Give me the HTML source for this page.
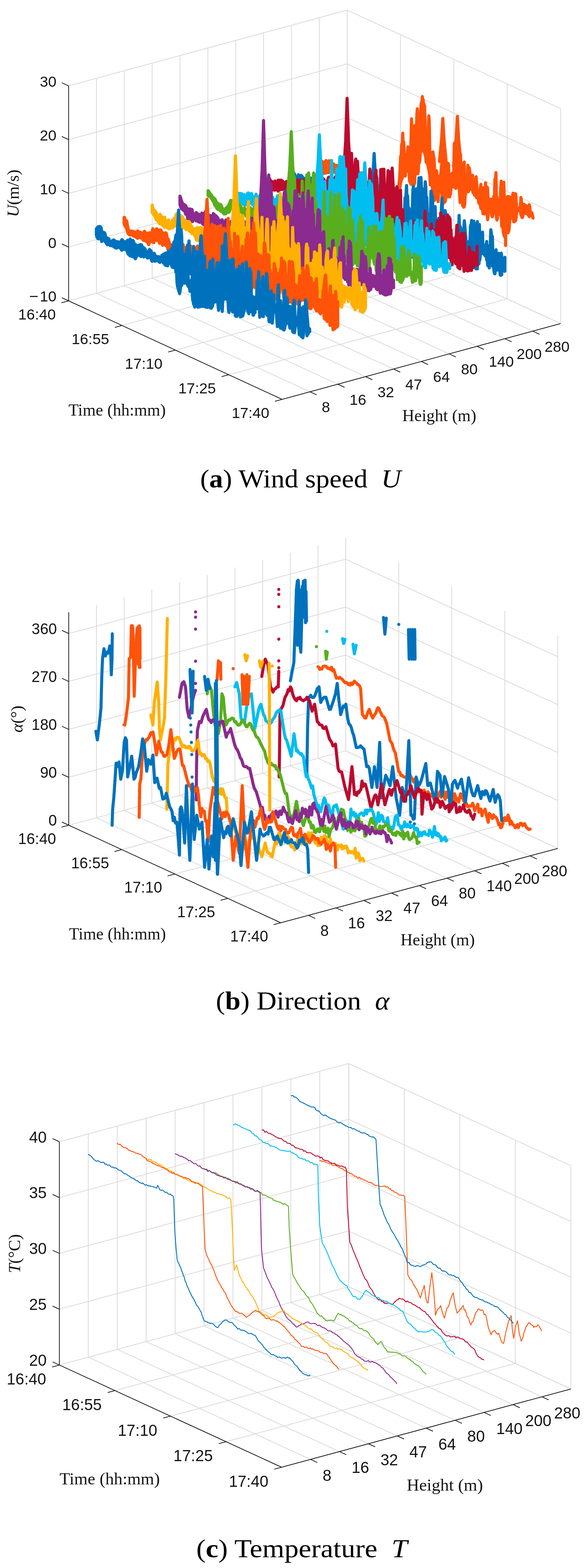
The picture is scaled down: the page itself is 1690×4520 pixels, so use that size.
<!DOCTYPE html>
<html><head><meta charset="utf-8"><title>Figure</title>
<style>html,body{margin:0;padding:0;background:#fff;}svg{display:block;}</style>
</head><body>
<svg width="1690" height="4520" viewBox="0 0 1690 4520" stroke-linecap="butt"><line x1="278.2" y1="845.4" x2="278.2" y2="225.8" stroke="#dadada" stroke-width="2.2"/>
<line x1="358.5" y1="823.5" x2="358.5" y2="203.9" stroke="#dadada" stroke-width="2.2"/>
<line x1="438.9" y1="801.7" x2="438.9" y2="182.1" stroke="#dadada" stroke-width="2.2"/>
<line x1="519.2" y1="779.8" x2="519.2" y2="160.2" stroke="#dadada" stroke-width="2.2"/>
<line x1="599.5" y1="758" x2="599.5" y2="138.4" stroke="#dadada" stroke-width="2.2"/>
<line x1="679.8" y1="736.1" x2="679.8" y2="116.5" stroke="#dadada" stroke-width="2.2"/>
<line x1="760.1" y1="714.2" x2="760.1" y2="94.6" stroke="#dadada" stroke-width="2.2"/>
<line x1="840.5" y1="692.4" x2="840.5" y2="72.8" stroke="#dadada" stroke-width="2.2"/>
<line x1="920.8" y1="670.6" x2="920.8" y2="51" stroke="#dadada" stroke-width="2.2"/>
<line x1="1001.1" y1="648.7" x2="1001.1" y2="29.1" stroke="#dadada" stroke-width="2.2"/>
<line x1="197.9" y1="867.2" x2="1001.1" y2="648.7" stroke="#dadada" stroke-width="2.2"/>
<line x1="197.9" y1="712.3" x2="1001.1" y2="493.8" stroke="#dadada" stroke-width="2.2"/>
<line x1="197.9" y1="557.4" x2="1001.1" y2="338.9" stroke="#dadada" stroke-width="2.2"/>
<line x1="197.9" y1="402.5" x2="1001.1" y2="184" stroke="#dadada" stroke-width="2.2"/>
<line x1="197.9" y1="247.6" x2="1001.1" y2="29.1" stroke="#dadada" stroke-width="2.2"/>
<line x1="1001.1" y1="648.7" x2="1001.1" y2="29.1" stroke="#dadada" stroke-width="2.2"/>
<line x1="1155" y1="719.7" x2="1155" y2="100.1" stroke="#dadada" stroke-width="2.2"/>
<line x1="1308.9" y1="790.7" x2="1308.9" y2="171.1" stroke="#dadada" stroke-width="2.2"/>
<line x1="1462.8" y1="861.7" x2="1462.8" y2="242.1" stroke="#dadada" stroke-width="2.2"/>
<line x1="1616.7" y1="932.7" x2="1616.7" y2="313.1" stroke="#dadada" stroke-width="2.2"/>
<line x1="1001.1" y1="648.7" x2="1616.7" y2="932.7" stroke="#dadada" stroke-width="2.2"/>
<line x1="1001.1" y1="493.8" x2="1616.7" y2="777.8" stroke="#dadada" stroke-width="2.2"/>
<line x1="1001.1" y1="338.9" x2="1616.7" y2="622.9" stroke="#dadada" stroke-width="2.2"/>
<line x1="1001.1" y1="184" x2="1616.7" y2="468" stroke="#dadada" stroke-width="2.2"/>
<line x1="1001.1" y1="29.1" x2="1616.7" y2="313.1" stroke="#dadada" stroke-width="2.2"/>
<line x1="278.2" y1="845.4" x2="893.8" y2="1129.3" stroke="#dadada" stroke-width="2.2"/>
<line x1="358.5" y1="823.5" x2="974.1" y2="1107.5" stroke="#dadada" stroke-width="2.2"/>
<line x1="438.9" y1="801.7" x2="1054.5" y2="1085.7" stroke="#dadada" stroke-width="2.2"/>
<line x1="519.2" y1="779.8" x2="1134.8" y2="1063.8" stroke="#dadada" stroke-width="2.2"/>
<line x1="599.5" y1="758" x2="1215.1" y2="1042" stroke="#dadada" stroke-width="2.2"/>
<line x1="679.8" y1="736.1" x2="1295.4" y2="1020.1" stroke="#dadada" stroke-width="2.2"/>
<line x1="760.1" y1="714.2" x2="1375.7" y2="998.2" stroke="#dadada" stroke-width="2.2"/>
<line x1="840.5" y1="692.4" x2="1456.1" y2="976.4" stroke="#dadada" stroke-width="2.2"/>
<line x1="920.8" y1="670.6" x2="1536.4" y2="954.6" stroke="#dadada" stroke-width="2.2"/>
<line x1="1001.1" y1="648.7" x2="1616.7" y2="932.7" stroke="#dadada" stroke-width="2.2"/>
<line x1="351.8" y1="938.2" x2="1155" y2="719.7" stroke="#dadada" stroke-width="2.2"/>
<line x1="505.7" y1="1009.2" x2="1308.9" y2="790.7" stroke="#dadada" stroke-width="2.2"/>
<line x1="659.6" y1="1080.2" x2="1462.8" y2="861.7" stroke="#dadada" stroke-width="2.2"/>
<line x1="813.5" y1="1151.2" x2="1616.7" y2="932.7" stroke="#dadada" stroke-width="2.2"/>
<line x1="278.1" y1="2357.4" x2="278.1" y2="1743.5" stroke="#dadada" stroke-width="2.2"/>
<line x1="358" y1="2335.9" x2="358" y2="1722.1" stroke="#dadada" stroke-width="2.2"/>
<line x1="437.8" y1="2314.5" x2="437.8" y2="1700.6" stroke="#dadada" stroke-width="2.2"/>
<line x1="517.7" y1="2293.1" x2="517.7" y2="1679.2" stroke="#dadada" stroke-width="2.2"/>
<line x1="597.6" y1="2271.7" x2="597.6" y2="1657.8" stroke="#dadada" stroke-width="2.2"/>
<line x1="677.5" y1="2250.2" x2="677.5" y2="1636.3" stroke="#dadada" stroke-width="2.2"/>
<line x1="757.4" y1="2228.8" x2="757.4" y2="1614.9" stroke="#dadada" stroke-width="2.2"/>
<line x1="837.2" y1="2207.4" x2="837.2" y2="1593.5" stroke="#dadada" stroke-width="2.2"/>
<line x1="917.1" y1="2185.9" x2="917.1" y2="1572.1" stroke="#dadada" stroke-width="2.2"/>
<line x1="997" y1="2164.5" x2="997" y2="1550.6" stroke="#dadada" stroke-width="2.2"/>
<line x1="198.2" y1="2378.8" x2="997" y2="2164.5" stroke="#dadada" stroke-width="2.2"/>
<line x1="198.2" y1="2240.7" x2="997" y2="2026.4" stroke="#dadada" stroke-width="2.2"/>
<line x1="198.2" y1="2102.6" x2="997" y2="1888.3" stroke="#dadada" stroke-width="2.2"/>
<line x1="198.2" y1="1964.4" x2="997" y2="1750.1" stroke="#dadada" stroke-width="2.2"/>
<line x1="198.2" y1="1826.3" x2="997" y2="1612" stroke="#dadada" stroke-width="2.2"/>
<line x1="997" y1="2164.5" x2="997" y2="1550.6" stroke="#dadada" stroke-width="2.2"/>
<line x1="1149.9" y1="2234.8" x2="1149.9" y2="1620.9" stroke="#dadada" stroke-width="2.2"/>
<line x1="1302.8" y1="2305.1" x2="1302.8" y2="1691.2" stroke="#dadada" stroke-width="2.2"/>
<line x1="1455.7" y1="2375.4" x2="1455.7" y2="1761.5" stroke="#dadada" stroke-width="2.2"/>
<line x1="1608.6" y1="2445.7" x2="1608.6" y2="1831.8" stroke="#dadada" stroke-width="2.2"/>
<line x1="997" y1="2164.5" x2="1608.6" y2="2445.7" stroke="#dadada" stroke-width="2.2"/>
<line x1="997" y1="2026.4" x2="1608.6" y2="2307.6" stroke="#dadada" stroke-width="2.2"/>
<line x1="997" y1="1888.3" x2="1608.6" y2="2169.5" stroke="#dadada" stroke-width="2.2"/>
<line x1="997" y1="1750.1" x2="1608.6" y2="2031.3" stroke="#dadada" stroke-width="2.2"/>
<line x1="997" y1="1612" x2="1608.6" y2="1893.2" stroke="#dadada" stroke-width="2.2"/>
<line x1="278.1" y1="2357.4" x2="889.7" y2="2638.6" stroke="#dadada" stroke-width="2.2"/>
<line x1="358" y1="2335.9" x2="969.6" y2="2617.1" stroke="#dadada" stroke-width="2.2"/>
<line x1="437.8" y1="2314.5" x2="1049.4" y2="2595.7" stroke="#dadada" stroke-width="2.2"/>
<line x1="517.7" y1="2293.1" x2="1129.3" y2="2574.3" stroke="#dadada" stroke-width="2.2"/>
<line x1="597.6" y1="2271.7" x2="1209.2" y2="2552.8" stroke="#dadada" stroke-width="2.2"/>
<line x1="677.5" y1="2250.2" x2="1289.1" y2="2531.4" stroke="#dadada" stroke-width="2.2"/>
<line x1="757.4" y1="2228.8" x2="1369" y2="2510" stroke="#dadada" stroke-width="2.2"/>
<line x1="837.2" y1="2207.4" x2="1448.8" y2="2488.6" stroke="#dadada" stroke-width="2.2"/>
<line x1="917.1" y1="2185.9" x2="1528.7" y2="2467.1" stroke="#dadada" stroke-width="2.2"/>
<line x1="997" y1="2164.5" x2="1608.6" y2="2445.7" stroke="#dadada" stroke-width="2.2"/>
<line x1="351.1" y1="2449.1" x2="1149.9" y2="2234.8" stroke="#dadada" stroke-width="2.2"/>
<line x1="504" y1="2519.4" x2="1302.8" y2="2305.1" stroke="#dadada" stroke-width="2.2"/>
<line x1="656.9" y1="2589.7" x2="1455.7" y2="2375.4" stroke="#dadada" stroke-width="2.2"/>
<line x1="809.8" y1="2660" x2="1608.6" y2="2445.7" stroke="#dadada" stroke-width="2.2"/>
<line x1="254.6" y1="3912.3" x2="254.6" y2="3268.7" stroke="#dadada" stroke-width="2.2"/>
<line x1="338.1" y1="3889.8" x2="338.1" y2="3246.2" stroke="#dadada" stroke-width="2.2"/>
<line x1="421.5" y1="3867.2" x2="421.5" y2="3223.6" stroke="#dadada" stroke-width="2.2"/>
<line x1="505" y1="3844.7" x2="505" y2="3201.1" stroke="#dadada" stroke-width="2.2"/>
<line x1="588.4" y1="3822.1" x2="588.4" y2="3178.5" stroke="#dadada" stroke-width="2.2"/>
<line x1="671.8" y1="3799.5" x2="671.8" y2="3155.9" stroke="#dadada" stroke-width="2.2"/>
<line x1="755.3" y1="3777" x2="755.3" y2="3133.4" stroke="#dadada" stroke-width="2.2"/>
<line x1="838.7" y1="3754.4" x2="838.7" y2="3110.8" stroke="#dadada" stroke-width="2.2"/>
<line x1="922.2" y1="3731.9" x2="922.2" y2="3088.3" stroke="#dadada" stroke-width="2.2"/>
<line x1="1005.6" y1="3709.3" x2="1005.6" y2="3065.7" stroke="#dadada" stroke-width="2.2"/>
<line x1="171.2" y1="3934.9" x2="1005.6" y2="3709.3" stroke="#dadada" stroke-width="2.2"/>
<line x1="171.2" y1="3774" x2="1005.6" y2="3548.4" stroke="#dadada" stroke-width="2.2"/>
<line x1="171.2" y1="3613.1" x2="1005.6" y2="3387.5" stroke="#dadada" stroke-width="2.2"/>
<line x1="171.2" y1="3452.2" x2="1005.6" y2="3226.6" stroke="#dadada" stroke-width="2.2"/>
<line x1="171.2" y1="3291.3" x2="1005.6" y2="3065.7" stroke="#dadada" stroke-width="2.2"/>
<line x1="1005.6" y1="3709.3" x2="1005.6" y2="3065.7" stroke="#dadada" stroke-width="2.2"/>
<line x1="1165.8" y1="3783" x2="1165.8" y2="3139.4" stroke="#dadada" stroke-width="2.2"/>
<line x1="1326" y1="3856.6" x2="1326" y2="3213" stroke="#dadada" stroke-width="2.2"/>
<line x1="1486.2" y1="3930.2" x2="1486.2" y2="3286.7" stroke="#dadada" stroke-width="2.2"/>
<line x1="1646.4" y1="4003.9" x2="1646.4" y2="3360.3" stroke="#dadada" stroke-width="2.2"/>
<line x1="1005.6" y1="3709.3" x2="1646.4" y2="4003.9" stroke="#dadada" stroke-width="2.2"/>
<line x1="1005.6" y1="3548.4" x2="1646.4" y2="3843" stroke="#dadada" stroke-width="2.2"/>
<line x1="1005.6" y1="3387.5" x2="1646.4" y2="3682.1" stroke="#dadada" stroke-width="2.2"/>
<line x1="1005.6" y1="3226.6" x2="1646.4" y2="3521.2" stroke="#dadada" stroke-width="2.2"/>
<line x1="1005.6" y1="3065.7" x2="1646.4" y2="3360.3" stroke="#dadada" stroke-width="2.2"/>
<line x1="254.6" y1="3912.3" x2="895.4" y2="4206.9" stroke="#dadada" stroke-width="2.2"/>
<line x1="338.1" y1="3889.8" x2="978.9" y2="4184.4" stroke="#dadada" stroke-width="2.2"/>
<line x1="421.5" y1="3867.2" x2="1062.3" y2="4161.8" stroke="#dadada" stroke-width="2.2"/>
<line x1="505" y1="3844.7" x2="1145.8" y2="4139.3" stroke="#dadada" stroke-width="2.2"/>
<line x1="588.4" y1="3822.1" x2="1229.2" y2="4116.7" stroke="#dadada" stroke-width="2.2"/>
<line x1="671.8" y1="3799.5" x2="1312.6" y2="4094.1" stroke="#dadada" stroke-width="2.2"/>
<line x1="755.3" y1="3777" x2="1396.1" y2="4071.6" stroke="#dadada" stroke-width="2.2"/>
<line x1="838.7" y1="3754.4" x2="1479.5" y2="4049" stroke="#dadada" stroke-width="2.2"/>
<line x1="922.2" y1="3731.9" x2="1563" y2="4026.5" stroke="#dadada" stroke-width="2.2"/>
<line x1="1005.6" y1="3709.3" x2="1646.4" y2="4003.9" stroke="#dadada" stroke-width="2.2"/>
<line x1="331.4" y1="4008.6" x2="1165.8" y2="3783" stroke="#dadada" stroke-width="2.2"/>
<line x1="491.6" y1="4082.2" x2="1326" y2="3856.6" stroke="#dadada" stroke-width="2.2"/>
<line x1="651.8" y1="4155.9" x2="1486.2" y2="3930.2" stroke="#dadada" stroke-width="2.2"/>
<line x1="812" y1="4229.5" x2="1646.4" y2="4003.9" stroke="#dadada" stroke-width="2.2"/>
<polygon points="921,480.8 922.5,477.7 924,469.5 925.5,467 927,469.3 928.5,464.7 930,466.1 931.5,473.6 933,471 934.5,472 936,471.4 937.5,471.8 939,463.8 940.5,462.7 942,467.5 943.5,474.9 945,475 946.5,467 948,465 949.5,463.2 951,464.5 952.6,465.8 954.1,468.5 955.6,469 957.1,471.6 958.6,472.6 960.1,473.2 961.6,472.3 963.1,474.2 964.6,475.6 966.1,478.1 967.6,480.1 969.1,477 970.6,476.3 972.1,478.6 973.6,477.8 975.1,477.7 976.6,478.3 978.1,478.5 979.6,482 981.1,476 982.6,478.9 984.1,478.6 985.6,480.1 987.1,481.6 988.6,483.1 990.1,485.1 991.6,492.7 993.1,492.8 994.6,489.1 996.1,492.7 997.6,498.7 999.1,502.2 1000.6,506.1 1002.1,507.3 1003.6,506.9 1005.1,505.5 1006.6,504.4 1008.1,506.8 1009.6,512.8 1011.1,514 1012.6,515.1 1014.2,516.3 1015.7,517.4 1017.2,514.5 1018.7,514.4 1020.2,514.8 1021.7,518 1023.2,517.6 1024.7,515.3 1026.2,512.4 1027.7,511.4 1029.2,516.4 1030.7,515.6 1032.2,516.8 1033.7,514.6 1035.2,521.6 1036.7,518 1038.2,520.3 1039.7,521.7 1041.2,525.6 1042.7,525.3 1044.2,525.3 1045.7,527.1 1047.2,527.4 1048.7,527.4 1050.2,525.2 1051.7,524.7 1053.2,525.4 1054.7,523.6 1056.2,529.2 1057.7,530.1 1059.2,529.3 1060.7,525.7 1062.2,528.6 1063.7,532.4 1065.2,533 1066.7,531 1068.2,527 1069.7,525.2 1071.2,530.5 1072.7,535.2 1074.2,535.2 1075.8,535.6 1077.3,536.3 1078.8,536.5 1080.3,529.8 1081.8,532 1083.3,532.1 1084.8,539.1 1086.3,537.1 1087.8,535 1089.3,537 1090.8,534.9 1092.3,536.2 1093.8,540.4 1095.3,538.2 1096.8,539.1 1098.3,547 1099.8,547.6 1101.3,548.6 1102.8,546.5 1104.3,546.2 1105.8,545.1 1107.3,545.4 1108.8,543.4 1110.3,542.9 1111.8,541.1 1113.3,540.8 1114.8,546.5 1116.3,548.3 1117.8,549.5 1119.3,543 1120.8,544.3 1122.3,547.8 1123.8,550.6 1125.3,550.8 1126.8,549.1 1128.3,549.1 1129.8,549.5 1131.3,549.6 1132.8,548 1134.3,550.5 1135.8,551.8 1137.4,550.6 1138.9,546.6 1140.4,543.5 1141.9,547 1143.4,550.1 1144.9,549.4 1146.4,546.5 1147.9,544.3 1149.4,544.4 1150.9,527.5 1152.4,514.1 1153.9,485.9 1155.4,450.1 1156.9,453.7 1158.4,416.3 1159.9,431.9 1161.4,384 1162.9,420.6 1164.4,409.7 1165.9,447.2 1167.4,446.8 1168.9,446.6 1170.4,446.3 1171.9,445.9 1173.4,445.2 1174.9,444.5 1176.4,423.4 1177.9,444 1179.4,443.7 1180.9,443.5 1182.4,443.2 1183.9,442.9 1185.4,402.9 1186.9,342.4 1188.4,427.2 1189.9,441.9 1191.4,441.6 1192.9,416.5 1194.4,375.2 1195.9,362.3 1197.4,428.3 1199,424.7 1200.5,421 1202,334.6 1203.5,313.7 1205,334.1 1206.5,388 1208,402.8 1209.5,399.2 1211,395.5 1212.5,362.3 1214,305.1 1215.5,294.3 1217,294.1 1218.5,285.4 1220,286.3 1221.5,297.8 1223,300.8 1224.5,305.5 1226,352 1227.5,395.1 1229,397.8 1230.5,400.4 1232,403 1233.5,405.6 1235,393.7 1236.5,334 1238,350 1239.5,435.7 1241,444.4 1242.5,467.7 1244,478.5 1245.5,487.4 1247,478.7 1248.5,438 1250,450.4 1251.5,454.1 1253,478.1 1254.5,518.5 1256,491.1 1257.5,523.8 1259,493.1 1260.6,510.9 1262.1,507.7 1263.6,520.3 1265.1,516.7 1266.6,513.1 1268.1,509.5 1269.6,505.9 1271.1,501.8 1272.6,486.5 1274.1,471.3 1275.6,396 1277.1,357.9 1278.6,383.2 1280.1,456.9 1281.6,464.4 1283.1,449.7 1284.6,448 1286.1,487 1287.6,494.5 1289.1,502 1290.6,509.5 1292.1,470.8 1293.6,474.7 1295.1,509.1 1296.6,507.5 1298.1,506 1299.6,504.5 1301.1,503 1302.6,501.5 1304.1,500 1305.6,498.5 1307.1,496.6 1308.6,494.7 1310.1,413.2 1311.6,411.6 1313.1,410 1314.6,481 1316.1,459.6 1317.6,452 1319.1,497.7 1320.6,472.7 1322.2,484.9 1323.7,507.7 1325.2,473.8 1326.7,442.7 1328.2,444.6 1329.7,516.9 1331.2,519.2 1332.7,522.2 1334.2,526 1335.7,529.8 1337.2,493.1 1338.7,467.3 1340.2,536.1 1341.7,536.6 1343.2,537.2 1344.7,537.7 1346.2,508.6 1347.7,534.6 1349.2,476.6 1350.7,505.3 1352.2,482.6 1353.7,484.9 1355.2,497.5 1356.7,523.5 1358.2,537.7 1359.7,537.5 1361.2,506.2 1362.7,505.3 1364.2,531.6 1365.7,536.5 1367.2,536.7 1368.7,539.1 1370.2,516.5 1371.7,534.1 1373.2,509.6 1374.7,531.1 1376.2,551.1 1377.7,553.5 1379.2,556 1380.7,558.4 1382.2,560.8 1383.8,558.3 1385.3,541.9 1386.8,531.5 1388.3,569.1 1389.8,571.1 1391.3,573 1392.8,575 1394.3,541.2 1395.8,555.3 1397.3,550.3 1398.8,575.7 1400.3,527.1 1401.8,585.9 1403.3,552.1 1404.8,539.3 1406.3,542.4 1407.8,581.3 1409.3,579.8 1410.8,578.3 1412.3,576.9 1413.8,575.4 1415.3,574.2 1416.8,574.3 1418.3,574.4 1419.8,574.5 1421.3,574.6 1422.8,574.7 1424.3,565.3 1425.8,574.9 1427.3,515.7 1428.8,516.5 1430.3,497.8 1431.8,574.9 1433.3,568.5 1434.8,583.4 1436.3,585.3 1437.8,579.5 1439.3,588.9 1440.8,590.8 1442.3,592.6 1443.8,548.8 1445.4,522.2 1446.9,568.1 1448.4,607.7 1449.9,577 1451.4,551 1452.9,525.5 1454.4,568.6 1455.9,578.7 1457.4,570.7 1458.9,626 1460.4,633.8 1461.9,585.7 1463.4,566.8 1464.9,567.8 1466.4,566.4 1467.9,590.6 1469.4,567.4 1470.9,591 1472.4,587.5 1473.9,608.9 1475.4,606.7 1476.9,605.2 1478.4,563.9 1479.9,556.8 1481.4,567.7 1482.9,600.6 1484.4,599.5 1485.9,558.2 1487.4,559.1 1488.9,583.4 1490.4,598.9 1491.9,599.5 1493.4,600.2 1494.9,600.8 1496.4,601.4 1497.9,602 1499.4,601.5 1500.9,590.4 1502.4,569.4 1503.9,578.5 1505.4,602.6 1507,605.7 1508.5,606.3 1510,588.8 1511.5,588.9 1513,594.7 1514.5,592 1516,608.3 1517.5,592.8 1519,594.4 1520.5,596.6 1522,598.7 1523.5,603.5 1525,594.4 1526.5,590.1 1528,596.6 1529.5,612.2 1531,612.6 1532.5,613 1534,613.3 1535.5,620.7 1537,626.7 1537,628.7 1535.5,622.7 1534,618 1532.5,615.4 1531,615.2 1529.5,614.8 1528,619.7 1526.5,624.5 1525,620.1 1523.5,619.8 1522,616.6 1520.5,616.6 1519,615.1 1517.5,615.5 1516,615 1514.5,611.7 1513,611.4 1511.5,611.1 1510,610.8 1508.5,621.2 1507,626.4 1505.4,627 1503.9,620 1502.4,620.4 1500.9,608.7 1499.4,608.4 1497.9,608 1496.4,607.7 1494.9,607.3 1493.4,607 1491.9,606.6 1490.4,606.3 1488.9,623.6 1487.4,635.3 1485.9,636.6 1484.4,638.1 1482.9,639.6 1481.4,639.1 1479.9,611.2 1478.4,612.5 1476.9,628.8 1475.4,629.5 1473.9,617.8 1472.4,620.3 1470.9,622.7 1469.4,645.7 1467.9,663.7 1466.4,667.9 1464.9,671.3 1463.4,665.4 1461.9,653.4 1460.4,652.3 1458.9,665.7 1457.4,676.5 1455.9,683.4 1454.4,680.3 1452.9,675.3 1451.4,668.1 1449.9,648.2 1448.4,628.9 1446.9,652.6 1445.4,616.9 1443.8,617.3 1442.3,610.7 1440.8,607.9 1439.3,617.9 1437.8,618.2 1436.3,599.7 1434.8,628.5 1433.3,634.2 1431.8,627.8 1430.3,608.2 1428.8,613.7 1427.3,585.5 1425.8,585.4 1424.3,585.4 1422.8,591.6 1421.3,620.7 1419.8,625.1 1418.3,622 1416.8,604.6 1415.3,585.5 1413.8,586.6 1412.3,588 1410.8,589.4 1409.3,594.7 1407.8,621.5 1406.3,633.5 1404.8,617.8 1403.3,596.4 1401.8,597.3 1400.3,595 1398.8,603.2 1397.3,616.9 1395.8,611.3 1394.3,602.9 1392.8,616 1391.3,603.6 1389.8,602.5 1388.3,595.2 1386.8,601 1385.3,589.4 1383.8,588.4 1382.2,582.4 1380.7,585.1 1379.2,569.9 1377.7,559.6 1376.2,563.2 1374.7,570.2 1373.2,559.5 1371.7,564.8 1370.2,553.1 1368.7,563.2 1367.2,558.7 1365.7,556.4 1364.2,555.7 1362.7,545.5 1361.2,543.7 1359.7,544.3 1358.2,545 1356.7,545.6 1355.2,546.2 1353.7,546.9 1352.2,547.5 1350.7,552.7 1349.2,548.8 1347.7,548.8 1346.2,548.7 1344.7,549.8 1343.2,557.1 1341.7,563.3 1340.2,588.7 1338.7,595.8 1337.2,597.3 1335.7,578.6 1334.2,592.6 1332.7,571.7 1331.2,578.3 1329.7,581 1328.2,578.2 1326.7,583.6 1325.2,552.1 1323.7,542.1 1322.2,527.7 1320.6,522.4 1319.1,517.1 1317.6,515.1 1316.1,536.5 1314.6,543 1313.1,527.8 1311.6,511.8 1310.1,520.3 1308.6,538.8 1307.1,528.8 1305.6,521 1304.1,518 1302.6,520 1301.1,537.4 1299.6,559.3 1298.1,561.3 1296.6,568 1295.1,563 1293.6,560.7 1292.1,566.8 1290.6,535.9 1289.1,537.4 1287.6,538.9 1286.1,565.7 1284.6,579.2 1283.1,582.6 1281.6,570.1 1280.1,561.5 1278.6,582.9 1277.1,589.4 1275.6,588.6 1274.1,547.5 1272.6,546.5 1271.1,545.5 1269.6,544.9 1268.1,544.4 1266.6,554.1 1265.1,551.6 1263.6,581.4 1262.1,569.1 1260.6,574.4 1259,562.1 1257.5,540.2 1256,556.6 1254.5,567.1 1253,577.4 1251.5,576.5 1250,572.2 1248.5,562.6 1247,540.5 1245.5,532.8 1244,527.4 1242.5,520.4 1241,532.9 1239.5,506.3 1238,496.3 1236.5,488.5 1235,480.7 1233.5,473.7 1232,468 1230.5,462.4 1229,467.8 1227.5,451.1 1226,445.5 1224.5,441.8 1223,434.2 1221.5,428.6 1220,422.9 1218.5,417.3 1217,419.1 1215.5,435.2 1214,429.6 1212.5,439.5 1211,458.5 1209.5,469.2 1208,460.4 1206.5,493.5 1205,501.1 1203.5,488.4 1202,493.4 1200.5,487.5 1199,482.2 1197.4,492.5 1195.9,528.3 1194.4,531.4 1192.9,534.2 1191.4,505.2 1189.9,513.3 1188.4,515.7 1186.9,528 1185.4,531.4 1183.9,528 1182.4,524.5 1180.9,521.1 1179.4,477.6 1177.9,474.2 1176.4,470.7 1174.9,467.5 1173.4,490.3 1171.9,494.2 1170.4,490.8 1168.9,507.4 1167.4,500.7 1165.9,485.3 1164.4,482.9 1162.9,482.1 1161.4,493.8 1159.9,514.5 1158.4,511.7 1156.9,521.3 1155.4,526.5 1153.9,536.3 1152.4,547.2 1150.9,564.8 1149.4,566.1 1147.9,564.1 1146.4,565.8 1144.9,570 1143.4,569.8 1141.9,565.7 1140.4,566 1138.9,565.1 1137.4,567.5 1135.8,566.2 1134.3,564.7 1132.8,562.5 1131.3,560.7 1129.8,563.1 1128.3,566.8 1126.8,565.8 1125.3,566.1 1123.8,565.6 1122.3,564.9 1120.8,564.4 1119.3,560.3 1117.8,559.1 1116.3,559.8 1114.8,560.3 1113.3,566.8 1111.8,566.4 1110.3,566.4 1108.8,561.4 1107.3,559.6 1105.8,557.9 1104.3,558 1102.8,558 1101.3,560.9 1099.8,561.3 1098.3,558.8 1096.8,555.9 1095.3,555.7 1093.8,560.9 1092.3,561.5 1090.8,556.1 1089.3,552.7 1087.8,552.1 1086.3,555.7 1084.8,555.9 1083.3,553.1 1081.8,551.5 1080.3,551 1078.8,553.5 1077.3,557 1075.8,552.8 1074.2,548.5 1072.7,546.4 1071.2,550.3 1069.7,547.1 1068.2,546.2 1066.7,547.7 1065.2,550.7 1063.7,548.7 1062.2,550.3 1060.7,547 1059.2,543.1 1057.7,540.4 1056.2,539.6 1054.7,539.4 1053.2,541 1051.7,546.6 1050.2,544.1 1048.7,544.1 1047.2,538.1 1045.7,537 1044.2,536.6 1042.7,539.9 1041.2,540.6 1039.7,543.7 1038.2,545 1036.7,543.5 1035.2,542.9 1033.7,541.4 1032.2,543.1 1030.7,543.2 1029.2,542.3 1027.7,533.4 1026.2,533.4 1024.7,537.9 1023.2,539.2 1021.7,539 1020.2,535.3 1018.7,531.3 1017.2,531.5 1015.7,532.2 1014.2,528.7 1012.6,527.1 1011.1,524.3 1009.6,522.8 1008.1,522 1006.6,520.6 1005.1,519.4 1003.6,519 1002.1,517.2 1000.6,517.3 999.1,518.5 997.6,515.5 996.1,522.5 994.6,520.7 993.1,520.1 991.6,517.5 990.1,514.6 988.6,508 987.1,511.3 985.6,508.1 984.1,510 982.6,507.6 981.1,510.8 979.6,507.5 978.1,503.1 976.6,498.2 975.1,495.7 973.6,495.5 972.1,499.9 970.6,498.1 969.1,494.5 967.6,493.3 966.1,497.8 964.6,493.9 963.1,492.5 961.6,495.9 960.1,495.5 958.6,495.2 957.1,491.6 955.6,491.6 954.1,492.6 952.6,496.4 951,492.4 949.5,495.3 948,496.7 946.5,497.7 945,497.5 943.5,494.5 942,494.6 940.5,498.7 939,499 937.5,499.2 936,499.4 934.5,499.3 933,499.9 931.5,492.6 930,489.6 928.5,489.3 927,492.3 925.5,495 924,495.8 922.5,497.2 921,499" fill="#FF5309" stroke="#FF5309" stroke-width="9" stroke-linejoin="round"/>
<polygon points="1218,278.5 1220.4,320.5 1225,367 1211,367 1215.6,320.5" fill="#FF5309" stroke="#FF5309" stroke-width="9" stroke-linejoin="round"/>
<polygon points="1319,335.5 1322.9,404.8 1330.1,478.6 1307.9,478.6 1315.1,404.8" fill="#FF5309" stroke="#FF5309" stroke-width="9" stroke-linejoin="round"/>
<polygon points="1277,341.5 1280.4,401.2 1286.6,465.5 1267.4,465.5 1273.6,401.2" fill="#FF5309" stroke="#FF5309" stroke-width="9" stroke-linejoin="round"/>
<line x1="1458" y1="707.5" x2="1458" y2="621" stroke="#FF5309" stroke-width="9" stroke-linecap="round"/>
<polygon points="841,501.9 842.5,499.2 844,504.7 845.5,502.6 847,500 848.5,500.4 850,502.6 851.5,509.4 853,512 854.5,514.4 856,514.9 857.5,511.2 859,512.2 860.5,503.6 862,510.2 863.5,513.1 865,512.8 866.5,510.4 868,505.4 869.5,511.2 871,507.7 872.5,513.1 874,511.6 875.5,513.8 877,520.1 878.5,520.4 880,521 881.5,515.8 883,512.5 884.5,512 886,521.4 887.5,521.2 889,518.1 890.5,513.8 892,512.2 893.5,515.4 895,513.1 896.5,513.5 898,519.1 899.5,521.4 901,523.8 902.5,526.9 904,524.1 905.5,523.7 907,516.6 908.5,517.3 910,520.2 911.5,523 913,525.7 914.5,529.5 916,529.8 917.5,526.5 919,526.4 920.5,528.9 922,530.6 923.5,530.2 925,531.4 926.5,530.3 928,530.4 929.5,525.7 931,524.6 932.5,521.8 934,525 935.5,523.6 937,522.8 938.5,524.9 940,529 941.5,530.6 943,534.9 944.5,534.6 946,533.5 947.5,530.6 949,530.8 950.5,534 952,530.3 953.5,525.5 955,525.8 956.5,535.4 958,537.4 959.5,536 961,537.1 962.5,533.6 964,528.8 965.5,528.1 967,533.8 968.5,534.9 970,535 971.5,534.5 973,541.2 974.5,533.4 976,538.7 977.5,533 979,534 980.5,537 982,538.8 983.5,536.8 985,530.1 986.5,534.8 988,543.8 989.5,538.9 991,542.4 992.5,539.6 994,544.6 995.5,542 997,542.6 998.5,539.5 1000,537.2 1001.5,539.1 1003,540.7 1004.5,546.6 1006,545 1007.5,535.1 1009,535.3 1010.5,533.3 1012,533.5 1013.5,533.7 1015,533.9 1016.5,534.1 1018,534.5 1019.5,546.7 1021,547.8 1022.5,547.6 1024,549.9 1025.5,550.1 1027,549.6 1028.5,545.4 1030,536.4 1031.5,537 1033,536.1 1034.5,540 1036,542.4 1037.5,547.5 1039,548.4 1040.5,547.6 1042,546.2 1043.5,543.8 1045,538.5 1046.5,539 1048,538 1049.5,538.2 1051,538.4 1052.5,538.6 1054,542.4 1055.5,544 1057,546.7 1058.5,541.5 1060,544.1 1061.5,540.5 1063,543.2 1064.5,542.7 1066,547.6 1067.5,554 1069,554.5 1070.5,555.5 1072,552.4 1073.5,546 1075,528.7 1076.5,565.1 1078,566.9 1079.5,566.7 1081,569.7 1082.5,572.6 1084,575.6 1085.5,507.1 1087,512.3 1088.5,552.4 1090,564.9 1091.5,580 1093,580.6 1094.5,596.3 1096,583.6 1097.5,551 1099,553.7 1100.5,572.3 1102,603.8 1103.5,570.6 1105,569.4 1106.5,547.3 1108,571.8 1109.5,567.3 1111,545.5 1112.5,605.4 1114,605.6 1115.5,605.8 1117,606.1 1118.5,606.3 1120,606.5 1121.5,606.7 1123,607 1124.5,557.7 1126,555.9 1127.5,606.1 1129,607.9 1130.5,608.1 1132,608.3 1133.5,608.5 1135,608.8 1136.5,561.5 1138,550.5 1139.5,581.6 1141,605.3 1142.5,605.8 1144,584.2 1145.5,582.1 1147,556.3 1148.5,572.7 1150,583.1 1151.5,613.2 1153,613.7 1154.5,614.2 1156,614.7 1157.5,615.2 1159,606.2 1160.5,616.1 1162,611.7 1163.5,611.6 1165,617.6 1166.5,618.1 1168,570.8 1169.5,589.9 1171,558.7 1172.5,534.8 1174,582.5 1175.5,564.5 1177,600.2 1178.5,598.5 1180,600.3 1181.5,619.1 1183,618.8 1184.5,618.4 1186,618.1 1187.5,616.1 1189,617.4 1190.5,551 1192,537 1193.5,577 1195,616 1196.5,615.6 1198,615.3 1199.5,577.5 1201,544.1 1202.5,614.2 1204,613.9 1205.5,607.2 1207,530.6 1208.5,512.8 1210,612.4 1211.5,612.1 1213,611.7 1214.5,612 1216,613.5 1217.5,605.6 1219,611.3 1220.5,549.9 1222,594.5 1223.5,544.2 1225,578.4 1226.5,524 1228,538.2 1229.5,627 1231,569.1 1232.5,630 1234,631.5 1235.5,616.5 1237,634.5 1238.5,636 1240,637.5 1241.5,610.4 1243,551 1244.5,559.8 1246,565.4 1247.5,568.1 1249,640.3 1250.5,648 1252,649.5 1253.5,602.3 1255,595.6 1256.5,654 1258,655.5 1259.5,656.9 1261,658.3 1262.5,659.7 1264,632.2 1265.5,629.3 1267,650 1268.5,656.7 1270,630.1 1271.5,652.7 1273,603.7 1274.5,570.9 1276,608.6 1277.5,613.4 1279,608.2 1280.5,656.4 1282,677.9 1283.5,607 1285,613.3 1286.5,641.8 1288,641.8 1289.5,670.4 1291,685.5 1292.5,686.4 1294,687.2 1295.5,688 1297,688.9 1298.5,689.7 1300,690.6 1301.5,691.4 1303,692.2 1304.5,693.1 1306,693.9 1307.5,694.7 1309,695.6 1310.5,696.4 1312,697.3 1313.5,698.1 1315,698.9 1316.5,699.8 1318,682.1 1319.5,701.4 1321,702.1 1322.5,681.1 1324,620.9 1325.5,684 1327,652.6 1328.5,656.6 1330,689 1331.5,707.3 1333,708.1 1334.5,692.6 1336,701.5 1337.5,664.7 1339,636.5 1340.5,650.6 1342,670.5 1343.5,684.2 1345,714 1346.5,714.7 1348,697.4 1349.5,716.2 1351,710.9 1352.5,695.7 1354,718.4 1355.5,687.2 1357,649.9 1358.5,655.4 1360,635.6 1361.5,720.1 1363,720.5 1364.5,720.8 1366,637.6 1367.5,644.9 1369,661.6 1370.5,687.9 1372,685.3 1373.5,659.7 1375,660.5 1376.5,638.7 1378,679 1379.5,661.2 1381,668.1 1382.5,647.2 1384,692.1 1385.5,715.5 1387,719.6 1388.5,719.1 1390,719.6 1391.5,669.2 1393,721.6 1394.5,722.7 1396,723.7 1397.5,724.7 1399,707.3 1400.5,726.8 1402,710.8 1403.5,696.2 1405,729.9 1406.5,730.9 1408,732 1409.5,733 1411,734 1412.5,707.9 1414,704.3 1415.5,662.2 1417,671 1418.5,692.7 1420,681.8 1421.5,736.5 1423,742.4 1424.5,743.5 1426,744.6 1427.5,745.7 1429,731.7 1430.5,720 1432,749 1433.5,750.1 1435,751.2 1436.5,752.3 1438,730.2 1439.5,752.9 1441,755.6 1442.5,756.5 1444,737.7 1445.5,729.7 1447,738.3 1448.5,760.2 1450,761.1 1451.5,762.1 1453,763 1454.5,763.9 1456,741.8 1456,781.9 1454.5,774.3 1453,771.7 1451.5,774.5 1450,767.2 1448.5,766.7 1447,791.9 1445.5,792.8 1444,793.7 1442.5,792.6 1441,773.1 1439.5,763 1438,762 1436.5,770.7 1435,778.5 1433.5,773.2 1432,772 1430.5,779.4 1429,761.5 1427.5,789.4 1426,788.7 1424.5,781 1423,761.5 1421.5,768.6 1420,765.4 1418.5,748.9 1417,762.2 1415.5,758.8 1414,759.7 1412.5,763.7 1411,772.4 1409.5,766.5 1408,760.9 1406.5,765.2 1405,747.3 1403.5,749.1 1402,737.5 1400.5,736.4 1399,737.5 1397.5,734.4 1396,733.3 1394.5,732.3 1393,731.3 1391.5,730.2 1390,729.2 1388.5,728.7 1387,729.4 1385.5,730.1 1384,749.1 1382.5,750.3 1381,760.8 1379.5,753.1 1378,733.8 1376.5,775.1 1375,775.3 1373.5,774.9 1372,774.6 1370.5,768.3 1369,739.5 1367.5,733.6 1366,752.7 1364.5,756.6 1363,772.5 1361.5,764.2 1360,761.5 1358.5,762.5 1357,759.9 1355.5,770.8 1354,755.3 1352.5,729.9 1351,741.3 1349.5,740.5 1348,732.9 1346.5,741.3 1345,754.7 1343.5,757.2 1342,765.4 1340.5,750.5 1339,749.4 1337.5,733.2 1336,748.6 1334.5,748.1 1333,754.5 1331.5,754.9 1330,720.2 1328.5,719.6 1327,718.9 1325.5,718.3 1324,721.8 1322.5,750.3 1321,756.4 1319.5,755.7 1318,715.2 1316.5,714.7 1315,724.4 1313.5,747.5 1312,753.2 1310.5,752.7 1309,752.2 1307.5,733.6 1306,711.2 1304.5,710.7 1303,710.3 1301.5,731.9 1300,743.2 1298.5,718.1 1297,737.8 1295.5,724.1 1294,723.7 1292.5,706.8 1291,706.3 1289.5,705.8 1288,714.1 1286.5,740.5 1285,714 1283.5,743.9 1282,743 1280.5,739.6 1279,721.8 1277.5,725.4 1276,731.1 1274.5,740.9 1273,740.4 1271.5,729.5 1270,699.4 1268.5,731.8 1267,732.5 1265.5,731.5 1264,729.7 1262.5,727.9 1261,734.4 1259.5,721 1258,704.3 1256.5,708.2 1255,734.1 1253.5,722.6 1252,727.7 1250.5,712.7 1249,705.8 1247.5,690.7 1246,695.6 1244.5,706.1 1243,728.7 1241.5,728 1240,717.5 1238.5,726.6 1237,704.4 1235.5,725.3 1234,724.6 1232.5,694.4 1231,683.2 1229.5,688.7 1228,681.9 1226.5,681.2 1225,702.7 1223.5,719.8 1222,715.5 1220.5,678.5 1219,677.8 1217.5,677.3 1216,703.6 1214.5,711.4 1213,714.6 1211.5,713.3 1210,685.5 1208.5,697.5 1207,669.3 1205.5,668 1204,666.7 1202.5,665.4 1201,664 1199.5,666.3 1198,664.1 1196.5,691.9 1195,680.8 1193.5,661.9 1192,656.1 1190.5,689.8 1189,693.4 1187.5,692.1 1186,672.1 1184.5,676 1183,688.1 1181.5,682.5 1180,685.5 1178.5,684.4 1177,683.2 1175.5,682.1 1174,681 1172.5,676.3 1171,668.2 1169.5,677.6 1168,676.4 1166.5,635.4 1165,634.2 1163.5,636.3 1162,672 1160.5,658 1159,669.2 1157.5,628.6 1156,627.5 1154.5,654.7 1153,665.2 1151.5,664.1 1150,633.1 1148.5,644.9 1147,622.1 1145.5,621.5 1144,632.3 1142.5,657.4 1141,656.2 1139.5,655.3 1138,630.8 1136.5,618.4 1135,618.1 1133.5,617.8 1132,617.4 1130.5,643.7 1129,631.3 1127.5,647.4 1126,644.9 1124.5,640.6 1123,631.5 1121.5,627.3 1120,644.8 1118.5,643.9 1117,644.3 1115.5,643.8 1114,642.4 1112.5,627.7 1111,612.8 1109.5,612.5 1108,612.2 1106.5,626.7 1105,611.5 1103.5,611.2 1102,612.8 1100.5,610.5 1099,610.2 1097.5,615.8 1096,606.4 1094.5,603.8 1093,619.2 1091.5,625.4 1090,608.9 1088.5,617.2 1087,608.6 1085.5,605.4 1084,601.1 1082.5,614.1 1081,590.7 1079.5,584.3 1078,580.7 1076.5,589.1 1075,594.7 1073.5,599.8 1072,595.5 1070.5,594.2 1069,582.4 1067.5,578.6 1066,578.3 1064.5,586.5 1063,586.5 1061.5,577.2 1060,576.3 1058.5,572.2 1057,570.8 1055.5,570.4 1054,572.4 1052.5,583.6 1051,582.2 1049.5,578.5 1048,575.1 1046.5,572.1 1045,568.9 1043.5,567.6 1042,574.8 1040.5,580.2 1039,575.4 1037.5,573.7 1036,575.5 1034.5,567.9 1033,565.7 1031.5,564.8 1030,565.1 1028.5,564.9 1027,568.3 1025.5,570.3 1024,567.8 1022.5,572.4 1021,575.8 1019.5,571.9 1018,569.5 1016.5,568.1 1015,564 1013.5,567.6 1012,566.6 1010.5,565.9 1009,563.1 1007.5,562.8 1006,564.9 1004.5,569.9 1003,566.3 1001.5,567.5 1000,568.4 998.5,558.7 997,557.5 995.5,557.6 994,557.9 992.5,559.1 991,567.9 989.5,567.9 988,566.8 986.5,565.3 985,566.8 983.5,564.7 982,557.8 980.5,558.3 979,560.7 977.5,557.6 976,561.3 974.5,564.1 973,563.8 971.5,563.4 970,563 968.5,558.1 967,555.2 965.5,552.3 964,557 962.5,558.5 961,559.3 959.5,555.7 958,560 956.5,557.6 955,551.4 953.5,551 952,552.2 950.5,554.4 949,555.3 947.5,557.3 946,554.4 944.5,550.9 943,545.9 941.5,547.7 940,549.6 938.5,549.6 937,546.8 935.5,546.6 934,544 932.5,544.9 931,543.6 929.5,547.7 928,545 926.5,547.2 925,543.6 923.5,541.9 922,542 920.5,548.7 919,551.3 917.5,547.6 916,541.9 914.5,541.7 913,544.9 911.5,542.4 910,541.8 908.5,538.8 907,538.4 905.5,538.1 904,538.2 902.5,540.4 901,543.4 899.5,546.3 898,547 896.5,546.9 895,546.6 893.5,546.4 892,546.1 890.5,545.9 889,545.6 887.5,544.3 886,544.6 884.5,539.6 883,537 881.5,536.6 880,532.8 878.5,535 877,543.1 875.5,543.3 874,532.4 872.5,531.4 871,532.3 869.5,533.9 868,537.8 866.5,536.8 865,532.7 863.5,538.2 862,540.4 860.5,540.6 859,535.3 857.5,533.2 856,530.6 854.5,536.5 853,533.2 851.5,532.5 850,531.7 848.5,533.4 847,534.8 845.5,526.8 844,526.1 842.5,526.5 841,524.4" fill="#0072BD" stroke="#0072BD" stroke-width="9" stroke-linejoin="round"/>
<polygon points="1079,442.5 1081.9,494 1087.4,550 1070.6,550 1076.1,494" fill="#0072BD" stroke="#0072BD" stroke-width="9" stroke-linejoin="round"/>
<polygon points="1214,511.5 1216.8,560.2 1222,613.5 1206,613.5 1211.2,560.2" fill="#0072BD" stroke="#0072BD" stroke-width="9" stroke-linejoin="round"/>
<polygon points="760,533.7 761.5,532.2 763,528.1 764.5,528.4 766,527.3 767.5,526.1 769,523.5 770.5,525.7 772,526.5 773.5,520.4 775,515.3 776.5,515.6 778,516.1 779.5,520.6 781,521.2 782.5,523.4 784,524 785.5,526.3 787,528.8 788.5,529 790,523.5 791.6,524.2 793.1,521.8 794.6,524 796.1,527.9 797.6,526.9 799.1,528.3 800.6,526.2 802.1,519.5 803.6,519.5 805.1,520.6 806.6,519.5 808.1,519.5 809.6,519.5 811.1,519.5 812.6,521 814.1,521.6 815.6,522.9 817.1,525.4 818.6,525.7 820.1,529.3 821.6,530.3 823.1,527.8 824.6,526.4 826.1,522.9 827.6,529.2 829.1,531 830.6,531.8 832.1,528.6 833.6,526.2 835.1,523.7 836.6,530.4 838.1,532.4 839.6,532.6 841.1,532.3 842.6,532.9 844.1,526 845.6,521.9 847.1,524.1 848.6,528.2 850.1,528.6 851.6,524.7 853.2,521.3 854.7,522.1 856.2,519.8 857.7,521.3 859.2,519.5 860.7,520.7 862.2,526.4 863.7,519.5 865.2,525 866.7,527.4 868.2,522 869.7,522.9 871.2,519.5 872.7,522.9 874.2,528.2 875.7,519.5 877.2,519.5 878.7,519.5 880.2,522.1 881.7,526.6 883.2,529.2 884.7,534.9 886.2,534.7 887.7,534.5 889.2,530.4 890.7,526.2 892.2,532.9 893.7,526.1 895.2,531.3 896.7,525.1 898.2,530 899.7,531.7 901.2,528.3 902.7,522.5 904.2,518.6 905.7,518.8 907.2,530.9 908.7,531.9 910.2,527.4 911.7,530.7 913.2,529.7 914.8,521.4 916.3,522.2 917.8,525.2 919.3,528.2 920.8,529.1 922.3,527.5 923.8,524.7 925.3,525.3 926.8,513.8 928.3,513.5 929.8,516.5 931.3,514.8 932.8,519.3 934.3,517.3 935.8,521.1 937.3,524 938.8,528.2 940.3,526.7 941.8,527.1 943.3,523.1 944.8,521.8 946.3,515 947.8,511 949.3,510.8 950.8,514.2 952.3,511.4 953.8,523.3 955.3,526.1 956.8,522.5 958.3,517.8 959.8,515.3 961.3,518.1 962.8,516.6 964.3,515.1 965.8,515.8 967.3,509.5 968.8,517.6 970.3,520.7 971.8,520.5 973.3,523.3 974.8,519.5 976.4,524.7 977.9,525.5 979.4,523.6 980.9,524.7 982.4,522.8 983.9,525.5 985.4,509.9 986.9,509.5 988.4,509.5 989.9,509.5 991.4,509.5 992.9,512.6 994.4,506.7 995.9,540 997.4,515.9 998.9,471.6 1000.4,526.4 1001.9,525.7 1003.4,527.8 1004.9,529.8 1006.4,531.9 1007.9,490.8 1009.4,462.7 1010.9,482.5 1012.4,466 1013.9,442.1 1015.4,507.5 1016.9,525.7 1018.4,528.6 1019.9,496 1021.4,515.8 1022.9,488.7 1024.4,466.2 1025.9,458.6 1027.4,476 1028.9,483.7 1030.4,464.7 1031.9,519.6 1033.4,566.3 1034.9,566.7 1036.4,522.7 1038,524.3 1039.5,532.7 1041,568.6 1042.5,569 1044,569.5 1045.5,570.7 1047,565.6 1048.5,573 1050,574.2 1051.5,575.4 1053,576.6 1054.5,577.8 1056,579 1057.5,580.2 1059,554.8 1060.5,548.8 1062,559.1 1063.5,524.5 1065,523.2 1066.5,487.3 1068,499.3 1069.5,548.8 1071,588.1 1072.5,592.1 1074,592.4 1075.5,569.8 1077,591.9 1078.5,575.5 1080,546.3 1081.5,503.6 1083,504.1 1084.5,490.9 1086,557.2 1087.5,590.5 1089,554.5 1090.5,590.1 1092,589.9 1093.5,589.7 1095,564.7 1096.5,571.7 1098,489 1099.6,488.8 1101.1,488.6 1102.6,494.8 1104.1,488.2 1105.6,492.9 1107.1,487.8 1108.6,537.3 1110.1,547.1 1111.6,537.4 1113.1,587 1114.6,586.8 1116.1,586.6 1117.6,529.6 1119.1,492 1120.6,542.8 1122.1,503 1123.6,544.1 1125.1,530.1 1126.6,494.7 1128.1,522.5 1129.6,542.6 1131.1,516.6 1132.6,588.7 1134.1,592.7 1135.6,596.7 1137.1,600.6 1138.6,604.6 1140.1,608.6 1141.6,581.3 1143.1,547.6 1144.6,538.3 1146.1,555.1 1147.6,581.8 1149.1,632.4 1150.6,636.3 1152.1,620.3 1153.6,550.9 1155.1,548.4 1156.6,628.2 1158.1,654.8 1159.6,657.8 1161.2,604.6 1162.7,631 1164.2,666.8 1165.7,669.4 1167.2,645.6 1168.7,672.7 1170.2,674.3 1171.7,675.9 1173.2,677.6 1174.7,679.2 1176.2,680.8 1177.7,682.4 1179.2,684.1 1180.7,685.7 1182.2,687.3 1183.7,688.9 1185.2,690.4 1186.7,647.7 1188.2,690.8 1189.7,691.1 1191.2,691.3 1192.7,637.9 1194.2,665.7 1195.7,692 1197.2,692.2 1198.7,692.5 1200.2,692.7 1201.7,665.9 1203.2,693.2 1204.7,657.5 1206.2,661.8 1207.7,694 1209.2,694.2 1210.7,694.5 1212.2,694.8 1213.7,695.1 1215.2,695.4 1216.7,695.6 1218.2,695.9 1219.7,663.5 1221.2,685.3 1222.8,675.5 1224.3,634 1225.8,609.1 1227.3,638.2 1228.8,649.1 1230.3,645.5 1231.8,698.5 1233.3,698.8 1234.8,699 1236.3,664.6 1237.8,665.6 1239.3,679.3 1240.8,685.9 1242.3,661.1 1243.8,646.3 1245.3,664.3 1246.8,701.1 1248.3,701.3 1249.8,701.6 1251.3,701.8 1252.8,702.1 1254.3,689.7 1255.8,661.3 1257.3,679.4 1258.8,666.2 1260.3,641.3 1261.8,636.7 1263.3,651.8 1264.8,641.4 1266.3,704.2 1267.8,704.4 1269.3,704.7 1270.8,614 1272.3,651.8 1273.8,636.1 1275.3,650 1276.8,644.9 1278.3,687.6 1279.8,622.9 1281.3,647.8 1282.8,641 1284.4,648.6 1285.9,672 1287.4,707.5 1288.9,687.6 1290.4,619.4 1291.9,642.8 1293.4,653.4 1294.9,624.9 1296.4,629.7 1297.9,630.4 1299.4,674.6 1300.9,662.6 1302.4,714.3 1303.9,685.5 1305.4,715.7 1306.9,698.5 1308.4,717.1 1309.9,717.8 1311.4,718.6 1312.9,689.1 1314.4,682.9 1315.9,682.8 1317.4,649.2 1318.9,649.6 1320.4,686.9 1321.9,726.1 1323.4,727.1 1324.9,691.4 1326.4,695.1 1327.9,700.3 1329.4,677.6 1330.9,673 1332.4,733.6 1333.9,734.7 1335.4,735.7 1336.9,713 1338.4,672.8 1339.9,685.6 1341.4,733.7 1342.9,738.2 1344.4,738.6 1346,739.1 1347.5,739.5 1349,739.9 1350.5,740.4 1352,726.4 1353.5,711.9 1355,726.9 1356.5,742.1 1358,742.6 1359.5,743 1361,743.5 1362.5,727.3 1364,744.3 1365.5,744.8 1367,745.2 1368.5,745.7 1370,730.4 1371.5,746.5 1373,736.8 1374.5,747.4 1376,709.7 1376,764.2 1374.5,760.5 1373,753.5 1371.5,753.2 1370,752.9 1368.5,752.6 1367,752.3 1365.5,770.3 1364,754.8 1362.5,771.8 1361,767.6 1359.5,779.6 1358,754.2 1356.5,769.4 1355,756 1353.5,779 1352,780.4 1350.5,780.7 1349,780.9 1347.5,781.1 1346,766 1344.4,777.5 1342.9,765.1 1341.4,773.4 1339.9,773.3 1338.4,782.2 1336.9,768 1335.4,765.2 1333.9,744.4 1332.4,743.3 1330.9,742.2 1329.4,741.1 1327.9,759.2 1326.4,775.2 1324.9,768.3 1323.4,772.9 1321.9,767.7 1320.4,770.7 1318.9,751.7 1317.4,734 1315.9,759.4 1314.4,760.2 1312.9,753.8 1311.4,736.3 1309.9,727.4 1308.4,726.8 1306.9,726.3 1305.4,738.9 1303.9,763.5 1302.4,763.3 1300.9,751.1 1299.4,744.7 1297.9,725 1296.4,738.2 1294.9,742.6 1293.4,723.5 1291.9,723.5 1290.4,735.4 1288.9,729.2 1287.4,734.1 1285.9,723.1 1284.4,722.9 1282.8,722.6 1281.3,722.4 1279.8,743.2 1278.3,721.9 1276.8,747.5 1275.3,761.4 1273.8,743.4 1272.3,733.7 1270.8,748.4 1269.3,720.4 1267.8,740.2 1266.3,736.5 1264.8,719.6 1263.3,724 1261.8,737 1260.3,725.9 1258.8,725.7 1257.3,718.4 1255.8,725.4 1254.3,729.2 1252.8,728.6 1251.3,743.8 1249.8,752.8 1248.3,756.9 1246.8,746.9 1245.3,716.4 1243.8,716.1 1242.3,745.5 1240.8,755.4 1239.3,748.7 1237.8,725.7 1236.3,714.4 1234.8,714 1233.3,713.6 1231.8,727.5 1230.3,738.2 1228.8,742.1 1227.3,737.3 1225.8,737.7 1224.3,731.7 1222.8,742.7 1221.2,750.1 1219.7,747.5 1218.2,719.2 1216.7,716.7 1215.2,719.8 1213.7,708 1212.2,707.6 1210.7,707.1 1209.2,706.7 1207.7,716.8 1206.2,729.8 1204.7,740.2 1203.2,705.1 1201.7,704.7 1200.2,704.3 1198.7,721.3 1197.2,738.7 1195.7,737.5 1194.2,717.4 1192.7,724.9 1191.2,733.6 1189.7,738.6 1188.2,738.5 1186.7,740.9 1185.2,729.1 1183.7,731 1182.2,700 1180.7,723.4 1179.2,724.7 1177.7,736.7 1176.2,722.2 1174.7,699.6 1173.2,694.4 1171.7,709.3 1170.2,732.8 1168.7,732.1 1167.2,731.3 1165.7,728.7 1164.2,724.6 1162.7,728.9 1161.2,719.2 1159.6,724.7 1158.1,724.8 1156.6,708.9 1155.1,685.2 1153.6,684.6 1152.1,709.7 1150.6,723.4 1149.1,716.7 1147.6,704.9 1146.1,709.4 1144.6,698.6 1143.1,717.2 1141.6,700.9 1140.1,709.8 1138.6,708.2 1137.1,677.9 1135.6,677.3 1134.1,676.7 1132.6,676.1 1131.1,675.5 1129.6,688 1128.1,690.1 1126.6,674 1125.1,697.4 1123.6,697 1122.1,699.2 1120.6,694.6 1119.1,706.4 1117.6,709.4 1116.1,702.4 1114.6,687.6 1113.1,669.3 1111.6,668.8 1110.1,668.3 1108.6,684.5 1107.1,667.2 1105.6,684.8 1104.1,695.4 1102.6,685.2 1101.1,665.2 1099.6,669.2 1098,664.1 1096.5,663.6 1095,663.1 1093.5,662.6 1092,662.1 1090.5,669.6 1089,701 1087.5,700.5 1086,683.5 1084.5,661.7 1083,667.2 1081.5,660.9 1080,667 1078.5,686.9 1077,683.8 1075.5,689.2 1074,688.5 1072.5,690.2 1071,682.5 1069.5,654.3 1068,674.3 1066.5,692.1 1065,692.7 1063.5,685 1062,662.1 1060.5,651.2 1059,650.7 1057.5,665 1056,663.9 1054.5,672.7 1053,648.6 1051.5,648.1 1050,668.2 1048.5,666.5 1047,646.5 1045.5,646 1044,645.5 1042.5,681.7 1041,683.2 1039.5,682 1038,680.8 1036.4,667.9 1034.9,638.5 1033.4,637.4 1031.9,636.2 1030.4,671.9 1028.9,673.4 1027.4,671.9 1025.9,648.1 1024.4,653.7 1022.9,650.6 1021.4,655.9 1019.9,633.4 1018.4,622.9 1016.9,627.8 1015.4,619.9 1013.9,646.9 1012.4,649.1 1010.9,648.7 1009.4,653.9 1007.9,635.5 1006.4,610.9 1004.9,625.9 1003.4,628 1001.9,622 1000.4,602.5 998.9,604.7 997.4,587.4 995.9,595.7 994.4,602.3 992.9,601.9 991.4,609.3 989.9,608.7 988.4,600.7 986.9,595.6 985.4,597.1 983.9,603.6 982.4,605.4 980.9,604.7 979.4,604 977.9,603 976.4,598.9 974.8,599 973.3,596.7 971.8,592 970.3,590.3 968.8,594 967.3,598.1 965.8,591.9 964.3,584.4 962.8,587.7 961.3,586.8 959.8,593.9 958.3,588.6 956.8,593.2 955.3,593.2 953.8,587.6 952.3,580.2 950.8,578.1 949.3,578.1 947.8,579.5 946.3,579.8 944.8,579.6 943.3,582.9 941.8,575 940.3,574.1 938.8,574.4 937.3,575.7 935.8,575.2 934.3,572.8 932.8,569.2 931.3,568.5 929.8,566.4 928.3,565.6 926.8,566.4 925.3,576.1 923.8,577.4 922.3,573.3 920.8,568.8 919.3,568.7 917.8,565 916.3,568.3 914.8,569.9 913.2,568.1 911.7,569.5 910.2,565.3 908.7,572.7 907.2,568.6 905.7,564 904.2,557.6 902.7,566 901.2,568.9 899.7,566.9 898.2,556.1 896.7,556.1 895.2,559.2 893.7,563.7 892.2,568.6 890.7,563.8 889.2,567.8 887.7,563.3 886.2,561.1 884.7,557.6 883.2,553.9 881.7,551.9 880.2,551.5 878.7,551.7 877.2,553.6 875.7,552.1 874.2,552 872.7,555.7 871.2,557.5 869.7,555.3 868.2,555.5 866.7,557.3 865.2,559.4 863.7,557.6 862.2,556.7 860.7,555.5 859.2,556.3 857.7,559.8 856.2,554.2 854.7,559.6 853.2,552.7 851.6,555 850.1,558.6 848.6,558.2 847.1,552.3 845.6,557.5 844.1,557.2 842.6,556.8 841.1,556.5 839.6,552.8 838.1,549.5 836.6,548.7 835.1,544.6 833.6,547.2 832.1,547 830.6,553.3 829.1,554.4 827.6,546.6 826.1,546.9 824.6,544.8 823.1,542.7 821.6,542.6 820.1,542.6 818.6,542.3 817.1,544 815.6,545.4 814.1,546.3 812.6,543.4 811.1,542.4 809.6,541.5 808.1,547 806.6,545.8 805.1,546.2 803.6,548.2 802.1,550.8 800.6,547 799.1,540.9 797.6,547.4 796.1,545.8 794.6,546.2 793.1,547.7 791.6,548.1 790,543.8 788.5,542 787,539 785.5,540.2 784,548.3 782.5,546.4 781,544.6 779.5,541.1 778,542.1 776.5,542.4 775,541.2 773.5,542 772,542.5 770.5,544.1 769,547.8 767.5,547.8 766,547.3 764.5,544 763,543.8 761.5,542.4 760,544" fill="#BD0A2E" stroke="#BD0A2E" stroke-width="9" stroke-linejoin="round"/>
<polygon points="1001,283.5 1005.2,407 1013,535 989,535 996.8,407" fill="#BD0A2E" stroke="#BD0A2E" stroke-width="9" stroke-linejoin="round"/>
<polygon points="1031,465.5 1033.9,515.8 1039.2,570.5 1022.8,570.5 1028.1,515.8" fill="#BD0A2E" stroke="#BD0A2E" stroke-width="9" stroke-linejoin="round"/>
<polygon points="1131,484.5 1134.2,540 1140,600 1122,600 1127.8,540" fill="#BD0A2E" stroke="#BD0A2E" stroke-width="9" stroke-linejoin="round"/>
<polygon points="680,557 681.5,558.1 683,558.3 684.5,556.3 686,556.9 687.5,562.7 689,561 690.5,557.6 692,557.9 693.5,558.5 695,558.1 696.5,558.1 698,562.7 699.5,564.8 701,563.8 702.5,562.5 704,561 705.5,564.7 707,562.9 708.5,567.7 710,566.6 711.5,561.9 713,562.3 714.5,557.1 716,556 717.5,562.4 719,569.5 720.5,567.7 722,566.9 723.5,567.3 725,557.4 726.5,562.6 728,565 729.5,567.1 731,566.5 732.5,569.2 734,571.3 735.5,571.5 737,568.1 738.5,559.8 740,565 741.5,570.7 743.1,573.5 744.6,571.5 746.1,571 747.6,568.1 749.1,566.6 750.6,561.9 752.1,562.2 753.6,563.4 755.1,562.6 756.6,563.6 758.1,562.7 759.6,571 761.1,571 762.6,574.2 764.1,569.4 765.6,563.8 767.1,566.9 768.6,564 770.1,566.2 771.6,564.9 773.1,573.1 774.6,571.7 776.1,570 777.6,564.7 779.1,565.1 780.6,575.7 782.1,576.8 783.6,572.1 785.1,571.5 786.6,568.6 788.1,574.3 789.6,574.9 791.1,577 792.6,575.3 794.1,577.4 795.6,575.3 797.1,575.4 798.6,571.6 800.1,564.5 801.6,564.5 803.1,577.3 804.6,576.1 806.1,575.8 807.6,567.2 809.1,564.7 810.6,573.7 812.1,577.7 813.6,576 815.1,573.1 816.6,576.4 818.1,577.5 819.6,573.9 821.1,577.9 822.6,564.5 824.1,564.5 825.6,568.9 827.1,573.9 828.6,575.7 830.1,576.8 831.6,564.5 833.1,567.3 834.6,569.1 836.1,577 837.6,576 839.1,564.5 840.6,564.5 842.1,564.5 843.6,564.5 845.1,568 846.6,575.9 848.1,578.2 849.6,576.1 851.1,575.1 852.6,574.5 854.1,580.3 855.6,578.8 857.1,578 858.6,568.8 860.1,573.6 861.6,579.6 863.1,580 864.6,580.5 866.2,574 867.7,574.2 869.2,565.8 870.7,569.3 872.2,575.1 873.7,575.7 875.2,575.3 876.7,577.9 878.2,580 879.7,580.5 881.2,574.2 882.7,564.5 884.2,564.6 885.7,578.6 887.2,580.5 888.7,576 890.2,578.7 891.7,574.7 893.2,579.3 894.7,579.6 896.2,575.9 897.7,574.7 899.2,573.5 900.7,577.4 902.2,576.8 903.7,572.9 905.2,568.8 906.7,568.6 908.2,568 909.7,575.6 911.2,576.3 912.7,568.3 914.2,596.2 915.7,594.1 917.2,568.8 918.7,512.3 920.2,582.6 921.7,573.8 923.2,572.2 924.7,570.6 926.2,569 927.7,556.1 929.2,565.9 930.7,564.3 932.2,555.8 933.7,561.1 935.2,559.5 936.7,523.8 938.2,556.4 939.7,554.8 941.2,554 942.7,553.4 944.2,552.8 945.7,552.2 947.2,551.6 948.7,551 950.2,550.4 951.7,517.2 953.2,549.2 954.7,528.5 956.2,462.7 957.7,522.8 959.2,546.8 960.7,546.2 962.2,545.6 963.7,545 965.2,519.5 966.7,545 968.2,545.4 969.7,545.8 971.2,486.7 972.7,491.2 974.2,500.5 975.7,547.5 977.2,547.9 978.7,482 980.2,452.2 981.7,451.3 983.2,483.5 984.7,464.6 986.2,522.2 987.7,550.9 989.3,551.3 990.8,554.5 992.3,560.4 993.8,566.4 995.3,530.8 996.8,487.2 998.3,563 999.8,590.1 1001.3,596.1 1002.8,602 1004.3,608 1005.8,613.9 1007.3,619.9 1008.8,625.8 1010.3,617.1 1011.8,614 1013.3,601.5 1014.8,578.7 1016.3,547.7 1017.8,566.8 1019.3,593.5 1020.8,551.2 1022.3,608.7 1023.8,591.9 1025.3,601.7 1026.8,592 1028.3,579.9 1029.8,560.3 1031.3,518 1032.8,556.8 1034.3,518.4 1035.8,545.8 1037.3,501.7 1038.8,508.7 1040.3,554 1041.8,497.5 1043.3,535.8 1044.8,530.9 1046.3,528.6 1047.8,511.7 1049.3,510.5 1050.8,562.4 1052.3,527.7 1053.8,574 1055.3,577.7 1056.8,581.4 1058.3,585.1 1059.8,588.8 1061.3,592.6 1062.8,596.3 1064.3,586.3 1065.8,521.4 1067.3,539.2 1068.8,527.4 1070.3,537.5 1071.8,531.9 1073.3,558.1 1074.8,569.9 1076.3,625.3 1077.8,627 1079.3,628.7 1080.8,630.4 1082.3,632.1 1083.8,616.1 1085.3,635.5 1086.8,615.5 1088.3,638.9 1089.8,640.6 1091.3,642.3 1092.8,644 1094.3,645.7 1095.8,647.4 1097.3,649.1 1098.8,650.8 1100.3,635.9 1101.8,626.7 1103.3,604.8 1104.8,576.6 1106.3,627.3 1107.8,661.1 1109.3,662.8 1110.8,665.1 1112.4,667.9 1113.9,670.7 1115.4,673.5 1116.9,676.3 1118.4,679.1 1119.9,668.6 1121.4,634.1 1122.9,629.6 1124.4,671.3 1125.9,632.1 1127.4,680.6 1128.9,698.6 1130.4,665 1131.9,664.9 1133.4,646.1 1134.9,676.5 1136.4,706.8 1137.9,708.2 1139.4,709.4 1140.9,709.8 1142.4,664.7 1143.9,641.1 1145.4,626.4 1146.9,652.9 1148.4,647.7 1149.9,634.7 1151.4,644.1 1152.9,655 1154.4,668.6 1155.9,714 1157.4,714.4 1158.9,714.8 1160.4,715.2 1161.9,715.6 1163.4,687.5 1164.9,715.8 1166.4,665.1 1167.9,644.6 1169.4,652 1170.9,643.8 1172.4,717.8 1173.9,654 1175.4,711.2 1176.9,704.2 1178.4,710.8 1179.9,718.2 1181.4,679.6 1182.9,665.3 1184.4,637.3 1185.9,717.9 1187.4,708.9 1188.9,717.8 1190.4,702.2 1191.9,717.7 1193.4,695.2 1194.9,706.6 1196.4,649.4 1197.9,662.1 1199.4,640.9 1200.9,665 1202.4,660.7 1203.9,634.4 1205.4,717.4 1206.9,718.1 1208.4,718.7 1209.9,719.3 1211.4,719.9 1212.9,661.9 1214.4,650.4 1215.9,636.4 1217.4,701.2 1218.9,673.5 1220.4,696.6 1221.9,724.3 1223.4,724.9 1224.9,725.5 1226.4,726.2 1227.9,719.4 1229.4,713.7 1230.9,658.2 1232.4,694 1233.9,684.2 1235.5,711.6 1237,666.9 1238.5,711.4 1240,721.7 1241.5,732.4 1243,716.9 1244.5,733.7 1246,702.7 1247.5,666.3 1249,677 1250.5,670.6 1252,684.7 1253.5,735.1 1255,712.6 1256.5,685.6 1258,691.9 1259.5,686.1 1261,691.8 1262.5,685.1 1264,696.9 1265.5,683.8 1267,704.1 1268.5,739.9 1270,744.8 1271.5,745.5 1273,746.1 1274.5,746.8 1276,747.4 1277.5,734.4 1279,700.4 1280.5,720.1 1282,710.4 1283.5,696.6 1285,696.9 1286.5,726.6 1288,756.4 1289.5,758.5 1291,760.6 1292.5,762.7 1294,764.7 1295.5,766.8 1297,760.3 1297,774.5 1295.5,772.6 1294,770.7 1292.5,768.9 1291,767.6 1289.5,778.8 1288,785.7 1286.5,761.3 1285,759.4 1283.5,771.4 1282,785 1280.5,784.7 1279,776.8 1277.5,760.3 1276,755.1 1274.5,766.9 1273,766.2 1271.5,753.3 1270,752.7 1268.5,752.1 1267,768.8 1265.5,751 1264,756 1262.5,749.8 1261,765.1 1259.5,759.2 1258,779.6 1256.5,757 1255,766.4 1253.5,767.3 1252,778.2 1250.5,761.3 1249,773.8 1247.5,756.2 1246,743.3 1244.5,742.7 1243,760.3 1241.5,759.1 1240,750.6 1238.5,761.5 1237,757.4 1235.5,739.5 1233.9,738.9 1232.4,738.4 1230.9,737.9 1229.4,737.4 1227.9,772 1226.4,771.8 1224.9,745.7 1223.4,767.3 1221.9,760.1 1220.4,748.1 1218.9,749.8 1217.4,734.2 1215.9,734.1 1214.4,734 1212.9,734 1211.4,773.9 1209.9,770.6 1208.4,756.3 1206.9,745.6 1205.4,759.9 1203.9,763.4 1202.4,755.8 1200.9,746.2 1199.4,733 1197.9,732.9 1196.4,770.7 1194.9,759.6 1193.4,741.1 1191.9,732.3 1190.4,732.2 1188.9,732 1187.4,731.9 1185.9,731.8 1184.4,738.3 1182.9,731.5 1181.4,754.3 1179.9,756.8 1178.4,767.5 1176.9,736.4 1175.4,730.8 1173.9,741.5 1172.4,767.5 1170.9,764.8 1169.4,747.7 1167.9,755.2 1166.4,729.7 1164.9,729.4 1163.4,729.2 1161.9,729 1160.4,741.1 1158.9,763.9 1157.4,728.3 1155.9,728.1 1154.4,749.8 1152.9,756 1151.4,758.5 1149.9,751.8 1148.4,726.9 1146.9,727.8 1145.4,729 1143.9,737.4 1142.4,726 1140.9,725.8 1139.4,725.6 1137.9,725.1 1136.4,742.5 1134.9,724.1 1133.4,750.3 1131.9,760.7 1130.4,746.2 1128.9,722 1127.4,721.5 1125.9,721 1124.4,720.5 1122.9,719.9 1121.4,719.4 1119.9,718.9 1118.4,718.4 1116.9,726 1115.4,717.3 1113.9,716.8 1112.4,716.3 1110.8,715.8 1109.3,715.2 1107.8,714.6 1106.3,720.3 1104.8,736 1103.3,717.1 1101.8,722.1 1100.3,727.4 1098.8,744 1097.3,743.7 1095.8,749.8 1094.3,742.1 1092.8,748.5 1091.3,746.9 1089.8,744.3 1088.3,735.9 1086.8,719.1 1085.3,739.1 1083.8,744.9 1082.3,744.3 1080.8,726 1079.3,713.4 1077.8,702.5 1076.3,717.8 1074.8,734.7 1073.3,710.9 1071.8,699.9 1070.3,699.2 1068.8,698.5 1067.3,697.8 1065.8,706.2 1064.3,716.7 1062.8,720.8 1061.3,720.6 1059.8,714.2 1058.3,693.5 1056.8,692.8 1055.3,692.1 1053.8,691.4 1052.3,692.5 1050.8,708.2 1049.3,706.7 1047.8,713.4 1046.3,708.4 1044.8,717 1043.3,720.2 1041.8,704.1 1040.3,685.8 1038.8,685.1 1037.3,691.6 1035.8,695.7 1034.3,693.1 1032.8,712.1 1031.3,682.1 1029.8,681.5 1028.3,680.9 1026.8,680.3 1025.3,701.2 1023.8,719.1 1022.3,717.1 1020.8,690.6 1019.3,686.4 1017.8,691.3 1016.3,688.9 1014.8,695 1013.3,684 1011.8,674.9 1010.3,687.4 1008.8,695.5 1007.3,710.8 1005.8,712.3 1004.3,691.8 1002.8,713.1 1001.3,695.5 999.8,689.1 998.3,672.2 996.8,671.9 995.3,671.6 993.8,671.3 992.3,671 990.8,670.7 989.3,670.1 987.7,669.1 986.2,668.2 984.7,667.3 983.2,666.4 981.7,675.6 980.2,664.6 978.7,673.9 977.2,689.9 975.7,689.5 974.2,701 972.7,700.1 971.2,699.2 969.7,681.4 968.2,689.2 966.7,696.5 965.2,695.6 963.7,694.5 962.2,686.5 960.7,679.5 959.2,686.3 957.7,674.3 956.2,670.3 954.7,679 953.2,664.6 951.7,660.6 950.2,643.7 948.7,646.5 947.2,660.6 945.7,662.9 944.2,656.7 942.7,652.1 941.2,659.3 939.7,635.2 938.2,633.6 936.7,632 935.2,655.8 933.7,667.8 932.2,666.3 930.7,647 929.2,643.9 927.7,624.3 926.2,621 924.7,619.4 923.2,626 921.7,653.2 920.2,630.3 918.7,629.1 917.2,614.4 915.7,623.1 914.2,608.8 912.7,614 911.2,612.2 909.7,610.2 908.2,610 906.7,605.7 905.2,608.6 903.7,611.9 902.2,618.2 900.7,611.7 899.2,606.6 897.7,608.6 896.2,611.3 894.7,613.7 893.2,607.1 891.7,607.4 890.2,606.7 888.7,602.6 887.2,601.1 885.7,603.9 884.2,610.1 882.7,608.8 881.2,604 879.7,599.4 878.2,602.2 876.7,600.5 875.2,599.6 873.7,605.5 872.2,603.8 870.7,601.2 869.2,602.6 867.7,600.8 866.2,600 864.6,603.7 863.1,608.5 861.6,600.5 860.1,596.9 858.6,595.1 857.1,594.9 855.6,594.7 854.1,599.7 852.6,603.6 851.1,603.9 849.6,596.8 848.1,593.9 846.6,595.3 845.1,594.2 843.6,596.7 842.1,597.2 840.6,593.3 839.1,597.2 837.6,599.5 836.1,595.4 834.6,594.7 833.1,596.4 831.6,592.5 830.1,597.8 828.6,601.8 827.1,604.8 825.6,599.9 824.1,599 822.6,595.4 821.1,591.8 819.6,594.5 818.1,598.1 816.6,599 815.1,600.6 813.6,595.7 812.1,593.3 810.6,595.7 809.1,595 807.6,593.4 806.1,591.8 804.6,591.5 803.1,590.6 801.6,590.4 800.1,590.3 798.6,590.3 797.1,596.4 795.6,593.2 794.1,592.2 792.6,589.8 791.1,593.9 789.6,599.9 788.1,599.6 786.6,596.4 785.1,598.1 783.6,591.8 782.1,589.1 780.6,589.6 779.1,589.6 777.6,591.7 776.1,589.7 774.6,593.7 773.1,593.2 771.6,595.6 770.1,591 768.6,590.2 767.1,588.3 765.6,589.8 764.1,587.9 762.6,594.3 761.1,590.2 759.6,590.2 758.1,591.6 756.6,592.2 755.1,594.1 753.6,597.1 752.1,595 750.6,589.9 749.1,589.5 747.6,594.3 746.1,592.3 744.6,591.8 743.1,586.6 741.5,585.4 740,586.3 738.5,590 737,593.8 735.5,593.5 734,589.3 732.5,595.3 731,586.7 729.5,586.2 728,586.9 726.5,588.7 725,586 723.5,584.8 722,584.4 720.5,583.1 719,581.6 717.5,583.2 716,588.3 714.5,592.5 713,588.8 711.5,588.5 710,588.4 708.5,587.8 707,591.1 705.5,590.7 704,590.5 702.5,590.2 701,585.4 699.5,584.9 698,580.4 696.5,579 695,577 693.5,580.4 692,580.7 690.5,586.5 689,580.4 687.5,578.6 686,580.4 684.5,582.7 683,584.5 681.5,578.4 680,581.9" fill="#00BEF0" stroke="#00BEF0" stroke-width="9" stroke-linejoin="round"/>
<polygon points="921,388.5 925.2,474.5 933,565 909,565 916.8,474.5" fill="#00BEF0" stroke="#00BEF0" stroke-width="9" stroke-linejoin="round"/>
<polygon points="1052,469.5 1055.5,532.5 1062.1,600 1041.9,600 1048.5,532.5" fill="#00BEF0" stroke="#00BEF0" stroke-width="9" stroke-linejoin="round"/>
<polygon points="990,451.5 993.5,514 1000,581 980,581 986.5,514" fill="#00BEF0" stroke="#00BEF0" stroke-width="9" stroke-linejoin="round"/>
<polygon points="600,549.4 601.5,551 603,553.5 604.5,555.7 606,557.5 607.5,560.1 609,561.1 610.5,563.6 612,566.5 613.5,568.5 615,568.9 616.5,572.5 618,574.5 619.5,573 621,576 622.5,579 624,582.4 625.5,584.5 627,585.7 628.5,585.9 630,588.1 631.5,589.3 633,590.3 634.5,589.6 636,589.2 637.5,591.2 639,594.9 640.5,598.3 642,601.9 643.5,602.5 645,604.6 646.5,604.1 648,604 649.5,603.5 651,601.4 652.5,598.8 654,598.9 655.5,597.4 657,594.4 658.5,594.6 660,591.9 661.5,586.7 663,584.3 664.5,578.7 666,577.5 667.5,580.9 669,581 670.5,581.4 672,582.9 673.5,580.8 675,578.6 676.5,589.3 678,588.9 679.5,589.4 681,589.5 682.5,589.4 684,592 685.5,593.2 687,595 688.5,593.1 690,592.7 691.5,589.4 693,591.6 694.5,596.4 696,598.8 697.5,601.5 699,602.2 700.5,603.6 702,601.5 703.5,604.5 705,599.4 706.5,601.4 708,604.8 709.5,605 711,605.6 712.5,605.2 714,604 715.5,606.3 717,602.1 718.5,602.7 720,597.8 721.5,598.1 723,599.9 724.5,604.8 726,603.3 727.5,602.7 729,603.5 730.5,603 732,605.3 733.5,603.2 735,609.4 736.5,606.9 738,606.1 739.5,610.5 741,610.2 742.5,606.7 744,607.7 745.5,609.7 747,600.6 748.5,599.5 750,602.4 751.5,606.1 753,607.1 754.5,610.3 756,610.4 757.5,604.6 759,599.5 760.5,599.4 762,599.2 763.5,604.9 765,602.5 766.5,607.1 768,609 769.5,608.4 771,608.8 772.5,603 774,606.6 775.5,602.3 777,607.1 778.5,611.7 780,607.6 781.5,611.7 783,608.2 784.5,605.7 786,608.7 787.5,606.6 789,604.3 790.5,599.4 792,595.5 793.5,607.8 795,610.9 796.5,608.3 798,597.2 799.5,594.6 801,599.8 802.5,607.1 804,607.9 805.5,603.6 807,607.7 808.5,606.4 810,607.3 811.5,606.6 813,595.7 814.5,591.2 816,591.8 817.5,589 819,588.7 820.5,595.6 822,603.3 823.5,599.8 825,594.9 826.5,591 828,588.5 829.5,596.5 831,594.5 832.5,585.7 834,618.1 835.5,614.9 837,611.7 838.5,595.1 840,539.7 841.5,476.9 843,483.5 844.5,581.8 846,584.2 847.5,533.4 849,511.5 850.5,553.9 852,554.2 853.5,596.4 855,598.8 856.5,565.7 858,577.7 859.5,561 861,591.8 862.5,577.5 864,585.5 865.5,615.8 867,607.9 868.5,581.2 870,616 871.5,521.7 873,585 874.5,615.5 876,613.8 877.5,612.2 879,610.5 880.5,608.9 882,607.3 883.5,522.9 885,504 886.5,566.1 888,600.7 889.5,599 891,598.5 892.5,598.5 894,598.5 895.5,598.5 897,598.5 898.5,593 900,535.8 901.5,527.8 903,512.1 904.5,498.5 906,503.1 907.5,598.5 909,598.5 910.5,580.5 912,603.4 913.5,605.8 915,608.3 916.5,610.7 918,613.2 919.5,615.6 921,618.1 922.5,620.5 924,622.9 925.5,625.4 927,627.8 928.5,630.3 930,632.7 931.5,635.2 933,633.4 934.5,552.5 936,569.7 937.5,641.9 939,641.3 940.5,640.7 942,640.1 943.5,623.3 945,638.9 946.5,638.2 948,637.6 949.5,637 951,636.4 952.5,635.8 954,554.4 955.5,612.2 957,634 958.5,633.4 960,632.8 961.5,632.2 963,631.6 964.5,630.9 966,562.4 967.5,629.7 969,629.1 970.5,628.5 972,627.9 973.5,628.6 975,631.9 976.5,561.8 978,558 979.5,628.1 981,645.2 982.5,648.5 984,651.8 985.5,600.5 987,611.9 988.5,661.8 990,664.5 991.5,668.4 993,609 994.5,659.3 996,678.4 997.5,681.7 999,685 1000.5,688.3 1002,670.9 1003.5,668.8 1005,598.3 1006.5,608.2 1008,626.6 1009.5,602.9 1011,670.9 1012.5,701.9 1014,702.4 1015.5,697.3 1017,635.9 1018.5,659.5 1020,704.4 1021.5,704.9 1023,705.4 1024.5,705.9 1026,706.5 1027.5,707 1029,707.5 1030.5,708 1032,695.1 1033.5,680.5 1035,645.4 1036.5,672 1038,646.2 1039.5,623.6 1041,646.6 1042.5,689.9 1044,648.4 1045.5,638.7 1047,709.5 1048.5,697.6 1050,715.7 1051.5,717.1 1053,718.6 1054.5,720 1056,721.4 1057.5,722.8 1059,724.2 1060.5,717.4 1062,696 1063.5,654.3 1065,654.8 1066.5,729.5 1068,730.4 1069.5,731.2 1071,711.2 1072.5,706.6 1074,683.5 1075.5,675.6 1077,651.9 1078.5,659.4 1080,695.5 1081.5,671.5 1083,702.4 1084.5,652.6 1086,705.5 1087.5,712.9 1089,726.4 1090.5,730.1 1092,729.8 1093.5,680.5 1095,671 1096.5,668.6 1098,692.4 1099.5,728.5 1101,670 1102.5,666.4 1104,667.9 1105.5,727.4 1107,727.1 1108.5,714.5 1110,662.3 1111.5,629.8 1113,698.2 1114.5,726.2 1116,726.2 1117.5,661.7 1119,632 1120.5,635.5 1122,624.2 1123.5,623.4 1125,722.6 1126.5,721.8 1128,724.2 1129.5,660.4 1131,632.4 1132.5,660.7 1134,723 1135.5,707.9 1137,685.1 1138.5,727.5 1140,746.3 1141.5,748.6 1143,750.9 1144.5,753.2 1146,755.6 1147.5,757.9 1149,760.2 1150.5,762.5 1152,764.8 1153.5,767.1 1155,763 1156.5,743.8 1158,711.9 1159.5,716.4 1161,744.6 1162.5,744.2 1164,711.4 1165.5,743.5 1167,733.1 1168.5,755 1170,776.9 1171.5,777.7 1173,778.4 1174.5,779.2 1176,766.8 1177.5,746.5 1179,722.4 1180.5,729.5 1182,736.6 1183.5,783.7 1185,784.4 1186.5,785 1188,785.3 1189.5,785.5 1191,785.8 1192.5,786 1194,779.5 1195.5,732.8 1197,744.1 1198.5,771.9 1200,787.3 1201.5,787.6 1203,769 1204.5,741.2 1206,737.5 1207.5,748.9 1209,744.1 1210.5,772.1 1212,789.3 1213.5,789.6 1215,767.5 1215,813.7 1213.5,819.5 1212,819.5 1210.5,811.1 1209,795.3 1207.5,795.1 1206,794.9 1204.5,794.7 1203,794.5 1201.5,794.3 1200,801.6 1198.5,809.1 1197,801.9 1195.5,810.3 1194,793.3 1192.5,793.1 1191,792.9 1189.5,814.1 1188,804.8 1186.5,792.3 1185,791.8 1183.5,791.1 1182,791.3 1180.5,789.8 1179,792.5 1177.5,788.5 1176,787.8 1174.5,787.2 1173,796.3 1171.5,792.8 1170,793.7 1168.5,796 1167,791.6 1165.5,795 1164,799 1162.5,804.2 1161,808.9 1159.5,803.4 1158,814.1 1156.5,805.7 1155,807.3 1153.5,812.3 1152,808.5 1150.5,801.8 1149,799.2 1147.5,792.2 1146,806.1 1144.5,784.7 1143,781.5 1141.5,782.9 1140,783.3 1138.5,778.5 1137,771.8 1135.5,771.3 1134,764.5 1132.5,766 1131,758.8 1129.5,752.6 1128,751.3 1126.5,760.5 1125,751.8 1123.5,761.6 1122,748.8 1120.5,748.3 1119,747.8 1117.5,747.3 1116,775.9 1114.5,775.7 1113,773.9 1111.5,745.4 1110,745.3 1108.5,774.9 1107,784.4 1105.5,759.9 1104,766.3 1102.5,759.2 1101,780.3 1099.5,781.9 1098,760.9 1096.5,743.9 1095,743.8 1093.5,758.8 1092,782.9 1090.5,783.3 1089,783.1 1087.5,783 1086,782.8 1084.5,775.5 1083,742.5 1081.5,744.9 1080,761.4 1078.5,756.6 1077,742.9 1075.5,743.1 1074,743.3 1072.5,743.1 1071,742.3 1069.5,741.6 1068,740.8 1066.5,740 1065,761 1063.5,778 1062,755.4 1060.5,751.9 1059,750.6 1057.5,760.1 1056,774.5 1054.5,753.9 1053,752.1 1051.5,753.9 1050,771.5 1048.5,759.9 1047,770.3 1045.5,755.1 1044,735.5 1042.5,760.5 1041,728.8 1039.5,753.5 1038,768.1 1036.5,759.6 1035,767.4 1033.5,767 1032,757.2 1030.5,766.3 1029,751.3 1027.5,759.2 1026,750.6 1024.5,749.1 1023,732.8 1021.5,757.8 1020,759.1 1018.5,757.3 1017,763.1 1015.5,762.8 1014,762.4 1012.5,762 1011,758.6 1009.5,756.7 1008,759.3 1006.5,720.6 1005,720 1003.5,722 1002,720.1 1000.5,731.3 999,728.8 997.5,735 996,746.2 994.5,755.3 993,748.1 991.5,753.9 990,753.2 988.5,743.8 987,731.7 985.5,728.6 984,714.4 982.5,709.8 981,722.8 979.5,724.8 978,707.8 976.5,734.4 975,746.3 973.5,738 972,745.1 970.5,744.5 969,739.1 967.5,737.3 966,736.5 964.5,737.8 963,724.3 961.5,729.4 960,740.2 958.5,726.5 957,729.4 955.5,738.4 954,737.8 952.5,720.8 951,736.6 949.5,736 948,735.4 946.5,725.7 945,723.9 943.5,733.5 942,732.9 940.5,699 939,723.6 937.5,721.8 936,727.6 934.5,722.1 933,714.6 931.5,728 930,712.5 928.5,686.3 927,685.5 925.5,685.2 924,701.2 922.5,700.5 921,682.2 919.5,707.9 918,694.3 916.5,679.7 915,678.8 913.5,678 912,677.2 910.5,697.1 909,675.5 907.5,674.9 906,693.3 904.5,698.8 903,697.3 901.5,711.8 900,702.3 898.5,699.9 897,670.4 895.5,672.8 894,680.9 892.5,681.1 891,707.9 889.5,707.3 888,706.8 886.5,693.7 885,682.8 883.5,665.3 882,664.8 880.5,664.3 879,663.8 877.5,672.3 876,677.5 874.5,665.2 873,697.1 871.5,684.4 870,678.1 868.5,663.6 867,659.5 865.5,658.7 864,657.9 862.5,679.4 861,696.4 859.5,691.6 858,687.4 856.5,684.1 855,653.3 853.5,655.3 852,651.7 850.5,650.9 849,650.2 847.5,662.7 846,657.9 844.5,664.2 843,687.1 841.5,673 840,674.9 838.5,638 837,630.5 835.5,646.8 834,642.7 832.5,647.2 831,641.8 829.5,642.5 828,640.4 826.5,631.7 825,633.1 823.5,630.4 822,630.1 820.5,636 819,643.5 817.5,643.2 816,638.3 814.5,628.8 813,630.6 811.5,633.2 810,639.6 808.5,638.1 807,639 805.5,641.4 804,641.1 802.5,640.9 801,631.3 799.5,626.7 798,627.9 796.5,635 795,632.7 793.5,638.1 792,637.4 790.5,633.7 789,635.4 787.5,636.2 786,629.6 784.5,627.9 783,627.1 781.5,635.6 780,638 778.5,637.2 777,630.2 775.5,629.3 774,631.3 772.5,630.7 771,633.9 769.5,636.7 768,636.5 766.5,636.3 765,625.8 763.5,625.1 762,626.9 760.5,627.1 759,629.7 757.5,630.7 756,634.4 754.5,634 753,633.6 751.5,633.2 750,632.6 748.5,628.9 747,627.5 745.5,628.7 744,623.2 742.5,622.4 741,620.5 739.5,620.3 738,620.9 736.5,621 735,620.5 733.5,624.3 732,625.4 730.5,625.8 729,621.4 727.5,625.4 726,626.1 724.5,626.2 723,622.9 721.5,620.5 720,621.4 718.5,622.4 717,624.5 715.5,622.1 714,618.1 712.5,616.7 711,621.2 709.5,622.7 708,619.9 706.5,616.4 705,616.1 703.5,618.7 702,619.1 700.5,620.2 699,615.5 697.5,610.7 696,609.9 694.5,609 693,610.8 691.5,607.7 690,606.4 688.5,605.5 687,607.1 685.5,604.9 684,606.5 682.5,611.8 681,611 679.5,610.1 678,609.1 676.5,609.8 675,607 673.5,603.9 672,602.5 670.5,600 669,598.5 667.5,598.5 666,599.4 664.5,601.5 663,604.3 661.5,610.3 660,611.5 658.5,611.1 657,612.3 655.5,610.3 654,611.7 652.5,614.8 651,616.2 649.5,615.9 648,616.7 646.5,616.9 645,614.3 643.5,613.8 642,610.5 640.5,610.6 639,609.5 637.5,609 636,608.4 634.5,605.2 633,605.2 631.5,603.4 630,603 628.5,603.6 627,602.2 625.5,601 624,596.3 622.5,593.6 621,593.7 619.5,591.9 618,588.2 616.5,581.7 615,578.8 613.5,579 612,574.9 610.5,572.8 609,571.3 607.5,569 606,567.3 604.5,565.2 603,564.5 601.5,565.5 600,563.7" fill="#59AE1E" stroke="#59AE1E" stroke-width="9" stroke-linejoin="round"/>
<polygon points="840,379.5 844.2,477.5 852,580 828,580 835.8,477.5" fill="#59AE1E" stroke="#59AE1E" stroke-width="9" stroke-linejoin="round"/>
<polygon points="890,498.5 892.9,548.5 898.2,603 881.8,603 887.1,548.5" fill="#59AE1E" stroke="#59AE1E" stroke-width="9" stroke-linejoin="round"/>
<polygon points="519,565.5 520.5,569 522,574.2 523.5,578.8 525,583.3 526.5,586.7 528,592.2 529.5,588.8 531,589.5 532.5,591.2 534,596.5 535.5,592.6 537,598.2 538.5,598.7 540,601.5 541.5,605.8 543,604.2 544.5,605.7 546,602.5 547.5,602.1 549,602.8 550.6,604 552.1,606.6 553.6,603.7 555.1,610 556.6,617.6 558.1,618.8 559.6,619.8 561.1,619.5 562.6,620.3 564.1,616.8 565.6,612.5 567.1,613.9 568.6,620.6 570.1,623.1 571.6,622.3 573.1,617.2 574.6,619.6 576.1,622.2 577.6,626.6 579.1,623.6 580.6,618 582.1,614.3 583.6,618.3 585.1,621.7 586.6,615.3 588.1,616.3 589.6,618.3 591.1,612.9 592.6,610.2 594.1,609.8 595.6,613.1 597.1,620.9 598.6,612.1 600.1,622.3 601.6,620.2 603.1,624.1 604.6,621.1 606.1,623.2 607.6,621.4 609.1,623.4 610.6,623.9 612.2,623 613.7,627 615.2,615.6 616.7,616.5 618.2,619.7 619.7,624.5 621.2,625.5 622.7,621.6 624.2,623.9 625.7,625.4 627.2,626.9 628.7,629.8 630.2,633.4 631.7,637 633.2,637.7 634.7,637.2 636.2,635.9 637.7,635.6 639.2,634.1 640.7,633.7 642.2,638.2 643.7,640.8 645.2,640.7 646.7,641.9 648.2,639.9 649.7,641 651.2,634.1 652.7,635.8 654.2,634.9 655.7,637.8 657.2,642.1 658.7,643 660.2,645.2 661.7,645.9 663.2,646.4 664.7,644.3 666.2,639.5 667.7,638.1 669.2,643 670.7,643.3 672.2,642.9 673.8,641 675.3,643.8 676.8,642.7 678.3,637.1 679.8,638.6 681.3,638.6 682.8,638.4 684.3,640.2 685.8,634.9 687.3,634.7 688.8,639.5 690.3,645.8 691.8,644 693.3,636.3 694.8,636.7 696.3,639.1 697.8,638.6 699.3,643 700.8,644.8 702.3,643.3 703.8,642.8 705.3,639.8 706.8,639.3 708.3,640.5 709.8,643.9 711.3,643.7 712.8,643.5 714.3,641.5 715.8,640.8 717.3,640.8 718.8,640.4 720.3,642.6 721.8,633.8 723.3,631.3 724.8,629.2 726.3,634 727.8,629.6 729.3,636.9 730.8,638.7 732.3,636.2 733.8,636.6 735.4,634.5 736.9,625.3 738.4,626.9 739.9,633.1 741.4,634 742.9,632.8 744.4,634.9 745.9,629 747.4,629.5 748.9,620.2 750.4,619.9 751.9,626.8 753.4,647 754.9,628.2 756.4,648.5 757.9,658.7 759.4,628.7 760.9,578.6 762.4,656.1 763.9,651.5 765.4,646.5 766.9,641.5 768.4,636.5 769.9,631.5 771.4,556 772.9,538.4 774.4,577.9 775.9,532.1 777.4,604.3 778.9,534.6 780.4,529.2 781.9,530.7 783.4,615.5 784.9,624.4 786.4,625.9 787.9,595.4 789.4,621.4 790.9,599.2 792.4,631.9 793.9,633.4 795.4,634.7 797,635.3 798.5,635.8 800,636.4 801.5,637 803,637.6 804.5,638.1 806,638.7 807.5,639.3 809,639.9 810.5,640.5 812,641 813.5,635 815,642.2 816.5,642.8 818,610 819.5,556.3 821,553.7 822.5,549.7 824,569 825.5,600.4 827,645.3 828.5,603 830,586.8 831.5,609.6 833,592.3 834.5,600.2 836,644.1 837.5,631.6 839,646.8 840.5,647 842,647.2 843.5,647.4 845,607.3 846.5,632 848,608.9 849.5,588.5 851,550.8 852.5,556.2 854,550.1 855.5,564.8 857,649.1 858.6,649.3 860.1,649.5 861.6,631.4 863.1,572.9 864.6,649.7 866.1,649.7 867.6,649.8 869.1,617.3 870.6,642.3 872.1,587.9 873.6,556.3 875.1,580.3 876.6,631.3 878.1,603.7 879.6,650.2 881.1,650.2 882.6,650.3 884.1,645.5 885.6,650.4 887.1,650.4 888.6,650.5 890.1,652.5 891.6,655.2 893.1,588.1 894.6,618.1 896.1,590.1 897.6,632.7 899.1,604.1 900.6,571.4 902.1,648.9 903.6,618.1 905.1,660.7 906.6,682.2 908.1,684.9 909.6,683.1 911.1,657.4 912.6,693.1 914.1,695.8 915.6,644.1 917.1,606.5 918.6,604.7 920.2,617.3 921.7,608.2 923.2,710.3 924.7,712.4 926.2,714.5 927.7,716.6 929.2,674.7 930.7,671.7 932.2,722.9 933.7,667.7 935.2,727.1 936.7,729.2 938.2,731.3 939.7,733.4 941.2,735.5 942.7,737.6 944.2,739.6 945.7,741.7 947.2,743.8 948.7,717.1 950.2,746.2 951.7,747.3 953.2,748.5 954.7,749.6 956.2,750.7 957.7,742.2 959.2,695 960.7,692.8 962.2,743.5 963.7,755.6 965.2,756.1 966.7,756.6 968.2,750.5 969.7,743.7 971.2,746.9 972.7,758.6 974.2,759.1 975.7,759.6 977.2,760.2 978.7,761 980.2,713.5 981.8,732.4 983.3,763.4 984.8,736.9 986.3,695.2 987.8,716.8 989.3,682.8 990.8,742.6 992.3,736.7 993.8,769.2 995.3,770 996.8,770.9 998.3,771.7 999.8,772.5 1001.3,772.8 1002.8,773 1004.3,721.7 1005.8,727.6 1007.3,695.1 1008.8,700.6 1010.3,699.8 1011.8,711.7 1013.3,774.6 1014.8,774.8 1016.3,775 1017.8,775.3 1019.3,775.5 1020.8,775.7 1022.3,775.9 1023.8,776.1 1025.3,776.4 1026.8,776.6 1028.3,776.8 1029.8,777 1031.3,777.3 1032.8,777.5 1034.3,777.7 1035.8,777.9 1037.3,778.3 1038.8,779.3 1040.3,772 1041.8,761 1043.4,724.3 1044.9,761.4 1046.4,733 1047.9,750.8 1049.4,772.5 1050.9,784.6 1052.4,739.4 1053.9,741.4 1055.4,757.8 1056.9,788.4 1058.4,788.9 1059.9,789.4 1061.4,789.9 1062.9,790.4 1064.4,790.9 1065.9,791.4 1067.4,773.3 1068.9,792.4 1070.4,792.9 1071.9,793.5 1073.4,794 1074.9,794.5 1076.4,795 1077.9,795.5 1079.4,796 1080.9,796.5 1082.4,797 1083.9,797.5 1085.4,798 1086.9,798.5 1088.4,749 1089.9,751 1091.4,731.4 1092.9,732.8 1094.4,739.7 1095.9,783.9 1097.4,794.2 1098.9,803.6 1100.4,804.2 1101.9,804.8 1103.4,794.4 1105,806.1 1106.5,782.4 1108,778.4 1109.5,783.5 1111,782.3 1112.5,799.1 1114,809 1115.5,808.9 1117,766.4 1118.5,787.5 1120,804.9 1121.5,744 1123,751.3 1124.5,748.4 1126,747.1 1127.5,787.2 1129,762.3 1130.5,807.9 1132,807.8 1133.5,807.7 1135,807.6 1135,829.6 1133.5,815.6 1132,819.6 1130.5,815.9 1129,819.6 1127.5,839 1126,846.9 1124.5,847.2 1123,841.6 1121.5,828.5 1120,817 1118.5,848.8 1117,849.2 1115.5,847.1 1114,848.3 1112.5,850.4 1111,850.1 1109.5,849.6 1108,849 1106.5,846.6 1105,846.9 1103.4,835.9 1101.9,820.1 1100.4,813.1 1098.9,835 1097.4,845.3 1095.9,842.4 1094.4,819.6 1092.9,824 1091.4,830.3 1089.9,823.9 1088.4,835.2 1086.9,825.1 1085.4,832.9 1083.9,822.1 1082.4,806.6 1080.9,805.8 1079.4,820.4 1077.9,825.6 1076.4,809.8 1074.9,804 1073.4,803.5 1071.9,803.1 1070.4,828.8 1068.9,834.5 1067.4,823.9 1065.9,827 1064.4,837.9 1062.9,827.3 1061.4,837.5 1059.9,812.7 1058.4,799.7 1056.9,798.6 1055.4,834.9 1053.9,824.8 1052.4,797.2 1050.9,796.8 1049.4,803.1 1047.9,803.8 1046.4,803.2 1044.9,808.2 1043.4,821.1 1041.8,791.6 1040.3,805.6 1038.8,789.7 1037.3,800.1 1035.8,799.9 1034.3,823.4 1032.8,799.8 1031.3,806.7 1029.8,811.8 1028.3,824.7 1026.8,825.6 1025.3,823.8 1023.8,788.5 1022.3,786.2 1020.8,804.3 1019.3,824.2 1017.8,821.8 1016.3,823.6 1014.8,823.3 1013.3,819.7 1011.8,808.3 1010.3,804.3 1008.8,813.5 1007.3,803.5 1005.8,821.6 1004.3,796.6 1002.8,813.4 1001.3,807.9 999.8,782.6 998.3,781.9 996.8,781.2 995.3,805.5 993.8,793.2 992.3,801.5 990.8,796.4 989.3,778.2 987.8,777.8 986.3,777.5 984.8,780.4 983.3,794.4 981.8,776.5 980.2,800.6 978.7,785.2 977.2,775.6 975.7,791.5 974.2,789.5 972.7,793.6 971.2,779.8 969.7,773.1 968.2,772.6 966.7,772.1 965.2,771.6 963.7,771.1 962.2,777.7 960.7,788.3 959.2,797.9 957.7,769 956.2,768.5 954.7,802.1 953.2,807.4 951.7,806.9 950.2,806.4 948.7,805.9 947.2,801.8 945.7,804.8 944.2,804.3 942.7,777 941.2,763.2 939.7,762.7 938.2,762.2 936.7,801.7 935.2,777.7 933.7,765.4 932.2,771.9 930.7,759.6 929.2,773.3 927.7,776.6 926.2,787.6 924.7,792.7 923.2,781.6 921.7,756.4 920.2,774.2 918.6,771.6 917.1,789.1 915.6,754.4 914.1,772.2 912.6,753.4 911.1,780.6 909.6,769.6 908.1,760.4 906.6,760.9 905.1,750.9 903.6,776 902.1,789.9 900.6,789.1 899.1,758.3 897.6,748.4 896.1,747.9 894.6,787.4 893.1,786.9 891.6,786.4 890.1,776.1 888.6,754.2 887.1,744.8 885.6,744.3 884.1,743.8 882.6,743.3 881.1,753.8 879.6,756.5 878.1,779.9 876.6,767.2 875.1,768.9 873.6,766.5 872.1,763.5 870.6,778.4 869.1,770 867.6,757.9 866.1,762.1 864.6,740.2 863.1,754.5 861.6,736 860.1,737.2 858.6,743.4 857,750.5 855.5,746.7 854,739.8 852.5,731.7 851,730.9 849.5,730.1 848,763 846.5,765.2 845,757.7 843.5,753 842,758.6 840.5,730 839,724.7 837.5,742.2 836,763.2 834.5,762.2 833,721.7 831.5,731.3 830,750.2 828.5,729.4 827,744.9 825.5,752.3 824,738.8 822.5,717.4 821,743.1 819.5,740.2 818,741.6 816.5,733.5 815,733.6 813.5,737.1 812,741.6 810.5,746 809,744.9 807.5,733.8 806,715.9 804.5,706 803,705.1 801.5,735.1 800,730.5 798.5,742.5 797,741.1 795.4,718.2 793.9,728.9 792.4,712.8 790.9,697.5 789.4,696.3 787.9,695.2 786.4,694.1 784.9,714.7 783.4,691.8 781.9,690.7 780.4,694.5 778.9,711.9 777.4,727.3 775.9,708.4 774.4,725.1 772.9,715.2 771.4,718.2 769.9,691.1 768.4,685.8 766.9,705 765.4,719.1 763.9,718.1 762.4,717.1 760.9,715 759.4,695.1 757.9,681.2 756.4,686.2 754.9,667.3 753.4,666.5 751.9,679.2 750.4,684.5 748.9,683.5 747.4,682.6 745.9,681.6 744.4,679.5 742.9,676.2 741.4,674.9 739.9,664.5 738.4,662.9 736.9,662.2 735.4,660.9 733.8,661.1 732.3,661 730.8,663.2 729.3,665.5 727.8,664.1 726.3,658.3 724.8,659.8 723.3,659.8 721.8,657.4 720.3,661.2 718.8,659.2 717.3,658.2 715.8,666.6 714.3,669.4 712.8,669.2 711.3,664.6 709.8,665.8 708.3,662.4 706.8,667.5 705.3,663.3 703.8,662.7 702.3,665.3 700.8,662.6 699.3,661.4 697.8,661.7 696.3,657.5 694.8,657.8 693.3,657.3 691.8,656.1 690.3,656.1 688.8,658.1 687.3,666 685.8,664.3 684.3,661.5 682.8,658.5 681.3,657.9 679.8,664.9 678.3,661.2 676.8,662.2 675.3,661.8 673.8,663.6 672.2,658.4 670.7,658 669.2,656.2 667.7,655.9 666.2,656.8 664.7,658.1 663.2,658.7 661.7,659.1 660.2,661.3 658.7,657.4 657.2,657.7 655.7,657 654.2,658.8 652.7,653.8 651.2,653.4 649.7,654.1 648.2,651.4 646.7,651.9 645.2,655.1 643.7,658.2 642.2,653.6 640.7,655.1 639.2,654.1 637.7,653.5 636.2,656.9 634.7,655.3 633.2,650.2 631.7,649.3 630.2,649.1 628.7,646.7 627.2,649.1 625.7,646.9 624.2,646.2 622.7,647.3 621.2,652 619.7,654.3 618.2,654.3 616.7,657.5 615.2,657.5 613.7,653.3 612.2,649.7 610.6,651 609.1,655.6 607.6,656.5 606.1,657.3 604.6,657.5 603.1,652.9 601.6,644.6 600.1,644.9 598.6,654.7 597.1,655.6 595.6,652.8 594.1,654.5 592.6,651.2 591.1,648.8 589.6,649.6 588.1,646.7 586.6,644 585.1,646.2 583.6,643.7 582.1,641.4 580.6,637.9 579.1,638.6 577.6,637.9 576.1,640.9 574.6,639.6 573.1,638.2 571.6,639.3 570.1,637.3 568.6,635.2 567.1,635.9 565.6,636.6 564.1,635 562.6,631.9 561.1,631.8 559.6,630.5 558.1,632.3 556.6,634.8 555.1,638.8 553.6,638.2 552.1,636.4 550.6,636.4 549,632.2 547.5,634.5 546,635 544.5,631.4 543,630.4 541.5,630.8 540,621.4 538.5,618.1 537,615.7 535.5,617.2 534,612.7 532.5,609.4 531,607.1 529.5,604.7 528,605.5 526.5,604 525,602.6 523.5,601.5 522,597.7 520.5,594.9 519,589" fill="#8B2A8F" stroke="#8B2A8F" stroke-width="9" stroke-linejoin="round"/>
<polygon points="760,347.5 764.2,491.5 772,640 748,640 755.8,491.5" fill="#8B2A8F" stroke="#8B2A8F" stroke-width="9" stroke-linejoin="round"/>
<polygon points="775,504.5 778.1,560 784,620 766,620 771.9,560" fill="#8B2A8F" stroke="#8B2A8F" stroke-width="9" stroke-linejoin="round"/>
<polygon points="889,550.5 892.2,607 898.1,668 879.9,668 885.8,607" fill="#8B2A8F" stroke="#8B2A8F" stroke-width="9" stroke-linejoin="round"/>
<polygon points="439,591 440.5,598.4 442,602.2 443.5,606.7 445,606.3 446.5,606.9 448,609.3 449.5,611.7 451,614.9 452.5,618.7 454,622.3 455.5,623 457,622.3 458.5,624 460,620.6 461.5,617.7 463,618.8 464.5,625.3 466,629 467.5,629 469,627.2 470.5,626.1 472,628.1 473.5,627.9 475,626.2 476.5,637.2 478,638.3 479.5,639.2 481,641.9 482.5,639.4 484,636.8 485.5,634 487,639.1 488.5,643.9 490,644 491.5,644.6 493,644.4 494.5,645.2 496,640.1 497.5,635.1 499,635.9 500.5,635.2 502,629.9 503.5,630.2 505,631.8 506.5,627 508,619 509.5,616.2 511,624.6 512.5,627.6 514,626.2 515.5,631.9 517,631.3 518.5,633.2 520,620 521.5,622.3 523,628.9 524.5,624.9 526,626.2 527.5,629.5 529,631.2 530.5,632.7 532,633.5 533.5,635 535,639.2 536.5,641.5 538,642.9 539.5,642.2 541,641.6 542.5,642.1 544,638.3 545.5,639.2 547,644 548.5,643.7 550,649 551.5,652.7 553,652.5 554.5,656.6 556,657.9 557.5,659.3 559,659.4 560.5,661.9 562,662.2 563.5,659.8 565,660.5 566.5,658.2 568,656.2 569.5,661.7 571,658.2 572.5,660.8 574,656.4 575.5,657.3 577,661.5 578.5,655.8 580,659.9 581.5,656.3 583,660.6 584.5,664 586,665.1 587.5,663.2 589,663.4 590.5,666.3 592,663.1 593.5,667.7 595,663.7 596.5,663.5 598,668 599.5,661.7 601,663.7 602.5,665 604,664 605.5,672.4 607,673.3 608.5,673.1 610,663.2 611.5,664.6 613,671.8 614.5,674.7 616,676.5 617.5,677.6 619,674.7 620.5,666.6 622,663.2 623.5,665.9 625,675.7 626.5,672.8 628,672.5 629.5,675.2 631,672.8 632.5,675.5 634,679.8 635.5,676.6 637,673.8 638.5,679.4 640,681.3 641.5,683.2 643,681.2 644.5,674.3 646,680.4 647.5,672.6 649,669.6 650.5,670 652,670.4 653.5,678 655,677 656.5,679.5 658,674.9 659.5,682.3 661,674.4 662.5,672.9 664,673.2 665.5,675.6 667,666.2 668.5,653.7 670,699.1 671.5,710.7 673,713.7 674.5,713.2 676,715 677.5,715.7 679,709.5 680.5,684.5 682,665.5 683.5,604.1 685,606.4 686.5,600.7 688,681.2 689.5,616 691,651 692.5,624.5 694,686.9 695.5,695.3 697,694.5 698.5,693.6 700,621.4 701.5,639.7 703,673.1 704.5,689.2 706,682.2 707.5,657.6 709,670.9 710.5,660.5 712,682.3 713.5,609.4 715,607.6 716.5,580.4 718,678.5 719.5,678 721,677.5 722.5,677 724,676.5 725.5,676.1 727,675.7 728.5,675.3 730,674.9 731.5,674.5 733,674.1 734.5,673.7 736,609.1 737.5,672.9 739,672.5 740.5,675.3 742,678 743.5,680.8 745,683.6 746.5,686.3 748,689.1 749.5,691.8 751,694.6 752.5,697.4 754,680.9 755.5,626.6 757,705.7 758.5,708.5 760,711.4 761.5,714.3 763,717.2 764.5,720.1 766,723 767.5,699.3 769,647.2 770.5,631.7 772,653.2 773.5,737.5 775,737.2 776.5,735.3 778,733.3 779.5,731.4 781,729.4 782.5,727.5 784,725.6 785.5,654.5 787,690.9 788.5,655.3 790,638.8 791.5,666.9 793,713.9 794.5,712 796,710 797.5,708.1 799,706.1 800.5,704.2 802,702.3 803.5,700.3 805,698.4 806.5,696.4 808,637.6 809.5,651.4 811,625.5 812.5,646.1 814,670.6 815.5,625.6 817,674.7 818.5,638 820,698.5 821.5,700.6 823,676.1 824.5,699.4 826,706.7 827.5,644.9 829,625 830.5,705.7 832,714.9 833.5,717 835,719 836.5,721.1 838,723.1 839.5,726.1 841,731 842.5,736 844,655.8 845.5,709.3 847,700.5 848.5,702 850,760.5 851.5,711.3 853,708.2 854.5,716.2 856,747.3 857.5,729.9 859,741.5 860.5,702.2 862,716.9 863.5,779.7 865,781.8 866.5,783.9 868,786 869.5,788.2 871,790.3 872.5,792.4 874,794.6 875.5,796.7 877,798.8 878.5,801 880,803.1 881.5,804.4 883,715.5 884.5,703.7 886,718.1 887.5,713.9 889,772.6 890.5,802.4 892,802 893.5,801.7 895,759.6 896.5,775.3 898,770.5 899.5,800.3 901,758.1 902.5,799.6 904,749 905.5,789.4 907,725.9 908.5,726.9 910,798 911.5,797.6 913,798.4 914.5,731.3 916,757.8 917.5,789.4 919,781.6 920.5,746.3 922,706.2 923.5,724.9 925,808.8 926.5,810.1 928,801 929.5,770.2 931,792.5 932.5,815.4 934,816.5 935.5,817.2 937,817.9 938.5,818.6 940,750.8 941.5,736 943,727.2 944.5,723.8 946,774.8 947.5,808.7 949,820.1 950.5,819.9 952,800.2 953.5,752.9 955,783.3 956.5,748.7 958,804.6 959.5,767.8 961,788 962.5,775.8 964,728.5 965.5,714.7 967,767.5 968.5,748 970,812.7 971.5,812 973,795.1 974.5,810.7 976,784.3 977.5,813 979,774.6 980.5,759 982,757.3 983.5,819 985,820.5 986.5,822 988,823.5 989.5,825 991,825.8 992.5,826.5 994,827.3 995.5,828 997,828.8 998.5,829.5 1000,830.3 1001.5,831 1003,831.8 1004.5,832.5 1006,833.3 1007.5,833.8 1009,830.2 1010.5,834.8 1012,835.3 1013.5,835.8 1015,836.3 1016.5,836.8 1018,837.3 1019.5,783.2 1021,791.6 1022.5,775.8 1024,820.5 1025.5,827.8 1027,779.7 1028.5,802.9 1030,836 1031.5,841.9 1033,842.5 1034.5,842.1 1036,816 1037.5,844.3 1039,845.8 1040.5,847.3 1042,848.9 1043.5,842.9 1045,851.9 1046.5,853.4 1048,854.9 1049.5,820.6 1051,833.3 1052.5,830.2 1054,835.7 1054,884.9 1052.5,891.2 1051,886.6 1049.5,897.2 1048,889 1046.5,900 1045,875.3 1043.5,860.5 1042,864.3 1040.5,897.1 1039,896.4 1037.5,877.7 1036,855.3 1034.5,855 1033,860.1 1031.5,872.3 1030,884.1 1028.5,888.3 1027,886.4 1025.5,886.2 1024,893 1022.5,877.9 1021,852.4 1019.5,852.1 1018,884 1016.5,873.1 1015,878.1 1013.5,851 1012,850.7 1010.5,850.4 1009,850.1 1007.5,849.8 1006,849.5 1004.5,868.7 1003,848.9 1001.5,848.6 1000,848.3 998.5,848 997,847.8 995.5,856.8 994,863.6 992.5,870.8 991,856.2 989.5,846.3 988,846 986.5,881 985,885.4 983.5,870.1 982,855.1 980.5,844.6 979,848.4 977.5,877.5 976,883.7 974.5,870.9 973,852.6 971.5,850.8 970,849.5 968.5,842.7 967,842.5 965.5,848.1 964,861 962.5,841.9 961,841.8 959.5,845.2 958,856.6 956.5,845.7 955,841 953.5,845.3 952,866.8 950.5,864.4 949,880.2 947.5,880.1 946,879.9 944.5,879.7 943,871.4 941.5,879.2 940,878.9 938.5,878.6 937,861.6 935.5,878 934,877.8 932.5,877.5 931,858.1 929.5,876.9 928,855.4 926.5,867 925,859.2 923.5,835.7 922,835.4 920.5,835.1 919,842.4 917.5,838.5 916,846.9 914.5,838.5 913,855 911.5,865.9 910,863 908.5,832.8 907,832.5 905.5,832.2 904,859.1 902.5,865.1 901,831.4 899.5,850.6 898,854.4 896.5,839.3 895,830.2 893.5,858 892,869.6 890.5,869.3 889,849.7 887.5,847.5 886,867 884.5,865.5 883,867.9 881.5,862.6 880,833.5 878.5,827 877,840.7 875.5,826.4 874,852.3 872.5,852.5 871,865.6 869.5,831.2 868,835 866.5,857.7 865,850.2 863.5,846.6 862,863.7 860.5,863.5 859,863.2 857.5,823 856,822.7 854.5,822.4 853,858.1 851.5,850.8 850,861.5 848.5,861 847,856.9 845.5,855.1 844,859.3 842.5,858.8 841,829.3 839.5,839.6 838,828.8 836.5,845.3 835,852 833.5,855.8 832,832.6 830.5,814.8 829,814.3 827.5,813.9 826,831.9 824.5,826.6 823,827.6 821.5,847 820,841.2 818.5,833 817,837.4 815.5,809.2 814,837.9 812.5,839.4 811,839 809.5,842.3 808,843.3 806.5,828.4 805,810.8 803.5,806.2 802,804.6 800.5,804.4 799,823.5 797.5,804.1 796,803.7 794.5,803.5 793,803.3 791.5,803.1 790,813.5 788.5,802.6 787,802.4 785.5,802.2 784,820.8 782.5,801.8 781,816.7 779.5,830 778,816.4 776.5,829 775,832.4 773.5,816.8 772,832.9 770.5,822.5 769,811.4 767.5,797.7 766,797 764.5,805.6 763,807.9 761.5,810.8 760,830 758.5,833.1 757,814.3 755.5,809.1 754,821.7 752.5,823 751,828.5 749.5,816.8 748,807.2 746.5,803.8 745,795 743.5,787.4 742,786.8 740.5,786.1 739,785.5 737.5,805 736,793.3 734.5,788.8 733,821.5 731.5,820.5 730,805.3 728.5,781.3 727,783.7 725.5,801.4 724,790 722.5,801.8 721,772.2 719.5,770.5 718,777.8 716.5,807.2 715,800 713.5,788 712,763.2 710.5,762 709,760.9 707.5,764.6 706,771.1 704.5,769.1 703,777.4 701.5,795.3 700,794.6 698.5,782.8 697,787.8 695.5,783.4 694,791.9 692.5,791.2 691,790.5 689.5,762.4 688,775.2 686.5,748.5 685,747.8 683.5,756.8 682,747.5 680.5,770.6 679,744.8 677.5,736.1 676,730.5 674.5,725 673,743.8 671.5,742.5 670,732.6 668.5,738.6 667,733 665.5,730.6 664,727.4 662.5,718.2 661,714.7 659.5,709.4 658,710.3 656.5,709.3 655,717.4 653.5,717.3 652,715.2 650.5,708.3 649,706.8 647.5,708 646,707.7 644.5,708.9 643,719 641.5,718.6 640,713.2 638.5,707.8 637,703.5 635.5,706.4 634,707.7 632.5,706.8 631,704.4 629.5,708.2 628,705.9 626.5,700.9 625,701.3 623.5,704.2 622,703.8 620.5,704.4 619,711.8 617.5,712.2 616,700.7 614.5,701.6 613,699.6 611.5,699.5 610,701.7 608.5,707.2 607,704.6 605.5,705.4 604,704.5 602.5,699.8 601,707.6 599.5,702.9 598,703.5 596.5,694.8 595,692.7 593.5,692.9 592,692.1 590.5,691.6 589,692.4 587.5,696.1 586,694.8 584.5,699.5 583,702.4 581.5,692.3 580,694.5 578.5,696 577,690.1 575.5,689 574,688.9 572.5,690 571,693 569.5,687.5 568,693 566.5,692 565,684.1 563.5,683.9 562,679.3 560.5,674.9 559,671.6 557.5,674.4 556,672.1 554.5,672.9 553,673.2 551.5,669.1 550,666.8 548.5,661.7 547,663.2 545.5,666.5 544,661.5 542.5,659.4 541,655 539.5,654.8 538,661.1 536.5,662.2 535,656 533.5,655 532,654.8 530.5,655.9 529,656.9 527.5,653.4 526,650.8 524.5,651.1 523,652.4 521.5,654 520,654.8 518.5,657.8 517,657.5 515.5,657.3 514,657.1 512.5,654.4 511,648.9 509.5,644.8 508,647.6 506.5,646.4 505,650.3 503.5,651.3 502,652 500.5,654.6 499,654.8 497.5,656.9 496,655.2 494.5,656.3 493,655.1 491.5,657.3 490,659.3 488.5,657.8 487,659.7 485.5,658.6 484,657.4 482.5,656.5 481,656.5 479.5,653.8 478,651.7 476.5,651.5 475,655.5 473.5,652.1 472,652.3 470.5,647.2 469,649.8 467.5,649.2 466,642.5 464.5,642.4 463,642.8 461.5,640.8 460,644.6 458.5,643.2 457,639.8 455.5,637.5 454,633.7 452.5,634.2 451,633.7 449.5,630.9 448,626.6 446.5,624.2 445,621.9 443.5,618.5 442,614.5 440.5,615 439,613.1" fill="#FFB000" stroke="#FFB000" stroke-width="9" stroke-linejoin="round"/>
<polygon points="679,449.5 683.2,570.3 691,695.6 667,695.6 674.8,570.3" fill="#FFB000" stroke="#FFB000" stroke-width="9" stroke-linejoin="round"/>
<polygon points="808,557.5 812.2,636.5 820,720 796,720 803.8,636.5" fill="#FFB000" stroke="#FFB000" stroke-width="9" stroke-linejoin="round"/>
<polygon points="739,572.5 742.4,633.5 748.8,699 729.2,699 735.6,633.5" fill="#FFB000" stroke="#FFB000" stroke-width="9" stroke-linejoin="round"/>
<polygon points="358,626.5 359.5,627.3 361,636.1 362.5,637.3 364,635.8 365.5,637.1 367,645.7 368.5,655.1 370,661.5 371.5,664.1 373,664.8 374.5,665.9 376,665.9 377.5,666.7 379,666 380.5,666.7 382,667.5 383.5,667.5 385,667.6 386.5,668.8 388,668.3 389.6,669.3 391.1,670.4 392.6,672.2 394.1,670.1 395.6,668.7 397.1,665.7 398.6,667.3 400.1,671.9 401.6,673.3 403.1,672.8 404.6,669.1 406.1,672.4 407.6,672.6 409.1,671.7 410.6,673.9 412.1,674.2 413.6,675.8 415.1,671.4 416.6,666.6 418.1,668 419.6,673 421.1,673.1 422.6,671.9 424.1,675.5 425.6,673.5 427.1,674.4 428.6,672.6 430.1,671.2 431.6,671.1 433.1,672 434.6,673.2 436.1,671.8 437.6,673.4 439.1,666.4 440.6,659.3 442.1,665.9 443.6,663.8 445.1,668.6 446.6,672 448.1,674.3 449.6,669.8 451.2,659.8 452.7,660.2 454.2,665.7 455.7,665 457.2,664.4 458.7,670.9 460.2,666.6 461.7,662.6 463.2,662.8 464.7,665.5 466.2,667.5 467.7,675.5 469.2,675.9 470.7,678.5 472.2,678.2 473.7,674.2 475.2,671.2 476.7,672.6 478.2,671.3 479.7,672.6 481.2,681.3 482.7,689.6 484.2,691 485.7,690 487.2,697.4 488.7,700.2 490.2,704.6 491.7,708.2 493.2,705.5 494.7,709.3 496.2,716.5 497.7,719.8 499.2,715.1 500.7,709 502.2,699.4 503.7,695.3 505.2,700.5 506.7,698.9 508.2,696.1 509.7,688.8 511.2,692.3 512.8,694.3 514.3,693 515.8,700.6 517.3,693.5 518.8,694.2 520.3,705.3 521.8,710.7 523.3,708.3 524.8,707.3 526.3,703.8 527.8,704.6 529.3,711.7 530.8,712.3 532.3,713.7 533.8,714.7 535.3,715.2 536.8,715.9 538.3,714.8 539.8,718.5 541.3,717.9 542.8,713.7 544.3,709 545.8,704.5 547.3,708.4 548.8,709.4 550.3,709.7 551.8,711.5 553.3,715.2 554.8,716.3 556.3,712.3 557.8,711.5 559.3,713.6 560.8,718.8 562.3,718.4 563.8,719.7 565.3,716.8 566.8,714.7 568.3,710.9 569.8,709.4 571.3,710.3 572.8,712.9 574.4,711.1 575.9,710.1 577.4,713.7 578.9,709.4 580.4,709.5 581.9,708.9 583.4,709.2 584.9,709.5 586.4,699 587.9,690.1 589.4,697.7 590.9,691.9 592.4,714.8 593.9,682.9 595.4,653.2 596.9,696.5 598.4,712.3 599.9,724.9 601.4,679.4 602.9,702.6 604.4,677.6 605.9,686.3 607.4,730.5 608.9,731.7 610.4,663.3 611.9,646.4 613.4,735.4 614.9,736.6 616.4,737.6 617.9,721.1 619.4,650.8 620.9,675.9 622.4,719 623.9,739.4 625.4,739.7 626.9,678.7 628.4,652.9 629.9,688.2 631.4,675.8 632.9,706.7 634.4,712.9 636,650 637.5,656.4 639,715.6 640.5,733.4 642,695.5 643.5,685.3 645,702 646.5,658 648,683.4 649.5,745.5 651,745.8 652.5,746.2 654,680.1 655.5,672.1 657,747.3 658.5,688.1 660,750.2 661.5,708.7 663,727 664.5,696.5 666,751.3 667.5,717.8 669,760.7 670.5,752.1 672,763.2 673.5,764.4 675,749.6 676.5,672.5 678,703.2 679.5,685.3 681,753.9 682.5,750.6 684,707 685.5,681.6 687,694.3 688.5,767.8 690,767.7 691.5,767.7 693,767.6 694.5,747.3 696,744.9 697.6,720.9 699.1,709.9 700.6,752.6 702.1,763 703.6,761.9 705.1,760.8 706.6,759.7 708.1,735.3 709.6,689.9 711.1,718.4 712.6,680.1 714.1,671.8 715.6,706.1 717.1,752 718.6,750.9 720.1,749.8 721.6,748.7 723.1,720.4 724.6,673.9 726.1,667.1 727.6,670.4 729.1,671.6 730.6,683.9 732.1,655 733.6,686.1 735.1,692.3 736.6,671.8 738.1,717.4 739.6,758.1 741.1,760.6 742.6,748.9 744.1,732.2 745.6,737.4 747.1,743 748.6,766.3 750.1,775.2 751.6,736.4 753.1,780.1 754.6,768.5 756.1,746.1 757.6,787.4 759.2,751 760.7,761.8 762.2,699.8 763.7,702.9 765.2,727.7 766.7,728.6 768.2,769.5 769.7,797.6 771.2,785.3 772.7,800.1 774.2,734.1 775.7,737.4 777.2,782.9 778.7,778 780.2,794.1 781.7,790.3 783.2,808.9 784.7,797.1 786.2,789.4 787.7,812.6 789.2,796.8 790.7,759.4 792.2,764.5 793.7,780.5 795.2,775 796.7,794.1 798.2,817.7 799.7,818 801.2,814 802.7,803.4 804.2,788.3 805.7,818.8 807.2,819 808.7,775.6 810.2,802.9 811.7,744.5 813.2,767.7 814.7,806.1 816.2,820.2 817.7,753 819.2,761.2 820.8,756.2 822.3,769.8 823.8,790.5 825.3,811.4 826.8,821.6 828.3,821.8 829.8,822 831.3,822.2 832.8,822.5 834.3,753.8 835.8,823.7 837.3,824.7 838.8,825.6 840.3,825.4 841.8,754.5 843.3,756.5 844.8,773.1 846.3,784.1 847.8,831.3 849.3,832.3 850.8,833.2 852.3,821.3 853.8,828.9 855.3,836.1 856.8,837 858.3,837.9 859.8,838.9 861.3,824.4 862.8,816.1 864.3,794.4 865.8,796.6 867.3,823.4 868.8,841.1 870.3,840.6 871.8,813.1 873.3,772.5 874.8,783.1 876.3,833.2 877.8,821.2 879.3,838.1 880.8,837.7 882.4,838.6 883.9,779.8 885.4,765.7 886.9,767.8 888.4,776.9 889.9,794 891.4,845.1 892.9,846.2 894.4,847.2 895.9,800.5 897.4,802.1 898.9,832.8 900.4,851.6 901.9,852.6 903.4,841.4 904.9,816.6 906.4,855.9 907.9,844.4 909.4,836.5 910.9,830.6 912.4,803.3 913.9,828.7 915.4,861.5 916.9,862.2 918.4,863 919.9,863.7 921.4,864.4 922.9,865.1 924.4,865.8 925.9,866.5 927.4,867.2 928.9,867.9 930.4,868.6 931.9,836.9 933.4,833.4 934.9,816.8 936.4,807.6 937.9,793.5 939.4,792.9 940.9,825.8 942.4,874.3 944,875.7 945.5,877.5 947,879.3 948.5,881.1 950,853.1 951.5,842.4 953,824.4 954.5,888.4 956,890.2 957.5,892 959,861.1 960.5,851.9 962,898.2 963.5,900.6 965,902.4 966.5,890.9 968,840 969.5,868.9 971,912.6 972.5,873.7 974,869.4 974,939.6 972.5,941.4 971,943.4 969.5,931.2 968,936.7 966.5,925.3 965,948 963.5,942.9 962,946.8 960.5,950.7 959,938.1 957.5,922.6 956,904.6 954.5,902.4 953,924.7 951.5,937.9 950,899.3 948.5,893.5 947,891.3 945.5,898.4 944,926.9 942.4,924.9 940.9,916.3 939.4,914 937.9,920.4 936.4,918.7 934.9,917.4 933.4,893.2 931.9,900.8 930.4,878 928.9,877.1 927.4,876.2 925.9,886.3 924.4,904.8 922.9,901.8 921.4,900.3 919.9,897.9 918.4,894.6 916.9,887.1 915.4,883.2 913.9,896.4 912.4,894.9 910.9,892.7 909.4,883.6 907.9,886.2 906.4,884.1 904.9,872.2 903.4,877.9 901.9,860.8 900.4,859.9 898.9,881.8 897.4,889.1 895.9,878.9 894.4,889.4 892.9,888.4 891.4,875.8 889.9,853.3 888.4,852.3 886.9,851.4 885.4,850.4 883.9,849.5 882.4,861.1 880.8,852.5 879.3,858.8 877.8,865.3 876.3,861.6 874.8,848.4 873.3,858.8 871.8,864.6 870.3,865.8 868.8,865.3 867.3,857.7 865.8,866.5 864.3,871.1 862.8,877 861.3,876.7 859.8,876.3 858.3,876 856.8,875.5 855.3,844.3 853.8,843.5 852.3,842.7 850.8,874.3 849.3,874 847.8,867.7 846.3,858.7 844.8,862.1 843.3,866.2 841.8,872.3 840.3,865.7 838.8,862.9 837.3,869.6 835.8,870.9 834.3,870.6 832.8,855.9 831.3,832.3 829.8,832 828.3,865.2 826.8,868.9 825.3,863.9 823.8,833.8 822.3,830.9 820.8,852.4 819.2,857.9 817.7,852.1 816.2,830 814.7,829.7 813.2,829.5 811.7,834.1 810.2,829 808.7,828.8 807.2,828.6 805.7,838.8 804.2,859 802.7,854.8 801.2,856 799.7,863 798.2,862.6 796.7,850.5 795.2,846.9 793.7,860.5 792.2,825.8 790.7,853.9 789.2,844.3 787.7,827.1 786.2,827.9 784.7,831.1 783.2,819.2 781.7,823.7 780.2,832.1 778.7,831.6 777.2,829 775.7,847.2 774.2,814.8 772.7,818.4 771.2,813.8 769.7,853.2 768.2,852.7 766.7,852.2 765.2,851.2 763.7,846.3 762.2,843.6 760.7,840.9 759.2,825.5 757.6,809.3 756.1,848.9 754.6,848.4 753.1,837.4 751.6,847.6 750.1,831.4 748.6,828.7 747.1,841.8 745.6,845.9 744.1,845.5 742.6,845.1 741.1,844.6 739.6,823.1 738.1,828.8 736.6,803.4 735.1,805.7 733.6,828.2 732.1,825.1 730.6,801.7 729.1,801.2 727.6,800.6 726.1,827.7 724.6,835.7 723.1,817.4 721.6,798.4 720.1,797.9 718.6,814.8 717.1,820.8 715.6,799.1 714.1,821.4 712.6,819.5 711.1,817.6 709.6,817.5 708.1,793.5 706.6,792.9 705.1,792.4 703.6,806.7 702.1,816.7 700.6,799.2 699.1,796.1 697.6,789.9 696,789.6 694.5,829.3 693,808.8 691.5,816.3 690,814 688.5,816.6 687,809.5 685.5,811.1 684,821.1 682.5,826.5 681,826.2 679.5,825.8 678,825.5 676.5,822.2 675,817.1 673.5,821.2 672,805.3 670.5,807 669,804.6 667.5,780.3 666,779.5 664.5,780.8 663,779.2 661.5,805.8 660,799 658.5,792.6 657,780.2 655.5,785.6 654,777.5 652.5,780.7 651,789 649.5,772.5 648,784.7 646.5,784 645,782.8 643.5,770.3 642,775.3 640.5,772.2 639,792.5 637.5,780.5 636,767.6 634.4,780 632.9,766.6 631.4,766 629.9,765.5 628.4,788.8 626.9,774.7 625.4,763.9 623.9,763.3 622.4,762.8 620.9,796.7 619.4,800.8 617.9,774.6 616.4,769.5 614.9,782.3 613.4,789.9 611.9,787.5 610.4,789.7 608.9,758.3 607.4,757.8 605.9,764.1 604.4,796.9 602.9,793.2 601.4,773.6 599.9,755.4 598.4,774.1 596.9,791.6 595.4,789.7 593.9,787.9 592.4,774.4 590.9,780.7 589.4,774.3 587.9,767.8 586.4,757.1 584.9,745.3 583.4,749.2 581.9,750.3 580.4,746.7 578.9,743 577.4,741.9 575.9,739.6 574.4,738.4 572.8,737 571.3,735.9 569.8,738.5 568.3,740.5 566.8,738.5 565.3,733.6 563.8,735 562.3,739 560.8,738 559.3,738.4 557.8,741.7 556.3,739.6 554.8,734.1 553.3,731.3 551.8,734.3 550.3,742.2 548.8,735.3 547.3,732.5 545.8,731 544.3,732 542.8,736.9 541.3,740.3 539.8,733.3 538.3,737.7 536.8,737.1 535.3,732.8 533.8,728.8 532.3,728.2 530.8,728.6 529.3,731.1 527.8,731.3 526.3,728.2 524.8,727.9 523.3,724.9 521.8,724.4 520.3,726.6 518.8,730.8 517.3,727.1 515.8,732.7 514.3,731.8 512.8,728.7 511.2,723 509.7,722.8 508.2,728.3 506.7,721.7 505.2,721.8 503.7,721.2 502.2,724.5 500.7,724.3 499.2,724.7 497.7,727 496.2,727 494.7,724.3 493.2,721.4 491.7,719.5 490.2,719.4 488.7,721.6 487.2,722 485.7,715.5 484.2,718.3 482.7,708.5 481.2,709.2 479.7,706.5 478.2,708.2 476.7,703.6 475.2,700.2 473.7,701.5 472.2,703.6 470.7,702.6 469.2,707.2 467.7,703.5 466.2,699.1 464.7,698 463.2,699.1 461.7,695.5 460.2,701.4 458.7,697.6 457.2,690.3 455.7,689.6 454.2,688.7 452.7,693.2 451.2,690 449.6,687.4 448.1,692 446.6,693 445.1,691.2 443.6,699.6 442.1,691.3 440.6,697.9 439.1,694.9 437.6,691.2 436.1,690.7 434.6,691.4 433.1,693.8 431.6,698.4 430.1,702.2 428.6,705.3 427.1,701 425.6,696.6 424.1,691.1 422.6,694.6 421.1,695.8 419.6,694.1 418.1,690.2 416.6,690 415.1,691.5 413.6,692.6 412.1,691.3 410.6,686.9 409.1,686.1 407.6,684.2 406.1,686.2 404.6,683.3 403.1,684.6 401.6,682.3 400.1,682.9 398.6,684.3 397.1,686.9 395.6,686.5 394.1,682 392.6,680.8 391.1,682.9 389.6,681.3 388,678.8 386.5,681.3 385,680.5 383.5,678 382,677.8 380.5,677.6 379,674.5 377.5,673.8 376,676.2 374.5,677.5 373,676.6 371.5,675.4 370,673.2 368.5,671.1 367,665.4 365.5,660.4 364,653.3 362.5,653.8 361,652.3 359.5,648.5 358,644.9" fill="#FF5309" stroke="#FF5309" stroke-width="9" stroke-linejoin="round"/>
<polygon points="597,574.5 600.8,641.9 607.8,713.8 586.2,713.8 593.2,641.9" fill="#FF5309" stroke="#FF5309" stroke-width="9" stroke-linejoin="round"/>
<polygon points="731,642.5 733.8,690.5 738.9,743 723.1,743 728.2,690.5" fill="#FF5309" stroke="#FF5309" stroke-width="9" stroke-linejoin="round"/>
<polygon points="658,629.5 660.8,678.2 666,731.5 650,731.5 655.2,678.2" fill="#FF5309" stroke="#FF5309" stroke-width="9" stroke-linejoin="round"/>
<polygon points="278,659.2 279.5,660.5 281,655.9 282.5,653.8 284,653.5 285.5,658.9 287,653 288.5,652.8 290,654.7 291.5,656 293,665.3 294.5,667 296,670 297.5,676.3 299,674.5 300.5,670.2 302,671.6 303.5,676.9 305,684.6 306.5,685.5 308,685.7 309.5,688.7 311,689.2 312.5,687.5 314,688.6 315.5,693.6 317,695.6 318.5,695.9 320,697.9 321.5,698.8 323,695.5 324.5,693.4 326,693.5 327.5,691.6 329,691.9 330.5,694 332,697.7 333.5,695.5 335,697.8 336.5,700 338,697.9 339.5,696.8 341,697.5 342.5,698.1 344,699.6 345.5,699.5 347,698.6 348.5,695.6 350,697 351.5,690.6 353,691.4 354.5,697.3 356,701.4 357.5,696.2 359,698.8 360.5,696.8 362,696.7 363.5,701.3 365,699.7 366.5,698.7 368,692.2 369.5,695.9 371,700.4 372.5,701.7 374,694 375.5,688.9 377,696.1 378.5,701.6 380,695.8 381.5,698.5 383,692.8 384.5,695 386,699.1 387.5,707.8 389,704.8 390.5,704.5 392,706.8 393.5,709.4 395,712.5 396.5,711.2 398,710 399.5,706.7 401,708.2 402.5,711.1 404,708.7 405.5,704.8 407,706.3 408.5,706.3 410,711.7 411.5,712.3 413,715.1 414.5,714.9 416,714.9 417.5,719.4 419,718.6 420.5,724.8 422,728.4 423.5,727.8 425,728.1 426.5,726.1 428,725.6 429.5,722.2 431,719.1 432.5,722.8 434,726.7 435.5,722.7 437,728.5 438.5,733.7 440,730.6 441.5,730.8 443,732.4 444.5,730.1 446,734 447.5,736.4 449,740.4 450.5,741 452,739.1 453.5,740.3 455,740.2 456.5,741.7 458,739.8 459.5,742.2 461,740.9 462.5,742.7 464,741.2 465.5,742.8 467,735.5 468.5,737.1 470,734.3 471.5,732.6 473,733 474.5,734.7 476,731 477.5,729.5 479,730.6 480.5,737.5 482,730.5 483.5,731.7 485,724.5 486.5,729.3 488,736.5 489.5,733 491,727.2 492.5,726.3 494,717.5 495.5,722.3 497,723.1 498.5,707 500,704.5 501.5,697.5 503,698 504.5,697.1 506,686.8 507.5,677.5 509,750.4 510.5,682.2 512,695.8 513.5,648.1 515,639.8 516.5,687.3 518,694.3 519.5,685 521,670.1 522.5,662 524,682.2 525.5,734.9 527,754.5 528.5,759.5 530,743.2 531.5,731.9 533,761.2 534.5,763.3 536,782.4 537.5,721.3 539,724.1 540.5,706.5 542,791.7 543.5,807 545,808.1 546.5,809.3 548,810.4 549.5,810.5 551,810.5 552.5,810.5 554,802.6 555.5,784.5 557,731.1 558.5,710.5 560,724.9 561.5,794.7 563,756.9 564.5,800.3 566,776.8 567.5,725.5 569,758.8 570.5,795 572,792.6 573.5,790.1 575,787.7 576.5,721.2 578,697.3 579.5,680.3 581,781.3 582.5,756 584,786.6 585.5,789.2 587,791.9 588.5,749 590,738.4 591.5,792.7 593,802.5 594.5,805.2 596,807.8 597.5,779.5 599,791.3 600.5,815.8 602,791.3 603.5,821.1 605,756.9 606.5,753.5 608,824.5 609.5,823.8 611,823.1 612.5,803.8 614,746.8 615.5,821 617,820.2 618.5,819.5 620,818.8 621.5,777.4 623,807.4 624.5,774.3 626,757.8 627.5,758.1 629,800.2 630.5,813.8 632,813.1 633.5,812.4 635,799 636.5,755.2 638,810.2 639.5,776.7 641,708.8 642.5,800.1 644,807.4 645.5,806.6 647,787.1 648.5,777.3 650,804.5 651.5,807.1 653,809.7 654.5,812.2 656,777.7 657.5,817.4 659,820 660.5,822.6 662,825.2 663.5,751 665,750.9 666.5,832.9 668,835.5 669.5,813.1 671,746.6 672.5,749.4 674,809.2 675.5,837.2 677,837.6 678.5,806.1 680,780.8 681.5,782 683,777 684.5,784.4 686,790.6 687.5,797.3 689,828.7 690.5,767.6 692,784.7 693.5,841.4 695,842.4 696.5,843.7 698,810.9 699.5,760.6 701,825.1 702.5,849 704,849.1 705.5,849.3 707,849.4 708.5,849.6 710,755.7 711.5,773.3 713,797 714.5,812.9 716,815.7 717.5,776.8 719,780.7 720.5,774.4 722,788.2 723.5,784.7 725,853.1 726.5,853.8 728,854.5 729.5,855.3 731,856 732.5,856.7 734,857.4 735.5,858.2 737,858.9 738.5,859.6 740,860.3 741.5,809.9 743,815.5 744.5,811 746,783.2 747.5,823.8 749,864.7 750.5,865.4 752,844.4 753.5,826.5 755,839.9 756.5,818.7 758,797.4 759.5,813.9 761,807.8 762.5,862.9 764,862.5 765.5,871.8 767,817.2 768.5,788.3 770,797.1 771.5,824.2 773,843.6 774.5,875.3 776,875.9 777.5,876.4 779,877 780.5,877.6 782,838.7 783.5,879.4 785,880.5 786.5,881.7 788,882.9 789.5,849.2 791,885.2 792.5,884.1 794,887.6 795.5,888.8 797,889.9 798.5,890.9 800,875.6 801.5,836.4 803,821.2 804.5,893.7 806,883.3 807.5,868 809,866.8 810.5,896.4 812,897.1 813.5,897.8 815,898.5 816.5,899.2 818,899.8 819.5,839.7 821,836.9 822.5,901.9 824,902.6 825.5,903.3 827,858.6 828.5,859.7 830,905.5 831.5,906.2 833,906.9 834.5,907.6 836,883.2 837.5,909.1 839,909.8 840.5,910.5 842,911.2 843.5,903.8 845,875 846.5,911.3 848,865 849.5,876.6 851,914.9 852.5,915.5 854,916 855.5,916.6 857,917.1 858.5,917.7 860,918.3 861.5,892.7 863,868.1 864.5,920 866,887.2 867.5,917.2 869,924.2 870.5,925.7 872,927.3 873.5,928.8 875,884 876.5,902.4 878,933.4 879.5,932.3 881,864.5 882.5,867 884,883.6 885.5,907.9 887,922.5 888.5,943.9 890,945.4 891.5,946.9 893,948.4 893,956.6 891.5,955.2 890,953.9 888.5,962.7 887,951.1 885.5,967.9 884,948.4 882.5,947.1 881,945.7 879.5,944.2 878,945.1 876.5,948.6 875,966.3 873.5,973.9 872,962 870.5,971.3 869,969.4 867.5,968.7 866,952.4 864.5,957.6 863,964.5 861.5,946.9 860,928 858.5,927.4 857,929.8 855.5,926.2 854,926.1 852.5,935.5 851,945.1 849.5,958.9 848,958.9 846.5,958.2 845,957.5 843.5,954.1 842,932.9 840.5,929.7 839,919.6 837.5,938.6 836,945.9 834.5,936.2 833,917.1 831.5,916.4 830,915.8 828.5,915.2 827,914.6 825.5,933.9 824,930.7 822.5,936.6 821,946.5 819.5,951.2 818,950.5 816.5,949.8 815,949 813.5,929.5 812,938.5 810.5,919.4 809,946 807.5,940.5 806,926.1 804.5,905.5 803,924.4 801.5,935.3 800,941.5 798.5,925.1 797,900.4 795.5,899.3 794,898.1 792.5,897 791,895.9 789.5,894.7 788,893.6 786.5,919.5 785,931.6 783.5,927.4 782,920.6 780.5,913.2 779,921.2 777.5,927.9 776,927.4 774.5,909.7 773,891.6 771.5,890.1 770,909 768.5,903 767,884.3 765.5,883.8 764,883.3 762.5,891.4 761,895.4 759.5,912.8 758,911.9 756.5,910.5 755,883.9 753.5,900.7 752,909.9 750.5,907.4 749,914.5 747.5,879.1 746,875.8 744.5,875.1 743,889.9 741.5,874.7 740,883.3 738.5,872.4 737,874.2 735.5,901.7 734,891 732.5,903 731,908.7 729.5,908 728,881.7 726.5,873.1 725,876.1 723.5,865.2 722,898.7 720.5,884.7 719,890 717.5,904.4 716,894.8 714.5,898.3 713,879.2 711.5,866.8 710,867.3 708.5,875.3 707,868.5 705.5,883.7 704,898 702.5,897.3 701,908 699.5,911.4 698,912 696.5,904 695,908.4 693.5,913.4 692,884.7 690.5,901.4 689,895.2 687.5,877.6 686,882.6 684.5,910.1 683,912.2 681.5,912.1 680,911.9 678.5,909.2 677,871.5 675.5,888.3 674,875.6 672.5,885.5 671,899.6 669.5,892.7 668,870.5 666.5,869.7 665,868.8 663.5,868 662,887.2 660.5,900.8 659,895.4 657.5,867.9 656,863.8 654.5,863 653,862.2 651.5,861.3 650,860.5 648.5,860.1 647,859.6 645.5,863.7 644,858.7 642.5,865.8 641,897.8 639.5,877.5 638,882.4 636.5,886.5 635,882.9 633.5,878.2 632,872.5 630.5,894.7 629,882.2 627.5,869 626,860.1 624.5,853 623,854.4 621.5,852.1 620,870.6 618.5,869.1 617,851.8 615.5,870 614,876.2 612.5,883.7 611,879.6 609.5,888.5 608,888.1 606.5,887.6 605,886.4 603.5,867.9 602,846.9 600.5,846.7 599,868.3 597.5,886.2 596,879.9 594.5,880.3 593,885.5 591.5,874.4 590,861.8 588.5,871.9 587,883.1 585.5,883.4 584,862.5 582.5,843.9 581,856.4 579.5,883.6 578,883.9 576.5,883.7 575,884.6 573.5,884.9 572,885.2 570.5,885.5 569,869 567.5,846.1 566,846.4 564.5,846.8 563,882.1 561.5,885.4 560,868.8 558.5,877.4 557,868.8 555.5,863.1 554,838.9 552.5,837.1 551,835.3 549.5,833.4 548,840 546.5,829.8 545,827.9 543.5,826.1 542,823.6 540.5,820.8 539,817.9 537.5,815 536,812.2 534.5,809.4 533,806.5 531.5,816.5 530,815.2 528.5,806.5 527,806.5 525.5,808.4 524,822.8 522.5,806.5 521,827 519.5,837.7 518,846.5 516.5,841.2 515,836 513.5,830.8 512,825.5 510.5,815.5 509,776 507.5,785.3 506,772.3 504.5,773.5 503,764.8 501.5,771.4 500,765.2 498.5,770.6 497,770.6 495.5,767.5 494,762 492.5,755.2 491,755.4 489.5,758.7 488,759.5 486.5,759.8 485,761.7 483.5,766.5 482,761.8 480.5,765.6 479,764 477.5,764.8 476,764.3 474.5,755.6 473,757.7 471.5,758.4 470,753.6 468.5,754.6 467,752.8 465.5,752.5 464,752.3 462.5,755.2 461,756.4 459.5,755.3 458,751.4 456.5,752.4 455,751.7 453.5,750.7 452,752 450.5,751.7 449,749.7 447.5,750.1 446,753.2 444.5,751.6 443,749.5 441.5,750.2 440,749.1 438.5,753.2 437,750.8 435.5,745 434,742.8 432.5,741.2 431,740.8 429.5,739.2 428,742.3 426.5,743.5 425,743.8 423.5,740.7 422,737.8 420.5,737 419,736.7 417.5,736.9 416,739.8 414.5,740.8 413,736.5 411.5,732.4 410,731.5 408.5,734.5 407,739.6 405.5,739.1 404,730.9 402.5,733.3 401,729.1 399.5,735.8 398,735.7 396.5,733.6 395,731.1 393.5,739 392,742.9 390.5,746 389,738.3 387.5,742.7 386,736.8 384.5,729.8 383,732.4 381.5,739.8 380,734.5 378.5,735.2 377,736.8 375.5,737.8 374,736.6 372.5,730.2 371,729.7 369.5,732.4 368,726.8 366.5,725.5 365,717.3 363.5,719.4 362,716.9 360.5,719.3 359,718.1 357.5,715.6 356,716 354.5,714.2 353,719.8 351.5,721.4 350,720.2 348.5,715.8 347,715.6 345.5,714.2 344,713.5 342.5,713.1 341,710.9 339.5,710.4 338,711.7 336.5,715.4 335,715.2 333.5,713.2 332,713.9 330.5,710.1 329,711.7 327.5,710.7 326,707.8 324.5,708.3 323,707.7 321.5,708.4 320,706.1 318.5,706.1 317,707.5 315.5,702.3 314,701.1 312.5,701.6 311,701.7 309.5,705.6 308,703.2 306.5,701.2 305,697.6 303.5,697.1 302,692.2 300.5,689.9 299,688.5 297.5,690.7 296,691.6 294.5,694.6 293,696.4 291.5,685.8 290,681.9 288.5,681.4 287,687.9 285.5,687.5 284,687.3 282.5,688.6 281,685.1 279.5,683.5 278,676.7" fill="#0072BD" stroke="#0072BD" stroke-width="9" stroke-linejoin="round"/>
<polygon points="515,605.5 518.5,667.5 525,734 505,734 511.5,667.5" fill="#0072BD" stroke="#0072BD" stroke-width="9" stroke-linejoin="round"/>
<polygon points="650,673.5 653.5,735.8 660,802.5 640,802.5 646.5,735.8" fill="#0072BD" stroke="#0072BD" stroke-width="9" stroke-linejoin="round"/>
<polygon points="580,679.5 582.8,728.2 588,781.5 572,781.5 577.2,728.2" fill="#0072BD" stroke="#0072BD" stroke-width="9" stroke-linejoin="round"/>
<polygon points="545,694.5 547.6,739.6 552.4,789.2 537.6,789.2 542.4,739.6" fill="#0072BD" stroke="#0072BD" stroke-width="9" stroke-linejoin="round"/>
<polyline points="917,1922 919.7,1923.9 922.3,1929.7 925,1927.5 928.3,1928.7 931.7,1921 935,1920 938,1920.6 941,1921.4 944,1926.2 947,1925.8 950,1927.5 953.1,1930.4 956.2,1923.2 959.4,1934.1 962.5,1930 970,1955 973.3,1953.9 976.7,1955.4 980,1952.5 983.3,1955.3 986.7,1957.7 990,1962 992.9,1965.2 995.7,1968.2 998.6,1967 1001.4,1969 1004.3,1973.3 1007.1,1970.5 1010,1975 1013,1969 1016,1973.2 1019,1968.5 1022,1963.2 1025,1967.5 1028,1968.6 1031,1973.1 1034,1974.4 1037,1977 1040,1985 1045,2060 1048.3,2063.4 1051.7,2069.4 1055,2070 1058.3,2061 1061.7,2051.1 1065,2045 1068.3,2054.5 1071.7,2063.8 1075,2070 1078,2063.1 1081,2059.6 1084,2055.1 1087,2045.4 1090,2040 1093,2042.6 1096,2051 1099,2055.7 1102,2063.3 1105,2065 1108.3,2067.8 1111.7,2076.3 1115,2085 1125,2135 1128,2139.5 1131,2143.8 1134,2156.4 1137,2164.6 1140,2170 1150,2225 1153.3,2226.1 1156.7,2235.8 1160,2235 1163.3,2239.1 1166.7,2240.2 1170,2240 1173.3,2239.5 1176.7,2239.5 1180,2235 1183.3,2234.3 1186.7,2243.5 1190,2245 1193.3,2254.5 1196.7,2246.2 1200,2268 1203,2273.8 1206,2272 1209,2283.3 1212,2276.5 1215,2283 1217.8,2283.4 1220.5,2286.7 1223.2,2277.5 1226,2289.8 1228.8,2284.7 1231.5,2289.9 1234.2,2282.3 1237,2287 1239.7,2296.7 1242.4,2293.8 1245.1,2288.6 1247.9,2296.1 1250.6,2302.1 1253.3,2307.3 1256,2294 1258.7,2280.4 1261.4,2299.1 1264.1,2294.7 1266.9,2289.2 1269.6,2280.9 1272.3,2298.1 1275,2287 1278,2279.1 1281,2295.9 1284,2304 1287,2283 1290,2298 1293,2296.4 1296,2289.1 1299,2302.4 1302,2313.3 1305,2302 1308,2318.2 1311,2287.8 1314,2297.4 1317,2307.6 1320,2302 1322.8,2311.9 1325.5,2299.9 1328.2,2287.8 1331,2291 1333.8,2300.9 1336.5,2305.9 1339.2,2311.9 1342,2321 1345,2315.7 1348,2325.3 1351,2325.3 1354,2322.7 1357,2324 1360,2323 1363,2315.3 1366,2322.5 1369,2336.9 1372,2328 1375,2327.3 1378,2318.1 1381,2341.1 1384,2335.4 1387,2332 1390,2351.9 1393,2338.5 1396,2337.3 1399,2332.4 1402,2347 1405,2359 1408,2370.4 1411,2344.6 1414,2347.4 1417,2354 1420,2359.6 1423,2349 1426,2354.2 1429,2354.4 1432,2358 1435,2364.7 1438,2377.2 1441,2373.8 1444,2386.2 1447,2384 1454,2358 1456.7,2357 1459.3,2365.3 1462,2365 1465,2349.5 1468,2356.6 1471,2376.2 1474,2366.7 1477,2373 1480,2378.4 1483,2378.9 1486,2386 1489,2382.7 1492,2377 1495,2385.7 1498,2377.3 1501,2373.2 1504,2373.5 1507,2380 1509.9,2377.7 1512.8,2374.2 1515.7,2380.4 1518.6,2385.7 1521.5,2388 1525.2,2391 1529,2390" fill="none" stroke="#FF5309" stroke-width="8.8" stroke-linejoin="round" stroke-linecap="round"/>
<polyline points="837.5,1962.5 842.5,1935 847.5,1910 850,1840 852.5,1770 855,1700 857.5,1675 860,1672.5 862,1700 865,1760 867.5,1880 869,1830 870,1790 872,1720 875,1675 878,1680 880,1672.5 881,1795 882.5,1705 884,1790" fill="none" stroke="#0072BD" stroke-width="8.8" stroke-linejoin="round" stroke-linecap="round"/>
<polyline points="885,2230 887,2100 890,2010 893,2009 896,2004.2 899,2009.8 902,2010.7 905,2010 908.3,2004.9 911.7,1995.1 915,1985 920,1980 925,2025 928.3,2018.1 931.7,2012.8 935,2010 940,2010 950,2045 953.3,2044.4 956.7,2033.9 960,2025 967.5,2000 972.5,1970 977.5,2020 982.5,2060 990,2035 993.8,2038 997.5,2030 1002.5,2070 1006.2,2086.4 1010,2090 1013.3,2097.5 1016.7,2111.2 1020,2120 1027.5,2155 1030.6,2155.1 1033.8,2154.2 1036.9,2152.9 1040,2150 1043.3,2153.9 1046.7,2157.2 1050,2160 1057.5,2210 1061.2,2208 1065,2215 1072.5,2270 1080,2210 1087.5,2270 1095,2140 1100,2300 1112.5,2235 1115.6,2242 1118.8,2247.8 1121.9,2257.9 1125,2265 1132.5,2210 1142.5,2300 1152.5,2350 1160,2270 1170,2310 1179,2135 1185,2350 1188.3,2349.6 1191.7,2361.6 1195,2360 1200,2240 1207.5,2264.5 1211.2,2259.5 1215,2249.5 1228,2201 1233.6,2264.5 1237.3,2263.2 1241,2257 1248.6,2287 1252.3,2300.5 1256,2309 1261.7,2223.4 1265.3,2229.3 1269,2234.6 1274.8,2294.4 1282.2,2238.3 1293.5,2275.7 1299,2335.5 1304.7,2260.7 1308.3,2253.8 1312,2249.5 1315.8,2259.4 1319.6,2272 1322.4,2261.5 1325.2,2260.1 1328,2252.4 1330.8,2245.8 1342,2313 1351.4,2242 1360.7,2283.2 1364.5,2293.5 1368.2,2294.4 1377.6,2264.5 1386.9,2301.9 1390.7,2281.9 1394.4,2283.2 1397.2,2291.3 1400,2279 1402.8,2280.2 1405.6,2287 1413,2309.3 1422.4,2275.7 1428,2313 1431.8,2300.3 1435.5,2290.7 1439.2,2295.5 1443,2309.3 1446.7,2365.4" fill="none" stroke="#0072BD" stroke-width="8.8" stroke-linejoin="round" stroke-linecap="round"/>
<polyline points="1106,1780 1110,1828 1114,1782" fill="none" stroke="#0072BD" stroke-width="8.8" stroke-linejoin="round" stroke-linecap="round"/>
<polyline points="855,1700 856,1800 858,1860 860,1690 862,1850 864,1700 866,1870" fill="none" stroke="#0072BD" stroke-width="8.8" stroke-linejoin="round" stroke-linecap="round"/>
<polyline points="872,1690 874,1760 876,1690 878,1780 880,1690" fill="none" stroke="#0072BD" stroke-width="8.8" stroke-linejoin="round" stroke-linecap="round"/>
<polyline points="1178,1815 1180,1900 1184,1815 1187,1900 1190,1815 1193,1900 1196,1815 1197,1900" fill="none" stroke="#0072BD" stroke-width="8.8" stroke-linejoin="round" stroke-linecap="round"/>
<circle cx="1150" cy="1800" r="4.5" fill="#0072BD"/>
<circle cx="1183" cy="2370" r="4.5" fill="#0072BD"/>
<circle cx="1184" cy="2385" r="4.5" fill="#0072BD"/>
<circle cx="1195" cy="2375" r="4.5" fill="#0072BD"/>
<circle cx="1196" cy="2390" r="4.5" fill="#0072BD"/>
<polyline points="755,1950 760,1920 765,1900 768.8,1908.4 772.5,1915 780,1980 783.8,1985.8 787.5,1995 791.2,1986.8 795,1985 798.8,1980 802.5,1980 804,1935" fill="none" stroke="#BD0A2E" stroke-width="8.8" stroke-linejoin="round" stroke-linecap="round"/>
<polyline points="805,2240 806,2180 807.5,2050 812.5,2040 815.6,2035.2 818.8,2022.6 821.9,2010.2 825,2005 828.1,1998.8 831.2,1987.8 834.4,1991.6 837.5,1980 840.8,1985.4 844.2,2001.4 847.5,2010 851.2,2016.6 855,2020 858.3,2012.3 861.7,2014.2 865,2010 868.3,2016.3 871.7,2018.1 875,2020 878.3,2017.4 881.7,2016.2 885,2010 888.8,2015.5 892.5,2020 900,2050 903.8,2041 907.5,2030 915,2080 918.3,2083 921.7,2088.6 925,2090 928.3,2090.5 931.7,2099 935,2100 940,2095 950,2130 953.3,2135.2 956.7,2140.1 960,2150 963.8,2148.6 967.5,2145 975,2215 978.3,2223.4 981.7,2224.6 985,2225 995,2270 1005,2305 1015,2210 1022.5,2290 1025.6,2284.6 1028.8,2293.1 1031.9,2282.6 1035,2285 1038,2279 1041,2275.7 1044,2251.5 1047,2266.5 1050,2260 1053.3,2260.1 1056.7,2271.1 1060,2285 1070,2330 1080,2295 1083.3,2291.5 1086.7,2299.5 1090,2320 1100,2260 1110,2320 1120,2285 1123,2275.5 1126,2287.6 1129,2292.3 1132,2276.8 1135,2275 1138.3,2275.4 1141.7,2257.5 1145,2250 1155,2285 1158.3,2278 1161.7,2302.9 1165,2310 1168.3,2306.9 1171.7,2293.2 1175,2290 1178.3,2284.1 1181.7,2277.9 1185,2265 1195,2300 1200,2287 1203,2278.5 1206,2272 1209,2280.4 1212,2278.9 1215,2279 1217,2347 1222,2287 1225,2285.6 1228,2297.7 1231,2305 1234,2289.3 1237,2294 1245,2332 1247.8,2330.1 1250.5,2324.5 1253.2,2315.2 1256,2302 1258.8,2312.1 1261.5,2302.4 1264.2,2313.2 1267,2309 1269.9,2327.2 1272.8,2319.4 1275.6,2310 1278.5,2317 1281.4,2323.6 1284.2,2330.6 1287.1,2325.2 1290,2324 1292.8,2321.5 1295.5,2340.3 1298.2,2320 1301,2332 1304.5,2326.5 1308,2313 1311,2319.4 1314,2316.5 1317,2342.3 1320,2339 1322.8,2340 1325.5,2326.2 1328.2,2338.6 1331,2332 1333.8,2330.3 1336.5,2320.3 1339.2,2331.7 1342,2339 1344.8,2340.1 1347.5,2342.1 1350.2,2337.3 1353,2335 1355.9,2342.1 1358.8,2352.3 1361.6,2353.6 1364.5,2362 1369,2347" fill="none" stroke="#BD0A2E" stroke-width="8.8" stroke-linejoin="round" stroke-linecap="round"/>
<circle cx="804" cy="1699" r="4.5" fill="#BD0A2E"/>
<circle cx="804" cy="1713.5" r="4.5" fill="#BD0A2E"/>
<circle cx="804" cy="1749" r="4.5" fill="#BD0A2E"/>
<circle cx="804" cy="1842.5" r="4.5" fill="#BD0A2E"/>
<circle cx="804" cy="1905" r="4.5" fill="#BD0A2E"/>
<circle cx="804" cy="1925" r="4.5" fill="#BD0A2E"/>
<polyline points="677.5,1980 682.5,1967.5 690,2000 695,2070 698.3,2078.5 701.7,2080.4 705,2085 715,2010 718.3,2007.5 721.7,2005 725,2000 735,2100 745,2050 748.8,2036.8 752.5,2030 760,2060 763.3,2064.5 766.7,2077.9 770,2080 773.3,2082.7 776.7,2082.5 780,2085 783.3,2081 786.7,2073.6 790,2070 793.3,2064.2 796.7,2054.7 800,2050 803.3,2050.8 806.7,2045.3 810,2050 820,2115 823.3,2129 826.7,2133.5 830,2145 840,2180 848,2115 855,2165 857.9,2162.4 860.7,2168.6 863.6,2170.3 866.4,2174 869.3,2172.3 872.1,2179 875,2180 880,2220 883,2238.9 886,2232.2 889,2245 892,2251.1 895,2260 898.3,2271.5 901.7,2265.5 905,2290 915,2325 918.3,2320.8 921.7,2338.7 925,2340 935,2300 938.3,2306.4 941.7,2326.4 945,2320 948.3,2322.7 951.7,2338.1 955,2345 958,2363.3 961,2328.9 964,2322.8 967,2324.7 970,2320 990,2390 992.8,2385.2 995.6,2387.9 998.3,2377.7 1001.1,2366.2 1003.9,2369.5 1006.7,2384.4 1009.4,2369.1 1012.2,2332.2 1015,2350 1017.8,2348.3 1020.6,2341.9 1023.3,2353.3 1026.1,2346.4 1028.9,2362.7 1031.7,2354.1 1034.4,2353.2 1037.2,2347 1040,2345 1042.9,2343.2 1045.7,2344.9 1048.6,2351.1 1051.4,2343.6 1054.3,2335 1057.1,2346.6 1060,2335 1063,2337.5 1066,2336.4 1069,2331.7 1072,2334.5 1075,2340 1085,2375 1088,2364.9 1091,2342.7 1094,2368.1 1097,2359.5 1100,2350 1103,2353.3 1106,2368.4 1109,2368.5 1112,2373 1115,2375 1118,2357.2 1121,2377.1 1124,2385.3 1127,2395.9 1130,2385 1133.3,2389.7 1136.7,2376.4 1140,2355 1143,2351.7 1146,2349.4 1149,2377.6 1152,2379.2 1155,2385 1158,2391.7 1161,2382 1164,2383.8 1167,2369 1170,2380 1172.9,2383.6 1175.7,2376.4 1178.6,2382.8 1181.4,2383.7 1184.3,2379.1 1187.1,2382.5 1190,2380 1192.9,2382.7 1195.7,2391.8 1198.6,2392.6 1201.4,2387.1 1204.3,2389.6 1207.1,2411.1 1210,2400 1212.9,2399.9 1215.7,2409.4 1218.6,2405.3 1221.4,2398.3 1224.3,2397.6 1227.1,2405.2 1230,2405 1232.9,2406.3 1235.7,2408.5 1238.6,2392.7 1241.4,2397.4 1244.3,2400.7 1247.1,2413.5 1250,2400 1252.9,2382.5 1255.7,2406.4 1258.6,2400 1261.4,2409.2 1264.3,2403.2 1267.1,2411.5 1270,2410 1272.7,2424.2 1275.4,2416.3 1278.1,2418.6 1280.9,2419.8 1283.6,2412.6 1286.3,2424.6 1289,2422" fill="none" stroke="#00BEF0" stroke-width="8.8" stroke-linejoin="round" stroke-linecap="round"/>
<polyline points="988,1841 991,1855 995,1843" fill="none" stroke="#00BEF0" stroke-width="8.8" stroke-linejoin="round" stroke-linecap="round"/>
<polyline points="1018,1857 1022,1885 1027,1860" fill="none" stroke="#00BEF0" stroke-width="8.8" stroke-linejoin="round" stroke-linecap="round"/>
<circle cx="942.5" cy="1820" r="4.5" fill="#00BEF0"/>
<polyline points="597.6,2000 600,1980 605,1978 610,1990 615,2050 620,2090 623.3,2097.7 626.7,2104.2 630,2115 636,2080 640,2000 644,2010 647.5,2050 652,2090 654.7,2084.9 657.3,2079.3 660,2075 663.3,2075.6 666.7,2071.5 670,2070 673.3,2071.7 676.7,2081 680,2080 683.3,2086.3 686.7,2090.5 690,2090 693.3,2086.8 696.7,2079.7 700,2075 703.3,2080.4 706.7,2087.5 710,2095 713.3,2094.5 716.7,2088.7 720,2085 723.3,2087.2 726.7,2098.2 730,2105 733.3,2107.4 736.7,2118.8 740,2125 743.3,2126.4 746.7,2131.2 750,2140 753.3,2147 756.7,2153.1 760,2160 763.3,2165 766.7,2182.2 770,2190 773,2199.5 776,2191.6 779,2204.5 782,2199.9 785,2205 788,2205.5 791,2208.5 794,2206.7 797,2216.9 800,2215 803.3,2224.8 806.7,2229.4 810,2240 820,2280 823.3,2287.8 826.7,2287.9 830,2310 835,2350 838.3,2350.6 841.7,2364.2 845,2360 855,2310 865,2360 868.3,2352.9 871.7,2369.8 875,2380 885,2345 888.3,2354.5 891.7,2370.1 895,2370 898,2386.8 901,2378.3 904,2382.1 907,2397.6 910,2400 913,2393.1 916,2389.5 919,2396.6 922,2397.5 925,2380 928,2386.1 931,2386.5 934,2396.6 937,2380.9 940,2400 943,2397.9 946,2387.5 949,2413.1 952,2397.8 955,2390 958,2387.1 961,2380.4 964,2357.9 967,2379.7 970,2370 972.9,2378 975.7,2354.2 978.6,2360.5 981.4,2355.8 984.3,2332.6 987.1,2347.5 990,2335 1000,2380 1003,2393.8 1006,2387.8 1009,2388.5 1012,2398.3 1015,2395 1017.8,2379.9 1020.6,2390.2 1023.3,2395.1 1026.1,2373.9 1028.9,2389.1 1031.7,2375 1034.4,2358.9 1037.2,2371.9 1040,2370 1043,2370.2 1046,2388.6 1049,2384.6 1052,2410.4 1055,2410 1070,2360 1072.9,2359.1 1075.7,2372.9 1078.6,2370.2 1081.4,2377.4 1084.3,2394.5 1087.1,2391.7 1090,2395 1092.9,2389.7 1095.7,2380.7 1098.6,2397.9 1101.4,2392.3 1104.3,2381.7 1107.1,2384.1 1110,2380 1112.9,2374.6 1115.7,2377.6 1118.6,2382 1121.4,2394.3 1124.3,2396.7 1127.1,2391.2 1130,2400 1132.9,2405.9 1135.7,2406.3 1138.6,2401.4 1141.4,2408.3 1144.3,2397.7 1147.1,2399.1 1150,2400 1152.9,2405.2 1155.7,2402.6 1158.6,2410.6 1161.4,2395.7 1164.3,2418.5 1167.1,2402.3 1170,2410 1172.9,2408.7 1175.7,2399 1178.6,2414.8 1181.4,2420.2 1184.3,2418.6 1187.1,2416.7 1190,2410 1192.7,2400.1 1195.4,2408.9 1198.1,2414 1200.9,2412.8 1203.6,2431.8 1206.3,2426.9 1209,2428" fill="none" stroke="#59AE1E" stroke-width="8.8" stroke-linejoin="round" stroke-linecap="round"/>
<polyline points="939,1877 941,1900 944,1880" fill="none" stroke="#59AE1E" stroke-width="8.8" stroke-linejoin="round" stroke-linecap="round"/>
<circle cx="912.5" cy="1864" r="4.5" fill="#59AE1E"/>
<polyline points="517.5,2010 525,1970 530,1965 535,1980 540,2045 545,2067.5 550,2045 555,2020 560,2000 564,1990" fill="none" stroke="#8B2A8F" stroke-width="8.8" stroke-linejoin="round" stroke-linecap="round"/>
<polyline points="565.9,2306 567,2200 569.2,2106.6 575,2080 579.8,2083 585,2065 588.6,2057.3 592.3,2049.8 595,2045 600.6,2070.6 603.4,2076.2 606.2,2076 609,2083 611.7,2077.5 614.5,2074.9 617.2,2074.8 620,2081.8 622.7,2086.9 625.5,2091.4 628.3,2091.1 631,2090.5 633.8,2081.1 636.6,2081.4 639.3,2081.4 642.1,2078.9 652.5,2125 655.6,2114.7 658.8,2110.9 661.9,2109.3 665,2100 675,2140 678,2150.3 681,2157.2 684,2161.1 687,2167.4 690,2175 693,2185.2 696,2187.9 699,2197 702,2207 705,2210 708,2209.9 711,2210.2 714,2213 717,2215.8 720,2215 730,2260 733.3,2272.2 736.7,2277.9 740,2285 750,2320 753.3,2334.5 756.7,2327.2 760,2350 763.3,2349.8 766.7,2364.6 770,2370 773.3,2359.2 776.7,2352.6 780,2360 783.3,2347 786.7,2346 790,2350 793,2346.6 796,2337.8 799,2345.9 802,2355.6 805,2340 808,2337.8 811,2348.2 814,2339.3 817,2327 820,2335 823.3,2341.3 826.7,2343.8 830,2360 833.3,2369.5 836.7,2357.4 840,2370 843.3,2373.9 846.7,2361.3 850,2350 853.3,2337.2 856.7,2362.9 860,2360 863,2368.4 866,2345.7 869,2355.9 872,2329.6 875,2340 878,2345 881,2332.7 884,2352.9 887,2337.7 890,2355 893,2325.9 896,2342.2 899,2349.3 902,2318.2 905,2315 908.3,2330 911.7,2332.6 915,2340 918,2345.4 921,2360.9 924,2377.1 927,2362.1 930,2380 940,2325 950,2370 953.3,2367.8 956.7,2359.4 960,2350 970,2390 980,2350 983,2343.6 986,2372.9 989,2380.6 992,2362.4 995,2375 998,2387.9 1001,2373.4 1004,2370.7 1007,2383 1010,2370 1012.9,2373.2 1015.7,2375.4 1018.6,2386.4 1021.4,2386 1024.3,2384.3 1027.1,2367.4 1030,2380 1032.9,2368.8 1035.7,2391.9 1038.6,2376.9 1041.4,2386.9 1044.3,2378.6 1047.1,2387.1 1050,2390 1052.9,2380.5 1055.7,2404.5 1058.6,2384 1061.4,2391.9 1064.3,2392.1 1067.1,2403.9 1070,2395 1072.9,2384.4 1075.7,2396.2 1078.6,2395.5 1081.4,2402.1 1084.3,2402.3 1087.1,2395.6 1090,2400 1092.9,2401.9 1095.7,2397 1098.6,2403.7 1101.4,2399.2 1104.3,2394.8 1107.1,2399.8 1110,2400 1113,2406.9 1116,2426.1 1119,2408.1 1122,2418.5 1125,2420 1129.3,2430" fill="none" stroke="#8B2A8F" stroke-width="8.8" stroke-linejoin="round" stroke-linecap="round"/>
<circle cx="564" cy="1764" r="4.5" fill="#8B2A8F"/>
<circle cx="564" cy="1779" r="4.5" fill="#8B2A8F"/>
<circle cx="564" cy="1813.5" r="4.5" fill="#8B2A8F"/>
<circle cx="564" cy="1906" r="4.5" fill="#8B2A8F"/>
<circle cx="564" cy="1970" r="4.5" fill="#8B2A8F"/>
<polyline points="434.8,2061 438,2075 441,2090 445.2,2024 450,1990 453.5,1966 457.7,2024 459.8,2100 462.8,2133 466,2115 469.5,2100 474.3,2070 478.5,1949 482.6,1783" fill="none" stroke="#FFB000" stroke-width="8.8" stroke-linejoin="round" stroke-linecap="round"/>
<polyline points="481.1,2332.6 484.4,2199.7 489.4,2166.5 496.1,2143.2 499.4,2144.3 502.7,2130.3 506,2133.2 509.3,2125.8 512.7,2125.2 516,2126.6 519.4,2134.6 522.7,2143.2 526,2152.8 529.3,2148.8 532.6,2149.9 535.9,2155.7 539.3,2153.6 542.6,2156.5 545.9,2151.3 549.3,2154 552.6,2163.2 555.9,2165.1 559.2,2161.5 562.5,2159.8 570.9,2133.2 575.8,2173.1 579.1,2170.3 582.5,2178.7 585.8,2176.4 589.1,2175.1 592.5,2186.5 595.8,2186.4 599.1,2195.2 602.4,2193 605.7,2199.7 612.4,2239.6 617.4,2252.9 621.2,2255.1 625,2275 630,2280 633,2287.8 636,2273.2 639,2289.9 642,2274.4 645,2285 648.8,2299 652.5,2300 655,2340 658.3,2350.8 661.7,2356.5 665,2370 668,2368.8 671,2383.9 674,2372.9 677,2391.8 680,2400 683.3,2406.8 686.7,2425.4 690,2430 693.3,2426.6 696.7,2457 700,2450 703,2443.5 706,2432.9 709,2449.1 712,2447.3 715,2430 718,2424.5 721,2414.9 724,2418.1 727,2408.5 730,2410 733,2413.5 736,2434.5 739,2431.1 742,2435.2 745,2440 748.3,2452.8 751.7,2459.5 755,2470 765,2430 768.3,2446.7 771.7,2457 775,2460 778.3,2460.4 781.7,2467.5 785,2470 795,2420 798.3,2432.6 801.7,2410 805,2400 808.3,2405.2 811.7,2429.7 815,2420 818,2418.1 821,2407.2 824,2419.4 827,2404.8 830,2410 833.3,2416 836.7,2432.6 840,2440 843.3,2442.3 846.7,2440.6 850,2450 860,2415 863,2413.6 866,2416.3 869,2433.3 872,2421.2 875,2430 878,2419.4 881,2434.3 884,2407.6 887,2417.9 890,2400 893,2414.5 896,2406.8 899,2400.6 902,2419.6 905,2420 908,2427.4 911,2431.7 914,2426.6 917,2437.6 920,2430 923,2437.1 926,2413.6 929,2429.4 932,2415.4 935,2410 938,2409.5 941,2415.5 944,2437 947,2433.9 950,2430 952.9,2417.8 955.7,2435 958.6,2435.3 961.4,2437.2 964.3,2436.6 967.1,2431.2 970,2445 972.9,2451.2 975.7,2436.1 978.6,2439.9 981.4,2437.3 984.3,2435.6 987.1,2446.7 990,2440 992.9,2445.2 995.7,2438.9 998.6,2438.9 1001.4,2444.8 1004.3,2458.5 1007.1,2453.9 1010,2455 1012.9,2457.9 1015.7,2454.4 1018.6,2455.9 1021.4,2460.7 1024.3,2445.3 1027.1,2473.9 1030,2462 1032.7,2458.6 1035.4,2463.2 1038.1,2481.3 1040.9,2475.2 1043.6,2476.6 1046.3,2474.5 1049,2482" fill="none" stroke="#FFB000" stroke-width="8.8" stroke-linejoin="round" stroke-linecap="round"/>
<polyline points="706,1887 710,1905 714,1890" fill="none" stroke="#FFB000" stroke-width="8.8" stroke-linejoin="round" stroke-linecap="round"/>
<polyline points="748,1905 752,1924 757,1908" fill="none" stroke="#FFB000" stroke-width="8.8" stroke-linejoin="round" stroke-linecap="round"/>
<polyline points="776,1912 777,2000 777,2100 777.5,2200 778,2335" fill="none" stroke="#FFB000" stroke-width="8.8" stroke-linejoin="round" stroke-linecap="round"/>
<circle cx="785" cy="1920" r="4.5" fill="#FFB000"/>
<polyline points="357.6,2089 360,2090 364,2065 370.5,2011.5 372.5,1899 376.7,1895 378.8,1804 382,1804 385,1887 387,2007 389,1949 393.3,1833 397.5,1808 399,1900 400,1830 401.6,1804 402.5,1900 403.7,1924" fill="none" stroke="#FF5309" stroke-width="8.8" stroke-linejoin="round" stroke-linecap="round"/>
<polyline points="401.4,2356 403,2259.5 406.3,2246 411.3,2166.5 418,2140 421.3,2131.8 424.6,2133 427.4,2128.1 430.1,2125.7 432.9,2116.6 435.7,2111.7 438.4,2116.3 441.2,2110 446.2,2140 451.2,2176.4 457.9,2136.6 464.5,2166.5 467.3,2167.6 470,2173.2 472.8,2179.8 475.6,2180.2 478.3,2177.5 481.1,2176.4 486.1,2153.2 492.8,2103.3 497.7,2146.5 502.7,2186.4 506,2178.5 509.4,2166.5 512.7,2162 516,2158.9 519.3,2159.8 526,2206.3 529.3,2207.3 532.6,2219.6 539.3,2246.2 545.9,2266.2 549.2,2263.2 552.6,2279.5 555.3,2270.9 557.9,2268.1 560.6,2282 563.2,2274.2 565.9,2279.5 569.2,2270.2 572.5,2292.8 575.8,2332.6 579.1,2354.7 582.5,2330.4 585.8,2339.3 589.1,2338.1 592.5,2367 595.8,2365.9 600,2425 605,2340 615,2270 618.3,2289.3 621.7,2280.8 625,2300 640,2360 643.1,2343.2 646.2,2342 649.4,2354 652.5,2340 655.6,2345 658.8,2348.5 661.9,2362.3 665,2370 672.5,2480 680,2410 690,2460 698.5,2265 705,2400 715,2500 725,2360 728.3,2378 731.7,2365.6 735,2385 738.3,2373.6 741.7,2357.3 745,2360 752.5,2330 760,2380 763.3,2390.7 766.7,2381.2 770,2360 773.3,2370.9 776.7,2365.6 780,2370 783.3,2368.6 786.7,2339.9 790,2350 800,2385 803.3,2390.5 806.7,2381 810,2395 813.3,2382.7 816.7,2386 820,2390 823.3,2390.5 826.7,2401.3 830,2400 833.3,2400.6 836.7,2392.1 840,2385 843.3,2385.8 846.7,2407.1 850,2410 853.3,2405.7 856.7,2412.8 860,2400 863.3,2397.7 866.7,2387.9 870,2415 873.3,2407.9 876.7,2425.5 880,2405 883.3,2415.4 886.7,2416.8 890,2425 893,2429.1 896,2423 899,2419.7 902,2408.9 905,2410 908,2414.6 911,2419.6 914,2416.9 917,2417.1 920,2430 923,2429.1 926,2433.7 929,2429.2 932,2426 935,2420 938,2428 941,2448.7 944,2434.1 947,2444.3 950,2440 952.9,2453.2 955.8,2435.4 958.6,2434.6 961.5,2430 966,2440 968,2500" fill="none" stroke="#FF5309" stroke-width="8.8" stroke-linejoin="round" stroke-linecap="round"/>
<polyline points="395,1812 396,1900 397.5,1808 399,1915 400.5,1806 402,1924 403.5,1810 404,1900" fill="none" stroke="#FF5309" stroke-width="8.8" stroke-linejoin="round" stroke-linecap="round"/>
<polyline points="380,1806 381,1880 383,1810 384,1860" fill="none" stroke="#FF5309" stroke-width="8.8" stroke-linejoin="round" stroke-linecap="round"/>
<polyline points="626,1960 630,1905 633,1910.6 636,1910 637,1958" fill="none" stroke="#FF5309" stroke-width="8.8" stroke-linejoin="round" stroke-linecap="round"/>
<polyline points="698,1945 701,2030 704,1950 708,2030 712,1945 715,2030 719,1950" fill="none" stroke="#FF5309" stroke-width="8.8" stroke-linejoin="round" stroke-linecap="round"/>
<circle cx="672.5" cy="1927.5" r="4.5" fill="#FF5309"/>
<circle cx="402" cy="2330" r="4.5" fill="#FF5309"/>
<circle cx="402" cy="2300" r="4.5" fill="#FF5309"/>
<circle cx="402" cy="2280" r="4.5" fill="#FF5309"/>
<polyline points="276.6,2108 280.8,2133 287,2083 291.2,2041.5 293.6,1949 295.7,1899 299.8,1870 304,1891 308,1880 312.3,1883 316.5,1862 319,1866 321,1945 323,1900 323.9,1827" fill="none" stroke="#0072BD" stroke-width="8.8" stroke-linejoin="round" stroke-linecap="round"/>
<polyline points="323.3,2379 324.9,2332.6 328.2,2299.4 331.6,2249.5 334.9,2199.7 339.9,2209.7 343.2,2196.4 348.2,2246.2 353.2,2219.6 358.2,2139.9 361.5,2126.6 364.8,2133.2 368.1,2239.6 373.1,2216.3 379.8,2179.8 386.4,2246.2 389.8,2241.3 393.1,2226.3 396.4,2218.9 399.7,2209.7 406.3,2169.8 411.3,2129.9 416.3,2149.9 423,2223 428,2189.7 431.3,2197.4 434.6,2203 441.2,2176.4 446.2,2256.2 449.5,2249.8 452.9,2242.9 459.5,2272.8 462.9,2269.8 466.2,2286.1 469.5,2303.3 472.8,2302.7 476.1,2299.6 479.5,2286.7 482.8,2299.4 489.4,2326 492.8,2331.5 496.1,2339.3 499.4,2365.9 502.7,2355.4 506,2372.5 510,2370 512.7,2399.1 517.5,2465 519.3,2332.6 522.1,2325.8 525,2335 532.5,2430 537.5,2265 542.5,2385 547.5,2480 555,2260 560,2420 567.5,2350 575,2390 578.8,2380.2 582.5,2370 590,2500 597.5,2420 602.5,2505 610,2410 615,2470 620,2315 627.5,2520 635,2360 645,2415 648.3,2397.7 651.7,2403.6 655,2385 658.3,2381.6 661.7,2403.8 665,2410 672.5,2360 680,2390 690,2430 695,2495 705,2370 708.3,2384.5 711.7,2401.7 715,2400 725,2340 732.5,2410 740,2480 750,2390 753.3,2404.1 756.7,2405.3 760,2410 763.3,2407.4 766.7,2402.9 770,2400 773.3,2404.2 776.7,2384.8 780,2385 790,2420 793.3,2420.9 796.7,2412.7 800,2410 803.3,2420.3 806.7,2424.6 810,2435 820,2400 823.3,2427.2 826.7,2414.8 830,2430 833.3,2428.8 836.7,2425.6 840,2420 843.3,2428.3 846.7,2430.4 850,2430 853.3,2436.8 856.7,2444.6 860,2440 863.3,2421.4 866.7,2426.8 870,2420 873.3,2415.2 876.7,2432 880,2435 883.8,2433.1 887.5,2450 890,2515" fill="none" stroke="#0072BD" stroke-width="8.8" stroke-linejoin="round" stroke-linecap="round"/>
<polyline points="548,1930 551,2000 554,2055 556,1990 557,1935" fill="none" stroke="#0072BD" stroke-width="8.8" stroke-linejoin="round" stroke-linecap="round"/>
<polyline points="590,1950 595,1990 600,1958 605,1985" fill="none" stroke="#0072BD" stroke-width="8.8" stroke-linejoin="round" stroke-linecap="round"/>
<polyline points="624,1962 626,2100 627,2250 626,2400 627,2520" fill="none" stroke="#0072BD" stroke-width="8.8" stroke-linejoin="round" stroke-linecap="round"/>
<polyline points="621,1970 622,2150 623,2330 621,2480" fill="none" stroke="#0072BD" stroke-width="8.8" stroke-linejoin="round" stroke-linecap="round"/>
<circle cx="549" cy="2070" r="4.5" fill="#0072BD"/>
<circle cx="550" cy="2090" r="4.5" fill="#0072BD"/>
<circle cx="551" cy="2110" r="4.5" fill="#0072BD"/>
<circle cx="552" cy="2140" r="4.5" fill="#0072BD"/>
<circle cx="553" cy="2175" r="4.5" fill="#0072BD"/>
<circle cx="554" cy="2240" r="4.5" fill="#0072BD"/>
<polyline points="922.3,3345.2 925,3346.6 927.7,3346.6 930.3,3348.5 933,3348.4 935.7,3348 938.4,3349.5 941.1,3351.1 943.7,3351.7 946.4,3353.6 949.1,3354.4 951.9,3354.8 954.6,3354.3 957.4,3358.4 960.2,3359.7 962.9,3359.2 965.7,3358.3 968.5,3359.3 971.2,3361.1 974,3362.4 976.6,3364.6 979.2,3365.8 981.8,3367.8 984.4,3368.4 987,3368.5 989.5,3369.9 992.1,3373.6 994.7,3375.2 997.3,3373.8 999.9,3376.2 1002.5,3379.6 1005.1,3379.3 1007.6,3380.9 1010.1,3384.2 1012.7,3383.2 1015.2,3383.9 1017.7,3387.1 1020.2,3389 1022.7,3390.7 1025.2,3390 1027.8,3392.1 1030.3,3393.8 1032.8,3396.8 1035.3,3393.4 1037.8,3394.7 1040.4,3398.5 1042.9,3397.6 1045.4,3399.4 1047.9,3401.3 1050.5,3401.6 1053,3403 1055.6,3403.2 1058.1,3405.5 1060.7,3406.4 1063.2,3408.4 1065.8,3408 1068.3,3409.6 1070.8,3409.2 1073.4,3411.3 1075.9,3413.5 1078.5,3414.1 1081,3416.9 1083.6,3416.7 1086.1,3417.2 1088.8,3417.5 1091.4,3417.7 1094.1,3419.9 1096.8,3420.2 1099.4,3420.2 1102.1,3420.2 1104.8,3419.4 1107.4,3419.6 1110.1,3418.5 1112.8,3421.9 1115.4,3422 1118.1,3420.9 1120.6,3424.1 1123.1,3427.6 1125.7,3426.3 1128.2,3430.7 1130.7,3432.4 1133.2,3431.6 1135.8,3435.8 1138.3,3436 1140.8,3437.6 1143.4,3438.7 1145.9,3439 1148.4,3442.7 1151.2,3444.7 1154,3444.7 1156.8,3445.1 1159.7,3445.5 1162.5,3445.7 1165.3,3446.8 1167.5,3452 1172,3560 1176.2,3675.2 1178.9,3680 1181.7,3686.3 1184.4,3688.9 1187.1,3690.6 1189.8,3696 1192.5,3704.6 1195.3,3705 1198,3711.2 1201.7,3716.8 1205.3,3724.4 1208.9,3734 1212.6,3741.6 1218.4,3720.5 1221,3714.6 1223.5,3705.3 1228.6,3743.8 1231.5,3754.5 1234.4,3756.2 1240.2,3705.3 1245.3,3669 1250.4,3712.6 1256.2,3791.4 1259.8,3779.1 1263.5,3772.1 1267.1,3770.7 1270.7,3763.5 1276.5,3785 1279,3792.3 1281.6,3799.8 1288.9,3770.9 1292.6,3767.5 1296.2,3758.1 1298.8,3746 1301.3,3741.3 1304.2,3732.3 1307.1,3727.1 1312.9,3763.5 1318,3785.2 1321.1,3781.9 1324.3,3779.7 1327.4,3773 1330.3,3774 1333.2,3765.7 1336.1,3763.5 1338.8,3776.7 1341.5,3775.6 1344.3,3783.7 1347,3794.4 1349.7,3797.6 1352.5,3803.7 1355.2,3812.7 1357.9,3819.8 1360.7,3811.3 1363.4,3810.9 1366.2,3803.4 1368.9,3793.4 1371.6,3784 1374.3,3782.3 1377.1,3777.7 1379.8,3773.2 1382.5,3773.9 1385.2,3776.9 1388,3777.7 1390.7,3776.2 1393.4,3778.9 1396.2,3789.9 1398.9,3788.5 1401.6,3792.5 1408.8,3828.8 1412.4,3836.7 1416.1,3847.9 1418.8,3840.5 1421.5,3838.6 1424.3,3835.9 1427,3835 1429.7,3840.9 1432.5,3844.1 1435.2,3846.5 1437.9,3843.3 1441.6,3853.3 1445.2,3865.4 1448.8,3870.7 1452.4,3872.5 1459.7,3836.1 1467,3807.4 1470.7,3799.5 1474.3,3792.5 1477.9,3836.1 1481.5,3857.9 1487.3,3822 1489.8,3816.4 1492.4,3807.1 1497.5,3843.4 1503.3,3866 1506,3860.7 1508.8,3852.4 1511.5,3839.5 1514.2,3833.7 1516.9,3825.1 1519.7,3821.2 1522.4,3816.3 1525.1,3812.9 1528.8,3814.8 1532.4,3819.2 1536.1,3819.7 1539.7,3826.8 1542.4,3823.2 1545.2,3824.4 1547.9,3823.8 1550.6,3819.1 1553.3,3820.8 1556,3825.4 1558.8,3829.8 1561.5,3836.1" fill="none" stroke="#FF5309" stroke-width="2.5" stroke-linejoin="round" stroke-linecap="round"/>
<polyline points="840,3158.8 842.6,3157.8 845.2,3158.5 847.8,3162.2 850.4,3162 853,3163 855.6,3164.3 858.3,3167.6 860.9,3170.2 863.6,3174.1 866.3,3176.2 869,3176.7 871.6,3177.8 874.3,3179.9 876.9,3180.1 879.5,3182.1 882.1,3184.1 884.7,3185.2 887.3,3185.5 889.9,3187.7 892.5,3187.8 895.1,3189.1 897.7,3191.3 900.3,3191.5 902.9,3190.9 905.5,3191.1 908.2,3193.1 910.8,3199 913.5,3201.1 916.1,3202.3 918.8,3202.2 921.4,3204.3 924.1,3208.6 926.7,3211.4 929.3,3213.5 931.9,3214.4 934.5,3216 937.1,3213.8 939.7,3215.4 942.3,3217.5 944.9,3218.4 947.5,3220.6 950.1,3222.2 952.7,3223.9 955.3,3224.4 957.9,3225.8 960.4,3227.5 963,3227.4 965.6,3228.1 968.1,3229.5 970.7,3233.4 973.3,3234.1 975.8,3236.3 978.4,3237 980.9,3235.6 983.5,3237 986.1,3238.3 988.6,3240.4 991.2,3241.7 993.8,3243.2 996.3,3245.6 998.9,3245.4 1001.6,3246.7 1004.2,3249.1 1006.9,3250.3 1009.6,3250 1012.3,3250 1014.9,3253.2 1017.6,3254.5 1020.3,3253.6 1022.9,3254.6 1025.6,3256.7 1028.3,3258.4 1031,3259.7 1033.6,3260.6 1036.3,3261 1039.1,3263.7 1041.8,3265 1044.6,3266.5 1047.4,3265.4 1050.1,3266.1 1052.9,3266 1055.7,3268.9 1058.4,3270.4 1061.2,3270.4 1063.8,3274.4 1066.3,3275 1068.9,3276.3 1071.5,3277.1 1074.1,3277.7 1076.7,3277.2 1079.2,3279.9 1081.8,3280.9 1084.3,3285 1091.2,3400 1096.3,3472.8 1099.2,3477.5 1102.1,3485.7 1105,3493.3 1107.9,3502.6 1110.8,3509.2 1113.5,3514.6 1116.2,3522.1 1119,3526.2 1121.7,3530.1 1124.4,3537 1127.1,3542.8 1129.9,3548.4 1132.6,3552.3 1135.1,3555.7 1137.7,3560.5 1140.2,3565 1142.8,3570.3 1145.3,3573.8 1147.8,3577.6 1150.4,3582.5 1152.9,3586.4 1155.5,3594 1158,3596.1 1160.6,3601.3 1163.2,3608.9 1165.8,3615 1168.4,3620 1171,3627.3 1173.6,3636.9 1176.2,3640.5 1178.9,3638.8 1181.7,3643.1 1184.4,3646.4 1187.1,3646.9 1189.8,3647.7 1192.5,3649.1 1195.3,3650 1198,3650.8 1200.7,3649.2 1203.5,3648.4 1206.2,3648.7 1208.9,3649.8 1211.6,3651.6 1214.3,3649.7 1217.1,3648.4 1219.8,3647.1 1222.5,3646 1225.2,3645.1 1228,3644 1230.7,3640.6 1233.4,3639.2 1236.1,3638 1238.9,3638.3 1241.6,3636.9 1244.3,3638.1 1247,3641.6 1249.8,3644.9 1252.5,3645.4 1255.2,3645.7 1258,3648.1 1260.7,3652.2 1263.4,3654.6 1266,3655.8 1268.7,3655.5 1271.3,3659.1 1274,3662.2 1276.6,3664.3 1279.3,3663.1 1281.9,3664.6 1284.6,3664.9 1287.2,3667.2 1289.9,3669.7 1292.5,3673 1295.1,3674.9 1297.8,3675 1300.4,3674.2 1303.1,3676.7 1305.7,3677.5 1308.4,3676.3 1311,3679.7 1313.7,3680.1 1316.3,3682.9 1319,3681.9 1321.6,3683.1 1324.3,3687 1327,3691.7 1329.8,3695.5 1332.5,3697.1 1335.2,3701.8 1338,3706.9 1340.7,3708.3 1343.4,3713.7 1346.1,3717.4 1348.9,3718.3 1351.6,3723.3 1354.3,3726.5 1357,3725.9 1359.8,3730.2 1362.5,3733.4 1365.2,3737.3 1367.8,3738.5 1370.5,3739.6 1373.1,3740.2 1375.8,3740.7 1378.4,3742.6 1381.1,3744.1 1383.7,3745.5 1386.4,3746 1389,3747.6 1391.7,3747.3 1394.3,3748.7 1396.9,3752 1399.4,3752.8 1402,3752.9 1404.6,3753.2 1407.1,3755.8 1409.7,3756.2 1412.3,3756.9 1414.8,3759.8 1417.4,3760.9 1419.9,3761.3 1422.5,3763 1425.1,3764.3 1427.6,3766.9 1430.2,3766.6 1432.8,3766.9 1435.3,3768.2 1437.9,3770.6 1440.5,3774 1443.1,3776.1 1445.7,3778.7 1448.3,3781.4 1450.9,3783.3 1453.5,3786.6 1456.1,3789 1458.7,3789.4 1461.3,3794.4 1463.9,3798.4 1466.5,3799 1469.1,3801.2 1471.7,3804.6 1474.3,3806.9 1477.2,3810.8 1480.1,3814.3" fill="none" stroke="#0072BD" stroke-width="2.5" stroke-linejoin="round" stroke-linecap="round"/>
<polyline points="755.9,3257.5 758.6,3257.1 761.2,3258.9 763.9,3264.2 766.6,3262.2 769.3,3261.8 771.9,3265.5 774.6,3267.1 777.3,3267.4 779.9,3266.7 782.6,3270.3 785.3,3270.9 788,3272.1 790.6,3274.1 793.3,3276.4 796,3277.2 798.6,3279.1 801.3,3279.9 804,3280.7 806.7,3282.4 809.3,3281.8 812,3282.8 814.7,3285 817.3,3287.9 820,3290.2 822.7,3289.6 825.4,3291.1 828,3295.3 830.7,3295.6 833.4,3296.1 836,3295.9 838.7,3298.8 841.4,3301.4 844.1,3301.1 846.7,3303.4 849.4,3305.8 852.1,3309.3 854.7,3308.6 857.4,3309.7 860.1,3310.5 862.8,3311.1 865.4,3313.2 868.1,3312.9 870.8,3312.9 873.4,3314.5 876.1,3318.7 878.8,3317.3 881.5,3318.3 884.1,3322.4 886.8,3322.3 889.4,3323.3 892,3322.6 894.6,3323.3 897.2,3323.6 899.8,3326.1 902.3,3327.6 904.9,3329.3 907.5,3330.9 910.1,3333.1 912.7,3332.5 915.3,3331.7 917.9,3332.4 920.6,3334 923.2,3338.4 925.9,3336 928.6,3336.5 931.3,3342.7 933.9,3343.5 936.6,3344.7 939.3,3345.6 941.9,3345.5 944.6,3346.4 947.3,3346.9 950,3350.1 952.6,3351.2 955.3,3351.9 957.9,3353.9 960.5,3353.8 963.1,3353.3 965.7,3354 968.3,3356.3 970.8,3359 973.4,3358.1 976,3359.2 978.6,3361.4 981.2,3361.3 983.8,3362 986.4,3360.6 989,3363.1 991.7,3364.7 994.4,3363.9 997,3366.5 998.9,3372 1001.8,3480 1009,3581.3 1011.6,3585.8 1014.2,3592.1 1016.8,3600 1019.4,3606 1022,3612.3 1024.6,3618.7 1027.2,3625.6 1029.8,3630.9 1032.4,3637 1035,3643.8 1037.6,3651 1040.2,3656.7 1042.8,3663 1045.4,3670 1048,3675.7 1050.6,3681.4 1053.2,3687.2 1055.8,3689.1 1058.4,3692.7 1061,3698.1 1063.6,3705.7 1066.3,3710.5 1069,3714.6 1071.8,3717.4 1074.5,3722.1 1077.2,3727.9 1080,3732 1082.7,3736.7 1085.4,3740.9 1087.9,3743.1 1090.5,3745 1093,3747.4 1095.6,3746.2 1098.1,3748 1100.6,3751.6 1103.2,3751.9 1105.7,3752.8 1108.3,3757 1110.8,3755.8 1113.5,3756.7 1116.2,3757.2 1119,3755.9 1121.7,3756 1124.4,3758.1 1127.1,3758.3 1129.9,3759.2 1132.6,3760.5 1135.2,3756.8 1137.8,3753.8 1140.4,3751.5 1143,3749 1145.6,3746.7 1148.2,3746.6 1150.8,3742 1153.3,3743.8 1155.9,3744.1 1158.4,3745 1161,3744.4 1163.5,3745.3 1166,3748 1168.6,3750.2 1171.1,3753.4 1173.7,3750.3 1176.2,3751.6 1178.8,3753.4 1181.5,3755 1184.1,3755 1186.8,3756.1 1189.4,3759.4 1192.1,3760.8 1194.7,3761.5 1197.4,3762.6 1200,3764.6 1202.7,3766.8 1205.3,3767.8 1207.9,3769.9 1210.6,3769.5 1213.2,3773.8 1215.9,3775.5 1218.5,3777.9 1221.2,3779.5 1223.8,3780.2 1226.5,3781.5 1229.1,3786.7 1231.8,3789.3 1234.5,3790.1 1237.2,3795.1 1239.8,3797 1242.5,3801 1245.2,3804.4 1247.8,3807.9 1250.5,3812 1253.2,3814.7 1255.9,3817.4 1258.5,3821.1 1261.2,3823.8 1264,3826.5 1266.7,3830.2 1269.5,3830.7 1272.3,3833.5 1275,3839 1277.8,3842.2 1280.6,3844.7 1283.3,3848.1 1286.1,3849.7 1288.7,3851.4 1291.2,3850.5 1293.8,3850.4 1296.4,3850.9 1299,3854.1 1301.5,3853.6 1304.1,3853.5 1306.7,3852.7 1309.2,3852.2 1311.8,3852.4 1314.4,3856.6 1316.9,3854.7 1319.5,3854.9 1322.1,3854.5 1324.7,3856.7 1327.2,3858.8 1329.8,3858.6 1332.5,3859.8 1335.1,3860.1 1337.8,3861.9 1340.4,3865.8 1343.1,3868.2 1345.7,3868.6 1348.4,3870.2 1351.1,3874.1 1353.7,3876.2 1356.4,3879.8 1359.1,3882.8 1361.8,3885.3 1364.4,3885.8 1367.1,3888.5 1369.6,3892 1372.1,3899.3 1374.6,3903.9 1377.1,3907.9 1379.6,3911.5 1382.2,3912.6 1384.8,3913.2 1387.4,3915.9 1390,3918.5 1392.6,3918.4 1395.2,3920.2" fill="none" stroke="#BD0A2E" stroke-width="2.5" stroke-linejoin="round" stroke-linecap="round"/>
<polyline points="673.7,3243.3 678,3239.7 680.6,3240.5 683.3,3240.7 685.9,3244.1 688.6,3244.8 691.2,3245.1 693.8,3247.2 696.5,3250.2 699.1,3249.8 701.7,3251.9 704.4,3252.6 707,3253.4 709.7,3255.6 712.3,3255.3 715,3257.9 717.6,3257.4 720.3,3258.7 723,3260 725.7,3265.7 728.3,3268.1 731,3267.8 733.8,3271.9 736.5,3274.7 739.3,3274.7 742.1,3277.1 744.8,3279.9 747.6,3284.4 750.4,3285.2 753.1,3286.6 755.9,3289.7 758.5,3292.6 761.1,3293.7 763.7,3293.3 766.3,3296.2 768.9,3295.8 771.5,3296.3 774.1,3297.5 776.7,3299.7 779.3,3303.8 781.9,3302.5 784.5,3304.1 787.1,3304.9 789.7,3304.8 792.3,3306.3 794.9,3307.3 797.5,3307.9 800.1,3310.6 802.7,3312.6 805.2,3313.8 807.8,3315.7 810.4,3316.7 813,3316.1 815.6,3315.6 818.2,3317.4 820.9,3317.3 823.5,3317.7 826.2,3318.4 828.9,3318.9 831.6,3318.6 834.2,3318 836.9,3318.3 839.7,3322.1 842.4,3323.6 845.2,3323.3 848,3325.4 850.7,3327.1 853.5,3328.2 856.3,3330.9 859,3335 861.8,3337.1 864.3,3338.4 866.8,3339.3 869.3,3339.1 871.8,3340 874.3,3342.3 876.8,3340.7 879.3,3341.8 881.8,3345 884.3,3347 886.8,3346.3 889.5,3346.4 892.1,3348.9 894.8,3351.3 897.5,3351.3 900.2,3351.8 902.8,3354.4 905.5,3356.2 908.6,3355.4 911.7,3356.4 914.8,3356.9 916.7,3360 918.2,3450 921.8,3530.8 929.1,3581.7 932,3587.8 934.9,3592.6 937.8,3598.5 940.7,3604.5 943.6,3610.6 946.5,3617.9 949.4,3625.3 952.4,3632.4 955.3,3640.1 958.2,3647.8 960.9,3651.1 963.7,3656.7 966.4,3663.2 969.1,3669.8 971.8,3675.1 974.5,3680.7 977.3,3686.3 980,3690.4 982.6,3692.5 985.2,3695.5 987.8,3697.8 990.3,3699.8 992.9,3701.8 995.5,3704.9 998.1,3705.7 1000.7,3706.6 1003.3,3713.4 1005.9,3717.5 1008.5,3720.9 1011.1,3725.5 1013.7,3730 1016.3,3734.9 1019,3737.3 1021.8,3737.9 1024.5,3737.3 1027.2,3740.2 1029.9,3743 1032.6,3745.2 1035.4,3744.9 1038.1,3745.7 1040.7,3741.8 1043.3,3738.4 1045.9,3735 1048.5,3729.7 1051.1,3725.4 1053.7,3722 1056.3,3719.4 1058.9,3722.9 1061.5,3724.3 1064.1,3724.9 1066.7,3727 1069.3,3729.8 1071.9,3732.5 1074.5,3734.7 1077.2,3735.4 1080,3737.5 1082.7,3737.7 1085.4,3740.2 1088.1,3739.8 1090.8,3739.8 1093.6,3741.7 1096.3,3745.8 1098.9,3746.3 1101.5,3748.8 1104.1,3748.4 1106.7,3749.8 1109.3,3752.2 1111.9,3750.2 1114.4,3751.1 1117,3752.4 1119.6,3756 1122.2,3757.8 1124.8,3758.1 1127.4,3758.8 1130,3761 1132.6,3760.2 1135.2,3761.8 1137.9,3763.3 1140.5,3765.5 1143.1,3767.6 1145.7,3768.2 1148.4,3771.5 1151,3772 1153.6,3775.4 1156.2,3778.4 1158.9,3779.4 1161.5,3779.6 1164,3784.7 1166.5,3793.4 1169,3797.1 1171.5,3803 1174,3808.5 1176.6,3812.6 1179.2,3814.5 1181.8,3817 1184.4,3816.7 1187,3820.4 1189.5,3824.2 1192.1,3826.3 1194.7,3828.2 1197.3,3830.7 1199.9,3833.6 1202.5,3835.5 1205.1,3839.3 1207.9,3838.7 1210.6,3838.5 1213.4,3838.9 1216.2,3838.6 1218.9,3839.4 1221.7,3839.5 1224.5,3839.7 1227.2,3840 1230,3839.6 1232.7,3837.8 1235.4,3838.3 1238.1,3836.9 1240.7,3835.3 1243.4,3833.2 1246.1,3832.6 1248.8,3833.3 1251.6,3836.4 1254.3,3839.5 1257.1,3841 1259.9,3841.8 1262.6,3845 1265.4,3848.1 1268.2,3850.3 1270.9,3851.4 1273.7,3855.2 1276.4,3860.6 1279,3864.6 1281.7,3867.2 1284.4,3871.8 1287.1,3878.5 1289.7,3880.7 1292.4,3885 1295.1,3887.3 1297.7,3891.4 1300.4,3894.6 1303,3896 1305.7,3896.4 1308.3,3899.4 1311,3903.4" fill="none" stroke="#00BEF0" stroke-width="2.5" stroke-linejoin="round" stroke-linecap="round"/>
<polyline points="588.4,3369.2 590.9,3371.5 593.4,3371.8 596,3370.4 598.5,3372.5 601,3374.7 603.5,3374.7 606.1,3376.4 608.6,3377.4 611.1,3380.3 613.6,3380.1 616.2,3381.9 618.7,3381.9 621.2,3381.1 623.8,3381.7 626.3,3383.8 628.8,3385.9 631.5,3387.2 634.1,3388.8 636.8,3389.8 639.5,3391 642.1,3391.9 644.8,3392.4 647.5,3394 650.1,3393.1 652.8,3396.3 655.4,3397 658.1,3396.1 660.8,3398.5 663.4,3401.2 666.1,3401.8 668.8,3403.8 671.4,3404.1 674.1,3404.9 676.8,3405.3 679.5,3405.9 682.1,3406.1 684.8,3406.7 687.5,3409.1 690.1,3412.4 692.8,3412 695.5,3412.9 698.2,3416 700.8,3415.9 703.5,3416.9 706.1,3419.9 708.6,3420.4 711.2,3420.9 713.8,3420.6 716.3,3422.6 718.9,3423.4 721.5,3424.5 724,3426.2 726.6,3426.1 729.1,3427.3 731.7,3429.1 734.3,3431.3 736.8,3434.8 739.4,3432.9 742,3434.4 744.5,3435.7 747.1,3436.8 749.9,3438.3 752.6,3437.7 755.4,3442.4 758.2,3444.8 760.9,3444.4 763.7,3445 766.5,3446 769.2,3448 772,3449.4 774.6,3451.3 777.2,3452.3 779.8,3453.3 782.4,3453.9 785,3453.9 787.6,3459.2 790.2,3460.2 792.8,3459.8 795.4,3462.1 798,3463.6 800.6,3463.3 803.2,3464.4 806,3465 808.7,3465.9 811.5,3468.3 814.3,3469 817,3471.8 819.8,3469.5 822.6,3470.9 825.3,3472.8 828.1,3474.3 832,3478 834,3540 838.1,3600 844.3,3673.6 847,3680.3 849.8,3684.6 852.5,3689.1 855.2,3694.4 857.9,3699.4 860.6,3702.8 863.4,3707.2 866.1,3712.5 868.6,3715.9 871.1,3719.6 873.6,3720.9 876.1,3723.6 878.6,3726.7 881.1,3731.2 883.6,3734.7 886.1,3737.7 888.6,3738.7 891.1,3743.5 893.9,3750 896.6,3753.6 899.4,3757.5 902.2,3761.5 904.9,3767.1 907.7,3771.2 910.5,3776.2 913.2,3783.2 916,3787 918.8,3788.6 921.5,3792.6 924.3,3793.9 927.1,3792.9 929.8,3795.6 932.6,3800.3 935.4,3801.7 938.1,3804.7 940.9,3806.8 943.6,3807.7 946.4,3806.4 949.1,3806.2 951.8,3806.2 954.5,3805.3 957.2,3805.7 960,3807.2 962.7,3808.2 965.2,3803.9 967.7,3800.7 970.2,3793.2 972.7,3789.6 975.2,3785.9 977.9,3787.2 980.6,3790.6 983.3,3789 986,3791.9 988.7,3793.3 991.4,3792.8 994.1,3795.5 996.8,3797.8 999.5,3799.8 1002.1,3801 1004.7,3803 1007.3,3808.3 1009.9,3808 1012.5,3809.5 1015.1,3812.1 1017.7,3813.1 1020.3,3814.7 1022.9,3817.8 1025.5,3819 1028.1,3820.6 1030.7,3823.1 1033.3,3826.8 1035.9,3828.8 1038.5,3830.4 1041.1,3829.5 1043.7,3830.2 1046.2,3832.1 1048.8,3834.8 1051.4,3836.2 1054,3835.2 1056.6,3837.5 1059.2,3838.1 1061.8,3841 1064.4,3844.9 1066.9,3849.8 1069.5,3853.3 1072,3854.9 1074.6,3857.7 1077.1,3859 1079.7,3864.2 1082.2,3867.9 1084.8,3871.8 1087.3,3872.6 1089.9,3876.1 1093,3872.5 1096.1,3869.2 1099.2,3867.3 1101.9,3870.9 1104.5,3877.6 1107.2,3882.7 1109.9,3886.5 1112.6,3888.6 1115.2,3893.3 1117.9,3897.8 1120.7,3896.4 1123.4,3897.8 1126.2,3897.7 1129,3897.8 1131.7,3898.4 1134.5,3897.6 1137.3,3898.5 1140,3899.1 1142.8,3898.5 1145.4,3899.4 1148,3901.4 1150.6,3902.1 1153.2,3902.1 1155.8,3904.8 1158.4,3907.2 1161,3908.1 1163.6,3908.7 1166.2,3908.2 1168.8,3910.6 1171.4,3911.2 1174,3914.2 1176.6,3915.9 1179.2,3918 1181.8,3917.8 1184.4,3921.7 1187,3923.7 1189.5,3924 1192.1,3927.3 1194.7,3929.9 1197.3,3932.1 1199.9,3933.7 1202.5,3935.9 1205.1,3935.1 1207.7,3938.3 1210.2,3940.8 1212.8,3942.6 1215.4,3947.7 1217.9,3950.9 1220.5,3954.5 1223.1,3955.9 1225.6,3957.7 1228.2,3960.7" fill="none" stroke="#59AE1E" stroke-width="2.5" stroke-linejoin="round" stroke-linecap="round"/>
<polyline points="506,3325.9 508.5,3328 511.1,3327.9 513.6,3329.4 516.1,3331.7 518.7,3332.3 521.2,3333.8 523.8,3332.4 526.3,3335.2 528.8,3335.3 531.4,3337.6 533.9,3338.1 536.4,3339.2 539,3341.3 541.5,3342.7 544.1,3346.4 546.8,3345.2 549.4,3345.8 552,3348.9 554.6,3350.7 557.3,3352.8 559.9,3354.6 562.5,3354.1 565.1,3354.5 567.8,3357.7 570.4,3360.2 573,3361.5 575.6,3360.6 578.3,3363.4 580.9,3366.6 583.5,3368.8 586.1,3368.7 588.8,3369.1 591.4,3370.5 594.1,3370.6 596.7,3372.8 599.4,3377.2 602.1,3374.8 604.8,3374.7 607.4,3377.5 610.1,3379.6 612.8,3381.2 615.4,3379.7 618.1,3381.1 620.8,3382.9 623.5,3386.3 626.1,3388 628.8,3387.8 631.5,3389.6 634.1,3390.3 636.8,3391.8 639.5,3391.3 642.1,3392.5 644.8,3395.5 647.5,3395.1 650.1,3395.2 652.8,3396.3 655.4,3398.7 658.1,3399.6 660.8,3400.9 663.4,3399.7 666.1,3402.9 668.8,3404 671.4,3405.6 674.1,3405.3 676.8,3406.6 679.5,3409.7 682.1,3409 684.8,3409.6 687.5,3411.6 690.1,3412.9 692.8,3413.8 695.5,3413.8 698.2,3416.5 700.8,3417.3 703.5,3419.1 706.1,3421.1 708.6,3421.9 711.2,3420.8 713.8,3422.8 716.3,3423.9 718.9,3423.9 721.5,3426.3 724,3428.5 726.6,3425.5 729.1,3429.1 731.7,3430.6 734.3,3433 736.8,3434.3 739.4,3434 742,3431.6 744.5,3433.4 747.1,3435.3 750.2,3437 752,3520 754,3600 760.2,3655.6 762.7,3662.2 765.2,3668.1 767.7,3674.8 770.2,3682 772.7,3687 775.4,3692.4 778,3697.7 780.7,3703.2 783.4,3710.6 786.1,3713.3 788.7,3718.7 791.4,3723.8 794.1,3730.8 796.7,3737.7 799.4,3743.2 802.1,3749 804.8,3754.2 807.4,3761.5 810.1,3768 812.8,3772 815.4,3777.9 818.1,3782.9 820.8,3786.5 823.5,3792.1 826.1,3797.2 828.8,3800 831.6,3803.5 834.3,3805.2 837.1,3807.3 839.9,3810.1 842.6,3813 845.4,3816.3 848.2,3817.8 850.9,3821.8 853.7,3824.9 856.3,3825.4 858.9,3823.9 861.5,3821.3 864.1,3820.9 866.7,3818.6 869.3,3816.9 871.8,3817.1 874.4,3816.4 877,3814.7 879.6,3814.3 882.2,3811.9 884.8,3811.4 887.4,3810.8 890.2,3811.7 892.9,3814.4 895.7,3815.2 898.5,3815.6 901.2,3815.3 904,3814.6 906.8,3815.6 909.5,3815.5 912.3,3817.4 914.9,3820.5 917.5,3821.2 920.2,3819.5 922.8,3822 925.4,3823 928,3825.4 930.6,3826.7 933.3,3827.5 935.9,3827.8 938.5,3830.3 941.1,3831.1 943.8,3834.9 946.4,3836.4 949,3836.5 951.6,3836.6 954.2,3836.9 956.9,3839.3 959.5,3842.2 962.1,3842.4 964.7,3843.4 967.3,3846 969.9,3847.4 972.5,3848.6 975.1,3852.1 977.7,3852.8 980.3,3855.8 982.9,3858.2 985.5,3859.9 988.1,3862.8 990.7,3866.6 993.3,3867.6 996,3869.5 998.6,3872.4 1001.3,3874 1004,3875.9 1006.7,3878.3 1009.3,3882.1 1012,3883.9 1014.5,3888.1 1017,3891.1 1019.5,3894.7 1022,3901.5 1024.5,3904.3 1027.3,3906.1 1030,3909.5 1032.8,3910.1 1035.6,3912.7 1038.3,3912.3 1041.1,3916.6 1043.9,3918.6 1046.6,3918.5 1049.4,3922.4 1052,3923.6 1054.6,3924.1 1057.2,3924.5 1059.8,3923 1062.4,3921.8 1065,3925.4 1067.5,3925.8 1070.1,3926.5 1072.7,3924.1 1075.3,3925.6 1077.9,3927.6 1080.5,3927.3 1083,3928.2 1085.5,3930.1 1088,3931.6 1090.5,3933 1093,3935.1 1095.5,3935.9 1098,3939.1 1100.5,3942 1103,3942.8 1105.5,3945.5 1108.2,3949.2 1110.8,3952.9 1113.5,3957.3 1116.1,3958.8 1118.8,3960.8 1121.4,3963.5 1124.1,3967.1 1126.6,3970.1 1129.1,3972.4 1131.6,3973.3 1134.1,3977.1 1136.6,3979.4 1139.1,3981.6 1141.6,3984.3 1144.1,3988.7" fill="none" stroke="#8B2A8F" stroke-width="2.5" stroke-linejoin="round" stroke-linecap="round"/>
<polyline points="421.5,3338.7 424.1,3342.1 426.7,3342.1 429.3,3342.4 431.9,3341.4 434.5,3343.1 437,3343.7 439.6,3347.5 442.2,3350.3 444.8,3348.5 447.4,3349.1 450,3351.6 452.7,3353.6 455.3,3355.9 458,3357.6 460.6,3356.3 463.3,3358.5 465.9,3358.8 468.6,3361.8 471.2,3364.6 473.9,3365.8 476.5,3366.9 479.2,3368.2 482,3368.6 484.7,3371.3 487.5,3374.7 490.3,3375.1 493,3374.9 495.8,3378.3 498.6,3379 501.3,3379.3 504.1,3383 506.8,3385 509.4,3385.2 512.1,3386.8 514.8,3389.7 517.5,3390.2 520.1,3391.2 522.8,3392.6 525.5,3393.2 528.1,3395.4 530.8,3397.8 533.5,3398.1 536.2,3398.3 538.8,3400.5 541.5,3402.6 544.2,3403.2 546.8,3403.9 549.5,3404.3 552.2,3407.5 554.9,3406.5 557.5,3407.6 560.2,3410.4 562.9,3412.1 565.5,3411.1 568.2,3410.2 570.9,3411.8 573.6,3413.2 576.2,3412.5 578.9,3413.9 581.7,3415.9 584.4,3419.5 587.2,3421.5 590,3420.4 592.7,3423.3 595.5,3424.9 598.3,3427.1 601,3428.6 603.8,3430.9 606.4,3432 609,3432.3 611.6,3433.6 614.2,3435.7 616.8,3436.3 619.4,3437 622,3437.7 624.6,3440.4 627.2,3440.8 629.8,3440.8 632.4,3441.8 635,3443.2 637.7,3443.3 640.3,3444.2 643,3444.7 645.7,3447.2 648.3,3447.7 651,3449.1 653.6,3452.6 656.3,3453.9 659,3453.8 661.6,3453.2 664.3,3456 666,3460 671,3560 673,3620 676.1,3662.1 679.2,3653.4 682.3,3646.7 691.7,3680.2 694.4,3683.6 697,3691.6 699.7,3695.6 702.4,3696.9 705.1,3704.5 707.7,3709.8 710.4,3711.6 713.2,3716.6 715.9,3719.9 718.7,3722.3 721.5,3729.6 724.2,3733.2 727,3735 729.8,3742 732.5,3745.6 735.3,3749 737.8,3755.5 740.3,3762 742.8,3767.5 745.3,3775.2 747.8,3781.4 750.4,3780.7 753,3783.1 755.6,3784.3 758.2,3788.6 760.8,3790.8 763.3,3790.7 765.9,3789.4 768.5,3791 771.1,3794.8 773.7,3794.3 776.3,3797.3 778.9,3798.9 781.7,3796.2 784.4,3796.3 787.2,3796.3 790,3793.7 792.7,3792.2 795.5,3790.8 798.3,3787 801,3784.5 803.8,3782.8 806.4,3782 809,3781.9 811.6,3780.6 814.2,3778.6 816.8,3779.6 819.4,3778.5 822.1,3783.2 824.9,3785.5 827.6,3787.9 830.3,3788.7 833,3792.7 835.8,3794.3 838.5,3795.8 841.2,3799.3 843.8,3800.2 846.4,3803 849,3803.5 851.6,3805.3 854.2,3805.7 856.8,3807.7 859.3,3808.9 861.9,3808.6 864.5,3812.1 867.1,3813.5 869.7,3814.1 872.3,3817.2 874.9,3818 877.6,3818.9 880.2,3820.1 882.9,3822.5 885.6,3824.7 888.3,3827.4 890.9,3829.7 893.6,3831.8 896.3,3830.2 898.9,3832.4 901.6,3836.1 904.3,3838.3 907,3839.4 909.6,3841.4 912.3,3841.6 915,3842.6 917.6,3846.3 920.3,3849 923,3852.3 925.7,3856.4 928.3,3857.6 931,3860.4 933.8,3862.4 936.5,3867.1 939.3,3869.3 942.1,3870.1 944.8,3871.3 947.6,3874.4 950.4,3879.7 953.1,3882.2 955.9,3882.3 958.5,3881.7 961.1,3884.3 963.7,3886.3 966.3,3887.4 968.9,3886.3 971.5,3885.3 974.1,3889.9 976.7,3887.8 979.3,3888.3 981.9,3889.5 984.5,3889.6 987.1,3891.6 989.9,3895.4 992.6,3896.2 995.4,3898.2 998.2,3900.6 1000.9,3900.6 1003.7,3903.1 1006.5,3908 1009.2,3911.2 1012,3911.8 1014.7,3913.7 1017.3,3914.1 1020,3916.9 1022.7,3918.9 1025.4,3920.3 1028,3921.6 1030.7,3923.8 1033.8,3926.1 1036.9,3930.3 1040,3933.7 1043.1,3937.8 1045.6,3940 1048.1,3943.4 1050.6,3944.2 1053.1,3945.4 1055.6,3947.6 1058.1,3948.5 1060.6,3949.5" fill="none" stroke="#FFB000" stroke-width="2.5" stroke-linejoin="round" stroke-linecap="round"/>
<polyline points="337.8,3295.5 340.6,3298.2 343.4,3299.7 346.2,3298.1 349,3301.5 351.8,3304.4 354.6,3306.3 357.4,3307.9 360.1,3308.6 362.9,3308.8 365.7,3310.4 368.4,3312.1 371.2,3316.3 374,3316.3 376.7,3317.5 379.5,3319.4 382.1,3319.1 384.7,3320.7 387.3,3321.1 389.9,3323.4 392.5,3324 395.1,3325.4 397.7,3324.6 400.3,3326.4 402.9,3327.4 405.5,3327.4 408.1,3329.6 410.7,3332.2 413.8,3334.7 416.9,3337.1 420,3337.9 423.1,3344 425.8,3346.3 428.5,3347.1 431.2,3347 433.9,3348.6 436.6,3349.9 439.2,3352.3 441.9,3354.6 444.6,3354.9 447.3,3356.4 450,3357.4 452.7,3359.9 455.3,3359.5 458,3361.3 460.6,3360.7 463.3,3363.2 465.9,3364.4 468.6,3365.9 471.2,3366.4 473.9,3367.1 476.5,3369.5 479.2,3371.2 482,3372.3 484.7,3374.9 487.5,3377.1 490.3,3379 493,3379.1 495.8,3381.8 498.6,3382.2 501.3,3380.7 504.1,3384.2 506.7,3385.8 509.3,3384.5 511.9,3385.9 514.5,3388 517.1,3389.3 519.7,3390 522.3,3390.9 524.9,3391.2 527.5,3394.2 530.1,3395.4 532.7,3393.5 535.3,3395.8 538,3395.6 540.8,3397.1 543.5,3397.9 546.3,3399.2 549,3401.1 551.8,3404.6 554.5,3405.7 557.3,3406.9 560,3407.8 562.8,3408.7 565.5,3410.4 568.2,3409.6 571,3410.2 573.8,3412.4 576.5,3415.7 579.2,3418 582,3418.7 583.9,3421.3 588.3,3530.4 591.4,3600 595.1,3615.5 598.2,3622.7 601.4,3629.2 604.5,3636.4 607.6,3642.1 610.7,3647.8 613.8,3655 616.9,3661.7 619.4,3669.6 621.9,3677.5 624.4,3682.2 626.9,3689.5 629.4,3693.6 632.1,3698.8 634.7,3702.4 637.4,3708.6 640.1,3713 642.8,3715.6 645.4,3721.7 648.1,3725 650.8,3728.4 653.4,3737.4 656.1,3742.3 658.8,3746.6 661.5,3753.3 664.1,3757.5 666.8,3762.5 669.9,3767.9 673,3772.3 676.1,3775.5 679.2,3780.4 681.9,3780.2 684.6,3782 687.3,3783 689.9,3785.3 692.6,3786.2 695.3,3785.7 698,3786 701.1,3788.6 704.2,3791.2 707.3,3793.7 710.4,3797.6 713.2,3795.6 715.9,3793.1 718.7,3791.8 721.5,3789.6 724.2,3786.9 727,3783.9 729.8,3781.6 732.5,3780.1 735.3,3777.6 738,3777.9 740.6,3780 743.3,3779.7 746,3781.6 748.7,3783.5 751.3,3785.7 754,3787.6 757.1,3791.7 760.2,3792 763.3,3795.9 766.4,3800.2 768.9,3801.6 771.4,3799.9 773.9,3799.7 776.4,3800.4 778.9,3802.4 781.4,3804.4 783.9,3805.8 786.4,3804 788.9,3804.7 791.4,3805 794.2,3807 796.9,3808.8 799.7,3808 802.5,3810.8 805.2,3812.6 808,3814.5 810.8,3816.2 813.5,3818.8 816.3,3821.7 819,3824 821.6,3825.8 824.3,3829.9 827,3832.5 829.7,3836.3 832.3,3839.4 835,3842.7 837.7,3845.8 840.3,3850.6 843,3851 845.7,3853.9 848.4,3857 851,3861.5 853.7,3862.6 856.2,3865.2 858.7,3868.3 861.2,3870.7 863.7,3872.2 866.2,3875.8 868.7,3880.5 871.3,3881.9 873.9,3881.4 876.5,3882.4 879.1,3884.8 881.7,3883.4 884.2,3882.8 886.8,3886.1 889.4,3887 892,3887.2 894.6,3885.3 897.2,3887.8 899.8,3888.8 902.4,3887.9 904.9,3890.9 907.5,3891.8 910.1,3893 912.7,3892.3 915.2,3893.4 917.8,3894.1 920.4,3895.5 922.9,3898.2 925.5,3898.5 928.1,3898.6 930.6,3899.3 933.2,3901.7 935.8,3901.3 938.4,3902.4 940.9,3902.3 943.5,3904.4 946.2,3909.3 948.8,3911.8 951.5,3916.6 954.1,3920.5 956.8,3924.4 959.4,3927.4 962.1,3930.6 964.7,3933.6 967.3,3936.1 969.9,3939 972.5,3941.2 975.1,3945.3 977.7,3947" fill="none" stroke="#FF5309" stroke-width="2.5" stroke-linejoin="round" stroke-linecap="round"/>
<polyline points="254.9,3327.8 257.6,3329.8 260.2,3330.8 262.9,3332.9 265.6,3336.8 268.3,3339.6 270.9,3342.6 273.6,3344.3 276.3,3346.6 278.9,3347.4 281.6,3346 284.3,3346.5 287,3348.8 289.6,3350.5 292.3,3350.5 294.9,3351 297.5,3349.9 300.2,3351.5 302.8,3356.3 305.4,3355.3 308,3357.1 310.6,3359.2 313.3,3358.6 315.9,3358.8 318.5,3362.1 321.1,3364.1 323.8,3364.7 326.4,3364.3 329,3366.9 331.6,3366.5 334.2,3366.9 336.9,3368.4 339.5,3371.2 342.1,3372.6 344.7,3373.7 347.2,3374.4 349.8,3374.9 352.4,3378.8 355,3380.1 357.5,3382.3 360.1,3383.9 362.7,3383.8 365.2,3385.7 367.8,3387.5 370.4,3389 372.9,3390.6 375.5,3392.6 378.1,3394 380.7,3396.1 383.2,3396.5 385.8,3398.8 388.4,3398.6 391,3402.3 393.6,3404 396.2,3403.2 398.8,3406.1 401.4,3408.3 403.9,3409.9 406.5,3410 409.1,3411.8 411.7,3410.1 414.3,3412.8 416.9,3414.8 419.5,3416.6 422,3415.1 424.6,3416.6 427.2,3418.7 429.7,3417.8 432.3,3419.4 434.9,3419.4 437.4,3420 440,3420.4 442.8,3421.6 445.6,3422.1 448.4,3423.1 451.2,3425.2 455,3417.3 457.5,3422.1 460,3428.4 462.7,3430.8 465.5,3430.9 468.2,3430.9 471,3432.1 473.7,3434.5 476.5,3437.5 479.2,3436.5 481.7,3438 484.2,3441.3 486.7,3441.8 489.2,3442.8 491.7,3441.9 494.2,3445.9 496.7,3446.1 499.2,3448.1 501,3455.6 504.1,3549 507.9,3600 511,3631.5 513.5,3638.9 516,3642.9 518.5,3649.6 521,3654.2 523.5,3661.8 526.2,3668.5 528.8,3676.1 531.5,3682.3 534.1,3692.7 536.8,3698 539.4,3706.7 542.1,3712 544.8,3717.9 547.4,3724.1 550.1,3730.2 552.8,3735.1 555.5,3740.3 558.1,3743.5 560.8,3749.1 563.5,3754.3 566.1,3760.5 568.8,3764.6 571.5,3767.4 574.2,3772.7 576.8,3777.1 579.5,3781.2 582.6,3790.6 585.8,3799.8 588.9,3807.9 591.9,3808.7 595,3809.6 598,3810.6 600.5,3813.3 603.1,3813.6 605.6,3814.4 608.2,3814.2 610.7,3814.6 613.3,3815.9 615.9,3818.1 618.5,3820 621.1,3823.7 623.7,3824.9 626.3,3827.2 629,3826 631.8,3820.9 634.5,3818.4 637.2,3816.2 639.9,3812.8 642.6,3809.2 645.4,3808 648.1,3805.2 650.8,3805.1 653.4,3805.4 656.1,3807.6 658.8,3810.2 661.5,3811 664.1,3812.3 666.8,3812 669.5,3812.5 672.1,3815.4 674.8,3819.3 677.5,3821.6 680.2,3824.1 682.8,3826.8 685.5,3831.5 688.3,3830.1 691,3830.6 693.8,3834 696.6,3834.4 699.3,3834.2 702.1,3835.5 704.9,3836 707.6,3837 710.4,3839.2 713.2,3841 715.9,3844 718.7,3844.3 721.5,3843.5 724.2,3843.4 727,3845.6 729.8,3847.5 732.5,3848.2 735.3,3848.7 738.1,3852.8 740.8,3857.4 743.6,3863.2 746.4,3866.4 749.1,3869.1 751.9,3871.7 754.7,3875 757.4,3877.2 760.2,3882.8 763,3885.1 765.7,3889.3 768.5,3891.1 771.3,3894.6 774,3897.5 776.8,3898.1 779.6,3902.1 782.3,3903.9 785.1,3905.5 787.6,3904.4 790.1,3905.9 792.6,3908 795.1,3909 797.6,3909.5 800.1,3913.5 802.6,3912.4 805.1,3911.8 807.6,3912.6 810.1,3914.6 812.9,3914.9 815.6,3914.3 818.4,3913.5 821.2,3913.7 823.9,3916 826.7,3912.9 829.5,3911.9 832.2,3914.8 835,3914.2 837.7,3917.1 840.3,3920.5 843,3923 845.7,3925.4 848.4,3931 851,3934.9 853.7,3936.2 856.4,3937.9 859,3942.2 861.7,3945.9 864.4,3950.9 867.1,3952.3 869.7,3954.4 872.4,3958.9 875.1,3959.7 877.9,3961.5 880.6,3962.9 883.3,3962.9 886,3964.4 888.8,3966.6 891.5,3964 894.2,3966.4" fill="none" stroke="#0072BD" stroke-width="2.5" stroke-linejoin="round" stroke-linecap="round"/>
<line x1="197.9" y1="867.2" x2="197.9" y2="247.6" stroke="#141414" stroke-width="2.1"/>
<line x1="197.9" y1="867.2" x2="813.5" y2="1151.2" stroke="#141414" stroke-width="2.1"/>
<line x1="813.5" y1="1151.2" x2="1616.7" y2="932.7" stroke="#141414" stroke-width="2.1"/>
<line x1="197.9" y1="867.2" x2="178.4" y2="858.2" stroke="#141414" stroke-width="2.1"/>
<line x1="197.9" y1="712.3" x2="178.4" y2="703.3" stroke="#141414" stroke-width="2.1"/>
<line x1="197.9" y1="557.4" x2="178.4" y2="548.4" stroke="#141414" stroke-width="2.1"/>
<line x1="197.9" y1="402.5" x2="178.4" y2="393.5" stroke="#141414" stroke-width="2.1"/>
<line x1="197.9" y1="247.6" x2="178.4" y2="238.6" stroke="#141414" stroke-width="2.1"/>
<line x1="197.9" y1="867.2" x2="177.2" y2="872.8" stroke="#141414" stroke-width="2.1"/>
<line x1="351.8" y1="938.2" x2="331.1" y2="943.8" stroke="#141414" stroke-width="2.1"/>
<line x1="505.7" y1="1009.2" x2="485" y2="1014.8" stroke="#141414" stroke-width="2.1"/>
<line x1="659.6" y1="1080.2" x2="638.9" y2="1085.8" stroke="#141414" stroke-width="2.1"/>
<line x1="813.5" y1="1151.2" x2="792.8" y2="1156.8" stroke="#141414" stroke-width="2.1"/>
<line x1="893.8" y1="1129.3" x2="913.3" y2="1138.4" stroke="#141414" stroke-width="2.1"/>
<line x1="974.1" y1="1107.5" x2="993.7" y2="1116.5" stroke="#141414" stroke-width="2.1"/>
<line x1="1054.5" y1="1085.7" x2="1074" y2="1094.7" stroke="#141414" stroke-width="2.1"/>
<line x1="1134.8" y1="1063.8" x2="1154.3" y2="1072.8" stroke="#141414" stroke-width="2.1"/>
<line x1="1215.1" y1="1042" x2="1234.6" y2="1051" stroke="#141414" stroke-width="2.1"/>
<line x1="1295.4" y1="1020.1" x2="1314.9" y2="1029.1" stroke="#141414" stroke-width="2.1"/>
<line x1="1375.7" y1="998.2" x2="1395.3" y2="1007.3" stroke="#141414" stroke-width="2.1"/>
<line x1="1456.1" y1="976.4" x2="1475.6" y2="985.4" stroke="#141414" stroke-width="2.1"/>
<line x1="1536.4" y1="954.6" x2="1555.9" y2="963.6" stroke="#141414" stroke-width="2.1"/>
<text x="162.9" y="869.4" font-size="43.3" font-family='"Liberation Sans", Arial, sans-serif' text-anchor="end" fill="#141414">10</text>
<text x="84" y="869.4" font-size="43.3" font-family='"Liberation Sans", Arial, sans-serif' text-anchor="start" fill="#141414" textLength="27.0" lengthAdjust="spacingAndGlyphs">−</text>
<text x="162.9" y="714.5" font-size="43.3" font-family='"Liberation Sans", Arial, sans-serif' text-anchor="end" fill="#141414">0</text>
<text x="162.9" y="559.6" font-size="43.3" font-family='"Liberation Sans", Arial, sans-serif' text-anchor="end" fill="#141414">10</text>
<text x="162.9" y="404.7" font-size="43.3" font-family='"Liberation Sans", Arial, sans-serif' text-anchor="end" fill="#141414">20</text>
<text x="162.9" y="249.8" font-size="43.3" font-family='"Liberation Sans", Arial, sans-serif' text-anchor="end" fill="#141414">30</text>
<text x="160.9" y="921.2" font-size="43.3" font-family='"Liberation Sans", Arial, sans-serif' text-anchor="end" fill="#141414">16:40</text>
<text x="314.8" y="992.2" font-size="43.3" font-family='"Liberation Sans", Arial, sans-serif' text-anchor="end" fill="#141414">16:55</text>
<text x="468.7" y="1063.2" font-size="43.3" font-family='"Liberation Sans", Arial, sans-serif' text-anchor="end" fill="#141414">17:10</text>
<text x="622.6" y="1134.2" font-size="43.3" font-family='"Liberation Sans", Arial, sans-serif' text-anchor="end" fill="#141414">17:25</text>
<text x="776.5" y="1205.2" font-size="43.3" font-family='"Liberation Sans", Arial, sans-serif' text-anchor="end" fill="#141414">17:40</text>
<text x="927.8" y="1188.3" font-size="43.3" font-family='"Liberation Sans", Arial, sans-serif' text-anchor="start" fill="#141414">8</text>
<text x="1008.1" y="1166.5" font-size="43.3" font-family='"Liberation Sans", Arial, sans-serif' text-anchor="start" fill="#141414">16</text>
<text x="1088.5" y="1144.7" font-size="43.3" font-family='"Liberation Sans", Arial, sans-serif' text-anchor="start" fill="#141414">32</text>
<text x="1168.8" y="1122.8" font-size="43.3" font-family='"Liberation Sans", Arial, sans-serif' text-anchor="start" fill="#141414">47</text>
<text x="1249.1" y="1101" font-size="43.3" font-family='"Liberation Sans", Arial, sans-serif' text-anchor="start" fill="#141414">64</text>
<text x="1329.4" y="1079.1" font-size="43.3" font-family='"Liberation Sans", Arial, sans-serif' text-anchor="start" fill="#141414">80</text>
<text x="1409.7" y="1057.2" font-size="43.3" font-family='"Liberation Sans", Arial, sans-serif' text-anchor="start" fill="#141414">140</text>
<text x="1490.1" y="1035.4" font-size="43.3" font-family='"Liberation Sans", Arial, sans-serif' text-anchor="start" fill="#141414">200</text>
<text x="1570.4" y="1013.6" font-size="43.3" font-family='"Liberation Sans", Arial, sans-serif' text-anchor="start" fill="#141414">280</text>
<line x1="198.2" y1="2378.8" x2="198.2" y2="1764.9" stroke="#141414" stroke-width="2.1"/>
<line x1="198.2" y1="2378.8" x2="809.8" y2="2660" stroke="#141414" stroke-width="2.1"/>
<line x1="809.8" y1="2660" x2="1608.6" y2="2445.7" stroke="#141414" stroke-width="2.1"/>
<line x1="198.2" y1="2378.8" x2="178.7" y2="2369.8" stroke="#141414" stroke-width="2.1"/>
<line x1="198.2" y1="2240.7" x2="178.7" y2="2231.7" stroke="#141414" stroke-width="2.1"/>
<line x1="198.2" y1="2102.6" x2="178.7" y2="2093.6" stroke="#141414" stroke-width="2.1"/>
<line x1="198.2" y1="1964.4" x2="178.7" y2="1955.4" stroke="#141414" stroke-width="2.1"/>
<line x1="198.2" y1="1826.3" x2="178.7" y2="1817.3" stroke="#141414" stroke-width="2.1"/>
<line x1="198.2" y1="2378.8" x2="177.4" y2="2384.4" stroke="#141414" stroke-width="2.1"/>
<line x1="351.1" y1="2449.1" x2="330.3" y2="2454.7" stroke="#141414" stroke-width="2.1"/>
<line x1="504" y1="2519.4" x2="483.2" y2="2525" stroke="#141414" stroke-width="2.1"/>
<line x1="656.9" y1="2589.7" x2="636.1" y2="2595.3" stroke="#141414" stroke-width="2.1"/>
<line x1="809.8" y1="2660" x2="789" y2="2665.6" stroke="#141414" stroke-width="2.1"/>
<line x1="889.7" y1="2638.6" x2="909.2" y2="2647.6" stroke="#141414" stroke-width="2.1"/>
<line x1="969.6" y1="2617.1" x2="989.1" y2="2626.1" stroke="#141414" stroke-width="2.1"/>
<line x1="1049.4" y1="2595.7" x2="1069" y2="2604.7" stroke="#141414" stroke-width="2.1"/>
<line x1="1129.3" y1="2574.3" x2="1148.9" y2="2583.3" stroke="#141414" stroke-width="2.1"/>
<line x1="1209.2" y1="2552.8" x2="1228.7" y2="2561.8" stroke="#141414" stroke-width="2.1"/>
<line x1="1289.1" y1="2531.4" x2="1308.6" y2="2540.4" stroke="#141414" stroke-width="2.1"/>
<line x1="1369" y1="2510" x2="1388.5" y2="2519" stroke="#141414" stroke-width="2.1"/>
<line x1="1448.8" y1="2488.6" x2="1468.4" y2="2497.5" stroke="#141414" stroke-width="2.1"/>
<line x1="1528.7" y1="2467.1" x2="1548.3" y2="2476.1" stroke="#141414" stroke-width="2.1"/>
<text x="164.2" y="2380.3" font-size="43.8" font-family='"Liberation Sans", Arial, sans-serif' text-anchor="end" fill="#141414">0</text>
<text x="164.2" y="2242.2" font-size="43.8" font-family='"Liberation Sans", Arial, sans-serif' text-anchor="end" fill="#141414">90</text>
<text x="164.2" y="2104.1" font-size="43.8" font-family='"Liberation Sans", Arial, sans-serif' text-anchor="end" fill="#141414">180</text>
<text x="164.2" y="1965.9" font-size="43.8" font-family='"Liberation Sans", Arial, sans-serif' text-anchor="end" fill="#141414">270</text>
<text x="164.2" y="1827.8" font-size="43.8" font-family='"Liberation Sans", Arial, sans-serif' text-anchor="end" fill="#141414">360</text>
<text x="161.7" y="2432.8" font-size="43.8" font-family='"Liberation Sans", Arial, sans-serif' text-anchor="end" fill="#141414">16:40</text>
<text x="314.6" y="2503.1" font-size="43.8" font-family='"Liberation Sans", Arial, sans-serif' text-anchor="end" fill="#141414">16:55</text>
<text x="467.5" y="2573.4" font-size="43.8" font-family='"Liberation Sans", Arial, sans-serif' text-anchor="end" fill="#141414">17:10</text>
<text x="620.4" y="2643.7" font-size="43.8" font-family='"Liberation Sans", Arial, sans-serif' text-anchor="end" fill="#141414">17:25</text>
<text x="773.3" y="2714" font-size="43.8" font-family='"Liberation Sans", Arial, sans-serif' text-anchor="end" fill="#141414">17:40</text>
<text x="923.7" y="2697.6" font-size="43.8" font-family='"Liberation Sans", Arial, sans-serif' text-anchor="start" fill="#141414">8</text>
<text x="1003.6" y="2676.1" font-size="43.8" font-family='"Liberation Sans", Arial, sans-serif' text-anchor="start" fill="#141414">16</text>
<text x="1083.4" y="2654.7" font-size="43.8" font-family='"Liberation Sans", Arial, sans-serif' text-anchor="start" fill="#141414">32</text>
<text x="1163.3" y="2633.3" font-size="43.8" font-family='"Liberation Sans", Arial, sans-serif' text-anchor="start" fill="#141414">47</text>
<text x="1243.2" y="2611.8" font-size="43.8" font-family='"Liberation Sans", Arial, sans-serif' text-anchor="start" fill="#141414">64</text>
<text x="1323.1" y="2590.4" font-size="43.8" font-family='"Liberation Sans", Arial, sans-serif' text-anchor="start" fill="#141414">80</text>
<text x="1403" y="2569" font-size="43.8" font-family='"Liberation Sans", Arial, sans-serif' text-anchor="start" fill="#141414">140</text>
<text x="1482.8" y="2547.6" font-size="43.8" font-family='"Liberation Sans", Arial, sans-serif' text-anchor="start" fill="#141414">200</text>
<text x="1562.7" y="2526.1" font-size="43.8" font-family='"Liberation Sans", Arial, sans-serif' text-anchor="start" fill="#141414">280</text>
<line x1="171.2" y1="3934.9" x2="171.2" y2="3291.3" stroke="#141414" stroke-width="2.1"/>
<line x1="171.2" y1="3934.9" x2="812" y2="4229.5" stroke="#141414" stroke-width="2.1"/>
<line x1="812" y1="4229.5" x2="1646.4" y2="4003.9" stroke="#141414" stroke-width="2.1"/>
<line x1="171.2" y1="3934.9" x2="151.7" y2="3925.9" stroke="#141414" stroke-width="2.1"/>
<line x1="171.2" y1="3774" x2="151.7" y2="3765" stroke="#141414" stroke-width="2.1"/>
<line x1="171.2" y1="3613.1" x2="151.7" y2="3604.1" stroke="#141414" stroke-width="2.1"/>
<line x1="171.2" y1="3452.2" x2="151.7" y2="3443.2" stroke="#141414" stroke-width="2.1"/>
<line x1="171.2" y1="3291.3" x2="151.7" y2="3282.3" stroke="#141414" stroke-width="2.1"/>
<line x1="171.2" y1="3934.9" x2="150.4" y2="3940.5" stroke="#141414" stroke-width="2.1"/>
<line x1="331.4" y1="4008.6" x2="310.6" y2="4014.2" stroke="#141414" stroke-width="2.1"/>
<line x1="491.6" y1="4082.2" x2="470.8" y2="4087.8" stroke="#141414" stroke-width="2.1"/>
<line x1="651.8" y1="4155.9" x2="631" y2="4161.5" stroke="#141414" stroke-width="2.1"/>
<line x1="812" y1="4229.5" x2="791.2" y2="4235.1" stroke="#141414" stroke-width="2.1"/>
<line x1="895.4" y1="4206.9" x2="915" y2="4215.9" stroke="#141414" stroke-width="2.1"/>
<line x1="978.9" y1="4184.4" x2="998.4" y2="4193.4" stroke="#141414" stroke-width="2.1"/>
<line x1="1062.3" y1="4161.8" x2="1081.9" y2="4170.8" stroke="#141414" stroke-width="2.1"/>
<line x1="1145.8" y1="4139.3" x2="1165.3" y2="4148.2" stroke="#141414" stroke-width="2.1"/>
<line x1="1229.2" y1="4116.7" x2="1248.7" y2="4125.7" stroke="#141414" stroke-width="2.1"/>
<line x1="1312.6" y1="4094.1" x2="1332.2" y2="4103.1" stroke="#141414" stroke-width="2.1"/>
<line x1="1396.1" y1="4071.6" x2="1415.6" y2="4080.6" stroke="#141414" stroke-width="2.1"/>
<line x1="1479.5" y1="4049" x2="1499.1" y2="4058" stroke="#141414" stroke-width="2.1"/>
<line x1="1563" y1="4026.5" x2="1582.5" y2="4035.4" stroke="#141414" stroke-width="2.1"/>
<text x="134.7" y="3937.1" font-size="45.5" font-family='"Liberation Sans", Arial, sans-serif' text-anchor="end" fill="#141414">20</text>
<text x="134.7" y="3776.2" font-size="45.5" font-family='"Liberation Sans", Arial, sans-serif' text-anchor="end" fill="#141414">25</text>
<text x="134.7" y="3615.3" font-size="45.5" font-family='"Liberation Sans", Arial, sans-serif' text-anchor="end" fill="#141414">30</text>
<text x="134.7" y="3454.4" font-size="45.5" font-family='"Liberation Sans", Arial, sans-serif' text-anchor="end" fill="#141414">35</text>
<text x="134.7" y="3293.5" font-size="45.5" font-family='"Liberation Sans", Arial, sans-serif' text-anchor="end" fill="#141414">40</text>
<text x="133.2" y="3991.4" font-size="45.5" font-family='"Liberation Sans", Arial, sans-serif' text-anchor="end" fill="#141414">16:40</text>
<text x="293.4" y="4065.1" font-size="45.5" font-family='"Liberation Sans", Arial, sans-serif' text-anchor="end" fill="#141414">16:55</text>
<text x="453.6" y="4138.7" font-size="45.5" font-family='"Liberation Sans", Arial, sans-serif' text-anchor="end" fill="#141414">17:10</text>
<text x="613.8" y="4212.4" font-size="45.5" font-family='"Liberation Sans", Arial, sans-serif' text-anchor="end" fill="#141414">17:25</text>
<text x="774" y="4286" font-size="45.5" font-family='"Liberation Sans", Arial, sans-serif' text-anchor="end" fill="#141414">17:40</text>
<text x="930.4" y="4268.9" font-size="45.5" font-family='"Liberation Sans", Arial, sans-serif' text-anchor="start" fill="#141414">8</text>
<text x="1013.9" y="4246.4" font-size="45.5" font-family='"Liberation Sans", Arial, sans-serif' text-anchor="start" fill="#141414">16</text>
<text x="1097.3" y="4223.8" font-size="45.5" font-family='"Liberation Sans", Arial, sans-serif' text-anchor="start" fill="#141414">32</text>
<text x="1180.8" y="4201.3" font-size="45.5" font-family='"Liberation Sans", Arial, sans-serif' text-anchor="start" fill="#141414">47</text>
<text x="1264.2" y="4178.7" font-size="45.5" font-family='"Liberation Sans", Arial, sans-serif' text-anchor="start" fill="#141414">64</text>
<text x="1347.6" y="4156.1" font-size="45.5" font-family='"Liberation Sans", Arial, sans-serif' text-anchor="start" fill="#141414">80</text>
<text x="1431.1" y="4133.6" font-size="45.5" font-family='"Liberation Sans", Arial, sans-serif' text-anchor="start" fill="#141414">140</text>
<text x="1514.5" y="4111" font-size="45.5" font-family='"Liberation Sans", Arial, sans-serif' text-anchor="start" fill="#141414">200</text>
<text x="1598" y="4088.5" font-size="45.5" font-family='"Liberation Sans", Arial, sans-serif' text-anchor="start" fill="#141414">280</text>
<text x="577.2" y="1404.8" font-size="74" font-family='"Liberation Serif", "Times New Roman", serif' fill="#000" textLength="579.5" lengthAdjust="spacingAndGlyphs" xml:space="preserve">(<tspan font-weight="bold">a</tspan>) Wind speed  <tspan font-style="italic">U</tspan></text>
<text x="622.6" y="2909.6" font-size="74" font-family='"Liberation Serif", "Times New Roman", serif' fill="#000" textLength="500.7" lengthAdjust="spacingAndGlyphs" xml:space="preserve">(<tspan font-weight="bold">b</tspan>) Direction  <tspan font-style="italic">α</tspan></text>
<text x="566.1" y="4488.5" font-size="74" font-family='"Liberation Serif", "Times New Roman", serif' fill="#000" textLength="608.7" lengthAdjust="spacingAndGlyphs" xml:space="preserve">(<tspan font-weight="bold">c</tspan>) Temperature  <tspan font-style="italic">T</tspan></text>
<text x="197.4" y="1198" font-size="48" font-family='"Liberation Serif", "Times New Roman", serif' fill="#141414" textLength="280.6" lengthAdjust="spacingAndGlyphs" xml:space="preserve">Time (hh:mm)</text>
<text x="1160" y="1213.8" font-size="48" font-family='"Liberation Serif", "Times New Roman", serif' fill="#141414" textLength="213.5" lengthAdjust="spacingAndGlyphs" xml:space="preserve">Height (m)</text>
<text x="199" y="2708.4" font-size="48" font-family='"Liberation Serif", "Times New Roman", serif' fill="#141414" textLength="279.5" lengthAdjust="spacingAndGlyphs" xml:space="preserve">Time (hh:mm)</text>
<text x="1155" y="2724.7" font-size="48" font-family='"Liberation Serif", "Times New Roman", serif' fill="#141414" textLength="214.5" lengthAdjust="spacingAndGlyphs" xml:space="preserve">Height (m)</text>
<text x="171.7" y="4279" font-size="49.5" font-family='"Liberation Serif", "Times New Roman", serif' fill="#141414" textLength="289.3" lengthAdjust="spacingAndGlyphs" xml:space="preserve">Time (hh:mm)</text>
<text x="1173" y="4297" font-size="49.5" font-family='"Liberation Serif", "Times New Roman", serif' fill="#141414" textLength="219.9" lengthAdjust="spacingAndGlyphs" xml:space="preserve">Height (m)</text>
<text transform="translate(54.4,625.6) rotate(-90)" font-size="48.5" font-family='"Liberation Serif", "Times New Roman", serif' fill="#141414" textLength="136.6" lengthAdjust="spacingAndGlyphs"><tspan font-style="italic">U</tspan>(m/s)</text>
<text transform="translate(64.9,2111.8) rotate(-90)" font-size="48.5" font-family='"Liberation Serif", "Times New Roman", serif' fill="#141414" textLength="78" lengthAdjust="spacingAndGlyphs"><tspan font-style="italic">α</tspan>(°)</text>
<text transform="translate(58,3670) rotate(-90)" font-size="48.5" font-family='"Liberation Serif", "Times New Roman", serif' fill="#141414" textLength="112.5" lengthAdjust="spacingAndGlyphs"><tspan font-style="italic">T</tspan>(°C)</text></svg>
</body></html>
